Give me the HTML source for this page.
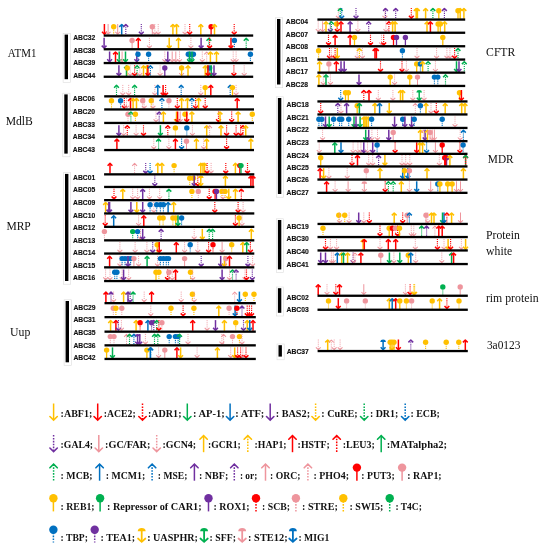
<!DOCTYPE html>
<html><head><meta charset="utf-8"><title>Figure</title>
<style>
html,body{margin:0;padding:0;background:#fff}
svg{display:block}
text{font-family:"Liberation Serif",serif;fill:#000}
.l{font-family:"Liberation Sans",sans-serif;font-weight:bold;font-size:7.7px;fill:#111;stroke:#111;stroke-width:0.15px}
.g{font-size:11.8px;fill:#111}
.k{font-weight:bold;font-size:10.4px;fill:#111;white-space:pre}
</style></head><body>
<svg width="543" height="550" viewBox="0 0 543 550">
<rect width="543" height="550" fill="#fff"/>
<rect x="64.6" y="34.6" width="3.4" height="44.6" fill="#000"/>
<rect x="63.1" y="33.4" width="7.2" height="49.0" fill="none" stroke="#dcdcdc" stroke-width="0.6"/>
<text class="l" x="73.2" y="40.0" textLength="22.2" lengthAdjust="spacingAndGlyphs">ABC32</text>
<text class="l" x="73.2" y="52.7" textLength="22.2" lengthAdjust="spacingAndGlyphs">ABC38</text>
<text class="l" x="73.2" y="64.9" textLength="22.2" lengthAdjust="spacingAndGlyphs">ABC39</text>
<text class="l" x="73.2" y="77.6" textLength="22.2" lengthAdjust="spacingAndGlyphs">ABC44</text>
<path d="M104.4 24.0V34.1" stroke="#FF0000" stroke-width="1.5" fill="none"/><path d="M102.0 31.8L104.4 34.2L106.8 31.8" stroke="#FF0000" stroke-width="1.5" fill="none" stroke-linejoin="round"/>
<path d="M108.1 24.0V34.1" stroke="#EE959D" stroke-width="1.0" fill="none"/><path d="M105.7 31.8L108.1 34.2L110.5 31.8" stroke="#EE959D" stroke-width="1.05" fill="none" stroke-linejoin="round"/>
<path d="M113.7 26.0V34.7" stroke="#FFC000" stroke-width="1.1" fill="none" stroke-dasharray="1.1 1.0"/><circle cx="113.7" cy="26.7" r="2.7" fill="#FFC000"/>
<path d="M117.7 24.0V34.1" stroke="#EE959D" stroke-width="1.0" fill="none"/><path d="M115.3 31.8L117.7 34.2L120.1 31.8" stroke="#EE959D" stroke-width="1.05" fill="none" stroke-linejoin="round"/>
<path d="M121.7 24.6V34.7" stroke="#0070C0" stroke-width="1.5" fill="none"/><path d="M119.3 26.9L121.7 24.5L124.1 26.9" stroke="#0070C0" stroke-width="1.5" fill="none" stroke-linejoin="round"/>
<path d="M125.8 24.6V34.7" stroke="#7030A0" stroke-width="1.15" fill="none" stroke-dasharray="1.1 1.0"/><path d="M123.4 26.9L125.8 24.5L128.2 26.9" stroke="#7030A0" stroke-width="1.5" fill="none" stroke-linejoin="round"/>
<path d="M141.3 24.0V34.1" stroke="#7030A0" stroke-width="1.15" fill="none" stroke-dasharray="1.1 1.0"/><path d="M138.9 31.8L141.3 34.2L143.7 31.8" stroke="#7030A0" stroke-width="1.5" fill="none" stroke-linejoin="round"/>
<path d="M152.3 26.0V34.7" stroke="#EE959D" stroke-width="1.0" fill="none"/><circle cx="152.3" cy="26.7" r="2.7" fill="#EE959D"/>
<path d="M154.8 24.0V34.1" stroke="#EE959D" stroke-width="0.85" fill="none" stroke-dasharray="1.1 1.0"/><path d="M152.4 31.8L154.8 34.2L157.2 31.8" stroke="#EE959D" stroke-width="1.05" fill="none" stroke-linejoin="round"/>
<path d="M158.2 24.0V34.1" stroke="#EE959D" stroke-width="0.85" fill="none" stroke-dasharray="1.1 1.0"/><path d="M155.8 31.8L158.2 34.2L160.6 31.8" stroke="#EE959D" stroke-width="1.05" fill="none" stroke-linejoin="round"/>
<path d="M172.9 24.6V34.7" stroke="#FFC000" stroke-width="1.5" fill="none"/><path d="M170.5 26.9L172.9 24.5L175.3 26.9" stroke="#FFC000" stroke-width="1.5" fill="none" stroke-linejoin="round"/>
<path d="M176.6 24.6V34.7" stroke="#FFC000" stroke-width="1.5" fill="none"/><path d="M174.2 26.9L176.6 24.5L179.0 26.9" stroke="#FFC000" stroke-width="1.5" fill="none" stroke-linejoin="round"/>
<path d="M185.0 24.0V34.1" stroke="#EE959D" stroke-width="0.85" fill="none" stroke-dasharray="1.1 1.0"/><path d="M182.6 31.8L185.0 34.2L187.4 31.8" stroke="#EE959D" stroke-width="1.05" fill="none" stroke-linejoin="round"/>
<path d="M189.7 24.0V34.1" stroke="#FF0000" stroke-width="1.15" fill="none" stroke-dasharray="1.1 1.0"/><path d="M187.3 31.8L189.7 34.2L192.1 31.8" stroke="#FF0000" stroke-width="1.5" fill="none" stroke-linejoin="round"/>
<path d="M200.8 24.6V34.7" stroke="#FFC000" stroke-width="1.5" fill="none"/><path d="M198.4 26.9L200.8 24.5L203.2 26.9" stroke="#FFC000" stroke-width="1.5" fill="none" stroke-linejoin="round"/>
<path d="M211.1 26.0V34.7" stroke="#FF0000" stroke-width="1.3" fill="none"/><circle cx="211.1" cy="26.7" r="2.7" fill="#FF0000"/>
<path d="M214.5 24.6V34.7" stroke="#FFC000" stroke-width="1.5" fill="none"/><path d="M212.1 26.9L214.5 24.5L216.9 26.9" stroke="#FFC000" stroke-width="1.5" fill="none" stroke-linejoin="round"/>
<path d="M234.2 24.0V34.1" stroke="#FF0000" stroke-width="1.15" fill="none" stroke-dasharray="1.1 1.0"/><path d="M231.8 31.8L234.2 34.2L236.6 31.8" stroke="#FF0000" stroke-width="1.5" fill="none" stroke-linejoin="round"/>
<path d="M104.1 37.8V47.9" stroke="#7030A0" stroke-width="1.5" fill="none"/><path d="M101.7 45.6L104.1 48.0L106.5 45.6" stroke="#7030A0" stroke-width="1.5" fill="none" stroke-linejoin="round"/>
<path d="M132.1 39.8V48.5" stroke="#EE959D" stroke-width="1.0" fill="none"/><circle cx="132.1" cy="40.5" r="2.7" fill="#EE959D"/>
<path d="M138.3 38.4V48.5" stroke="#FF0000" stroke-width="1.5" fill="none"/><path d="M135.9 40.7L138.3 38.3L140.7 40.7" stroke="#FF0000" stroke-width="1.5" fill="none" stroke-linejoin="round"/>
<path d="M149.4 37.8V47.9" stroke="#EE959D" stroke-width="0.85" fill="none" stroke-dasharray="1.1 1.0"/><path d="M147.0 45.6L149.4 48.0L151.8 45.6" stroke="#EE959D" stroke-width="1.05" fill="none" stroke-linejoin="round"/>
<path d="M169.2 37.8V47.9" stroke="#FFC000" stroke-width="1.5" fill="none"/><path d="M166.8 45.6L169.2 48.0L171.6 45.6" stroke="#FFC000" stroke-width="1.5" fill="none" stroke-linejoin="round"/>
<path d="M178.5 38.4V48.5" stroke="#FFC000" stroke-width="1.5" fill="none"/><path d="M176.1 40.7L178.5 38.3L180.9 40.7" stroke="#FFC000" stroke-width="1.5" fill="none" stroke-linejoin="round"/>
<path d="M190.9 37.8V47.9" stroke="#EE959D" stroke-width="0.85" fill="none" stroke-dasharray="1.1 1.0"/><path d="M188.5 45.6L190.9 48.0L193.3 45.6" stroke="#EE959D" stroke-width="1.05" fill="none" stroke-linejoin="round"/>
<path d="M201.1 37.8V47.9" stroke="#7030A0" stroke-width="1.5" fill="none"/><path d="M198.7 45.6L201.1 48.0L203.5 45.6" stroke="#7030A0" stroke-width="1.5" fill="none" stroke-linejoin="round"/>
<path d="M208.9 38.4V48.5" stroke="#00B050" stroke-width="1.15" fill="none" stroke-dasharray="1.1 1.0"/><path d="M206.5 40.7L208.9 38.3L211.3 40.7" stroke="#00B050" stroke-width="1.5" fill="none" stroke-linejoin="round"/>
<path d="M209.6 37.8V47.9" stroke="#FF0000" stroke-width="1.15" fill="none" stroke-dasharray="1.1 1.0"/><path d="M207.2 45.6L209.6 48.0L212.0 45.6" stroke="#FF0000" stroke-width="1.5" fill="none" stroke-linejoin="round"/>
<path d="M231.0 37.8V47.9" stroke="#FF0000" stroke-width="1.5" fill="none"/><path d="M228.6 45.6L231.0 48.0L233.4 45.6" stroke="#FF0000" stroke-width="1.5" fill="none" stroke-linejoin="round"/>
<path d="M234.4 39.8V48.5" stroke="#0070C0" stroke-width="1.1" fill="none" stroke-dasharray="1.1 1.0"/><circle cx="234.4" cy="40.5" r="2.7" fill="#0070C0"/>
<path d="M246.2 38.4V48.5" stroke="#00B050" stroke-width="1.15" fill="none" stroke-dasharray="1.1 1.0"/><path d="M243.8 40.7L246.2 38.3L248.6 40.7" stroke="#00B050" stroke-width="1.5" fill="none" stroke-linejoin="round"/>
<path d="M109.6 51.5V61.6" stroke="#7030A0" stroke-width="1.5" fill="none"/><path d="M107.2 59.3L109.6 61.7L112.0 59.3" stroke="#7030A0" stroke-width="1.5" fill="none" stroke-linejoin="round"/>
<path d="M115.5 52.1V62.2" stroke="#FF0000" stroke-width="1.5" fill="none"/><path d="M113.1 54.4L115.5 52.0L117.9 54.4" stroke="#FF0000" stroke-width="1.5" fill="none" stroke-linejoin="round"/>
<path d="M119.2 51.5V61.6" stroke="#00B050" stroke-width="1.5" fill="none"/><path d="M116.8 59.3L119.2 61.7L121.6 59.3" stroke="#00B050" stroke-width="1.5" fill="none" stroke-linejoin="round"/>
<path d="M122.1 51.5V61.6" stroke="#EE959D" stroke-width="1.0" fill="none"/><path d="M119.7 59.3L122.1 61.7L124.5 59.3" stroke="#EE959D" stroke-width="1.05" fill="none" stroke-linejoin="round"/>
<path d="M125.5 51.5V61.6" stroke="#00B050" stroke-width="1.5" fill="none"/><path d="M123.1 59.3L125.5 61.7L127.9 59.3" stroke="#00B050" stroke-width="1.5" fill="none" stroke-linejoin="round"/>
<path d="M136.8 51.5V61.6" stroke="#7030A0" stroke-width="1.5" fill="none"/><path d="M134.4 59.3L136.8 61.7L139.2 59.3" stroke="#7030A0" stroke-width="1.5" fill="none" stroke-linejoin="round"/>
<path d="M138.0 53.5V62.2" stroke="#0070C0" stroke-width="1.1" fill="none" stroke-dasharray="1.1 1.0"/><circle cx="138.0" cy="54.2" r="2.7" fill="#0070C0"/>
<path d="M148.6 53.5V62.2" stroke="#0070C0" stroke-width="1.1" fill="none" stroke-dasharray="1.1 1.0"/><circle cx="148.6" cy="54.2" r="2.7" fill="#0070C0"/>
<path d="M164.8 51.5V61.6" stroke="#EE959D" stroke-width="0.85" fill="none" stroke-dasharray="1.1 1.0"/><path d="M162.4 59.3L164.8 61.7L167.2 59.3" stroke="#EE959D" stroke-width="1.05" fill="none" stroke-linejoin="round"/>
<path d="M167.8 51.5V61.6" stroke="#7030A0" stroke-width="1.5" fill="none"/><path d="M165.4 59.3L167.8 61.7L170.2 59.3" stroke="#7030A0" stroke-width="1.5" fill="none" stroke-linejoin="round"/>
<path d="M172.2 51.5V61.6" stroke="#EE959D" stroke-width="1.0" fill="none"/><path d="M169.8 59.3L172.2 61.7L174.6 59.3" stroke="#EE959D" stroke-width="1.05" fill="none" stroke-linejoin="round"/>
<path d="M175.8 51.5V61.6" stroke="#EE959D" stroke-width="1.0" fill="none"/><path d="M173.4 59.3L175.8 61.7L178.2 59.3" stroke="#EE959D" stroke-width="1.05" fill="none" stroke-linejoin="round"/>
<path d="M179.5 51.5V61.6" stroke="#EE959D" stroke-width="0.85" fill="none" stroke-dasharray="1.1 1.0"/><path d="M177.1 59.3L179.5 61.7L181.9 59.3" stroke="#EE959D" stroke-width="1.05" fill="none" stroke-linejoin="round"/>
<path d="M188.3 53.5V62.2" stroke="#0070C0" stroke-width="1.1" fill="none" stroke-dasharray="1.1 1.0"/><circle cx="188.3" cy="54.2" r="2.7" fill="#0070C0"/>
<path d="M190.5 53.5V62.2" stroke="#0070C0" stroke-width="1.1" fill="none" stroke-dasharray="1.1 1.0"/><circle cx="190.5" cy="54.2" r="2.7" fill="#0070C0"/>
<path d="M193.4 53.5V62.2" stroke="#0070C0" stroke-width="1.1" fill="none" stroke-dasharray="1.1 1.0"/><circle cx="193.4" cy="54.2" r="2.7" fill="#0070C0"/>
<path d="M189.5 51.5V61.6" stroke="#00B050" stroke-width="1.5" fill="none"/><path d="M187.1 59.3L189.5 61.7L191.9 59.3" stroke="#00B050" stroke-width="1.5" fill="none" stroke-linejoin="round"/>
<path d="M192.0 51.5V61.6" stroke="#00B050" stroke-width="1.5" fill="none"/><path d="M189.6 59.3L192.0 61.7L194.4 59.3" stroke="#00B050" stroke-width="1.5" fill="none" stroke-linejoin="round"/>
<path d="M202.3 51.5V61.6" stroke="#EE959D" stroke-width="0.85" fill="none" stroke-dasharray="1.1 1.0"/><path d="M199.9 59.3L202.3 61.7L204.7 59.3" stroke="#EE959D" stroke-width="1.05" fill="none" stroke-linejoin="round"/>
<path d="M206.7 52.1V62.2" stroke="#EE959D" stroke-width="0.85" fill="none" stroke-dasharray="1.1 1.0"/><path d="M204.3 54.4L206.7 52.0L209.1 54.4" stroke="#EE959D" stroke-width="1.05" fill="none" stroke-linejoin="round"/>
<path d="M210.4 52.1V62.2" stroke="#FFC000" stroke-width="1.5" fill="none"/><path d="M208.0 54.4L210.4 52.0L212.8 54.4" stroke="#FFC000" stroke-width="1.5" fill="none" stroke-linejoin="round"/>
<path d="M216.5 52.1V62.2" stroke="#FFC000" stroke-width="1.5" fill="none"/><path d="M214.1 54.4L216.5 52.0L218.9 54.4" stroke="#FFC000" stroke-width="1.5" fill="none" stroke-linejoin="round"/>
<path d="M233.2 51.5V61.6" stroke="#EE959D" stroke-width="0.85" fill="none" stroke-dasharray="1.1 1.0"/><path d="M230.8 59.3L233.2 61.7L235.6 59.3" stroke="#EE959D" stroke-width="1.05" fill="none" stroke-linejoin="round"/>
<path d="M236.1 51.5V61.6" stroke="#EE959D" stroke-width="0.85" fill="none" stroke-dasharray="1.1 1.0"/><path d="M233.7 59.3L236.1 61.7L238.5 59.3" stroke="#EE959D" stroke-width="1.05" fill="none" stroke-linejoin="round"/>
<path d="M250.4 53.5V62.2" stroke="#0070C0" stroke-width="1.1" fill="none" stroke-dasharray="1.1 1.0"/><circle cx="250.4" cy="54.2" r="2.7" fill="#0070C0"/>
<path d="M118.9 65.3V75.4" stroke="#7030A0" stroke-width="1.5" fill="none"/><path d="M116.5 73.1L118.9 75.5L121.3 73.1" stroke="#7030A0" stroke-width="1.5" fill="none" stroke-linejoin="round"/>
<path d="M126.5 65.9V76.0" stroke="#00B050" stroke-width="1.5" fill="none"/><path d="M124.1 68.2L126.5 65.8L128.9 68.2" stroke="#00B050" stroke-width="1.5" fill="none" stroke-linejoin="round"/>
<path d="M127.3 67.3V76.0" stroke="#FFC000" stroke-width="1.1" fill="none" stroke-dasharray="1.1 1.0"/><circle cx="127.3" cy="68.0" r="2.7" fill="#FFC000"/>
<path d="M130.2 65.3V75.4" stroke="#EE959D" stroke-width="0.85" fill="none" stroke-dasharray="1.1 1.0"/><path d="M127.8 73.1L130.2 75.5L132.6 73.1" stroke="#EE959D" stroke-width="1.05" fill="none" stroke-linejoin="round"/>
<path d="M134.6 65.3V75.4" stroke="#FF0000" stroke-width="1.15" fill="none" stroke-dasharray="1.1 1.0"/><path d="M132.2 73.1L134.6 75.5L137.0 73.1" stroke="#FF0000" stroke-width="1.5" fill="none" stroke-linejoin="round"/>
<path d="M137.1 65.9V76.0" stroke="#00B050" stroke-width="1.15" fill="none" stroke-dasharray="1.1 1.0"/><path d="M134.7 68.2L137.1 65.8L139.5 68.2" stroke="#00B050" stroke-width="1.5" fill="none" stroke-linejoin="round"/>
<path d="M139.8 65.3V75.4" stroke="#EE959D" stroke-width="0.85" fill="none" stroke-dasharray="1.1 1.0"/><path d="M137.4 73.1L139.8 75.5L142.2 73.1" stroke="#EE959D" stroke-width="1.05" fill="none" stroke-linejoin="round"/>
<path d="M143.5 65.9V76.0" stroke="#FFC000" stroke-width="1.5" fill="none"/><path d="M141.1 68.2L143.5 65.8L145.9 68.2" stroke="#FFC000" stroke-width="1.5" fill="none" stroke-linejoin="round"/>
<path d="M146.9 65.9V76.0" stroke="#FFC000" stroke-width="1.5" fill="none"/><path d="M144.5 68.2L146.9 65.8L149.3 68.2" stroke="#FFC000" stroke-width="1.5" fill="none" stroke-linejoin="round"/>
<path d="M147.9 65.3V75.4" stroke="#FF0000" stroke-width="1.5" fill="none"/><path d="M145.5 73.1L147.9 75.5L150.3 73.1" stroke="#FF0000" stroke-width="1.5" fill="none" stroke-linejoin="round"/>
<path d="M150.4 65.9V76.0" stroke="#0070C0" stroke-width="1.15" fill="none" stroke-dasharray="1.1 1.0"/><path d="M148.0 68.2L150.4 65.8L152.8 68.2" stroke="#0070C0" stroke-width="1.5" fill="none" stroke-linejoin="round"/>
<path d="M160.1 65.3V75.4" stroke="#EE959D" stroke-width="0.85" fill="none" stroke-dasharray="1.1 1.0"/><path d="M157.7 73.1L160.1 75.5L162.5 73.1" stroke="#EE959D" stroke-width="1.05" fill="none" stroke-linejoin="round"/>
<path d="M164.8 67.3V76.0" stroke="#7030A0" stroke-width="1.3" fill="none"/><circle cx="164.8" cy="68.0" r="2.7" fill="#7030A0"/>
<path d="M181.6 65.3V75.4" stroke="#EE959D" stroke-width="0.85" fill="none" stroke-dasharray="1.1 1.0"/><path d="M179.2 73.1L181.6 75.5L184.0 73.1" stroke="#EE959D" stroke-width="1.05" fill="none" stroke-linejoin="round"/>
<path d="M181.6 67.3V76.0" stroke="#FFC000" stroke-width="1.3" fill="none"/><circle cx="181.6" cy="68.0" r="2.7" fill="#FFC000"/>
<path d="M188.0 65.9V76.0" stroke="#FFC000" stroke-width="1.5" fill="none"/><path d="M185.6 68.2L188.0 65.8L190.4 68.2" stroke="#FFC000" stroke-width="1.5" fill="none" stroke-linejoin="round"/>
<path d="M205.2 65.9V76.0" stroke="#FFC000" stroke-width="1.5" fill="none"/><path d="M202.8 68.2L205.2 65.8L207.6 68.2" stroke="#FFC000" stroke-width="1.5" fill="none" stroke-linejoin="round"/>
<path d="M207.4 65.9V76.0" stroke="#FFC000" stroke-width="1.5" fill="none"/><path d="M205.0 68.2L207.4 65.8L209.8 68.2" stroke="#FFC000" stroke-width="1.5" fill="none" stroke-linejoin="round"/>
<path d="M209.6 67.3V76.0" stroke="#0070C0" stroke-width="1.1" fill="none" stroke-dasharray="1.1 1.0"/><circle cx="209.6" cy="68.0" r="2.7" fill="#0070C0"/>
<path d="M211.2 65.3V75.4" stroke="#00B050" stroke-width="1.5" fill="none"/><path d="M208.8 73.1L211.2 75.5L213.6 73.1" stroke="#00B050" stroke-width="1.5" fill="none" stroke-linejoin="round"/>
<path d="M214.0 65.3V75.4" stroke="#7030A0" stroke-width="1.5" fill="none"/><path d="M211.6 73.1L214.0 75.5L216.4 73.1" stroke="#7030A0" stroke-width="1.5" fill="none" stroke-linejoin="round"/>
<path d="M208.0 65.3V75.4" stroke="#FF0000" stroke-width="1.5" fill="none"/><path d="M205.6 73.1L208.0 75.5L210.4 73.1" stroke="#FF0000" stroke-width="1.5" fill="none" stroke-linejoin="round"/>
<path d="M233.9 65.3V75.4" stroke="#FF0000" stroke-width="1.15" fill="none" stroke-dasharray="1.1 1.0"/><path d="M231.5 73.1L233.9 75.5L236.3 73.1" stroke="#FF0000" stroke-width="1.5" fill="none" stroke-linejoin="round"/>
<path d="M244.2 65.3V75.4" stroke="#EE959D" stroke-width="0.85" fill="none" stroke-dasharray="1.1 1.0"/><path d="M241.8 73.1L244.2 75.5L246.6 73.1" stroke="#EE959D" stroke-width="1.05" fill="none" stroke-linejoin="round"/>
<rect x="103.7" y="34.4" width="149.5" height="2.3" fill="#000"/>
<rect x="103.7" y="48.1" width="149.5" height="2.3" fill="#000"/>
<rect x="103.7" y="61.9" width="149.5" height="2.3" fill="#000"/>
<rect x="103.7" y="75.6" width="149.5" height="2.3" fill="#000"/>
<text class="g" x="7.8" y="56.6" textLength="28.6" lengthAdjust="spacingAndGlyphs">ATM1</text>
<rect x="64.3" y="94.4" width="3.4" height="59.2" fill="#000"/>
<rect x="62.8" y="93.2" width="7.2" height="63.6" fill="none" stroke="#dcdcdc" stroke-width="0.6"/>
<text class="l" x="72.8" y="101.4" textLength="22.2" lengthAdjust="spacingAndGlyphs">ABC06</text>
<text class="l" x="72.8" y="113.8" textLength="22.2" lengthAdjust="spacingAndGlyphs">ABC20</text>
<text class="l" x="72.8" y="126.6" textLength="22.2" lengthAdjust="spacingAndGlyphs">ABC33</text>
<text class="l" x="72.8" y="139.2" textLength="22.2" lengthAdjust="spacingAndGlyphs">ABC34</text>
<text class="l" x="72.8" y="151.9" textLength="22.2" lengthAdjust="spacingAndGlyphs">ABC43</text>
<path d="M116.5 85.5V95.6" stroke="#00B050" stroke-width="1.15" fill="none" stroke-dasharray="1.1 1.0"/><path d="M114.1 87.8L116.5 85.4L118.9 87.8" stroke="#00B050" stroke-width="1.5" fill="none" stroke-linejoin="round"/>
<path d="M122.8 84.9V95.0" stroke="#EE959D" stroke-width="0.85" fill="none" stroke-dasharray="1.1 1.0"/><path d="M120.4 92.7L122.8 95.1L125.2 92.7" stroke="#EE959D" stroke-width="1.05" fill="none" stroke-linejoin="round"/>
<path d="M128.7 84.9V95.0" stroke="#EE959D" stroke-width="0.85" fill="none" stroke-dasharray="1.1 1.0"/><path d="M126.3 92.7L128.7 95.1L131.1 92.7" stroke="#EE959D" stroke-width="1.05" fill="none" stroke-linejoin="round"/>
<path d="M134.6 85.5V95.6" stroke="#00B050" stroke-width="1.15" fill="none" stroke-dasharray="1.1 1.0"/><path d="M132.2 87.8L134.6 85.4L137.0 87.8" stroke="#00B050" stroke-width="1.5" fill="none" stroke-linejoin="round"/>
<path d="M154.8 84.9V95.0" stroke="#EE959D" stroke-width="0.85" fill="none" stroke-dasharray="1.1 1.0"/><path d="M152.4 92.7L154.8 95.1L157.2 92.7" stroke="#EE959D" stroke-width="1.05" fill="none" stroke-linejoin="round"/>
<path d="M157.8 85.5V95.6" stroke="#0070C0" stroke-width="1.5" fill="none"/><path d="M155.4 87.8L157.8 85.4L160.2 87.8" stroke="#0070C0" stroke-width="1.5" fill="none" stroke-linejoin="round"/>
<path d="M163.1 84.9V95.0" stroke="#FF0000" stroke-width="1.5" fill="none"/><path d="M160.7 92.7L163.1 95.1L165.5 92.7" stroke="#FF0000" stroke-width="1.5" fill="none" stroke-linejoin="round"/>
<path d="M165.6 84.9V95.0" stroke="#FF0000" stroke-width="1.15" fill="none" stroke-dasharray="1.1 1.0"/><path d="M163.2 92.7L165.6 95.1L168.0 92.7" stroke="#FF0000" stroke-width="1.5" fill="none" stroke-linejoin="round"/>
<path d="M181.2 85.5V95.6" stroke="#0070C0" stroke-width="1.15" fill="none" stroke-dasharray="1.1 1.0"/><path d="M178.8 87.8L181.2 85.4L183.6 87.8" stroke="#0070C0" stroke-width="1.5" fill="none" stroke-linejoin="round"/>
<path d="M200.8 84.9V95.0" stroke="#EE959D" stroke-width="0.85" fill="none" stroke-dasharray="1.1 1.0"/><path d="M198.4 92.7L200.8 95.1L203.2 92.7" stroke="#EE959D" stroke-width="1.05" fill="none" stroke-linejoin="round"/>
<path d="M205.2 86.9V95.6" stroke="#FFC000" stroke-width="1.3" fill="none"/><circle cx="205.2" cy="87.6" r="2.7" fill="#FFC000"/>
<path d="M210.8 85.5V95.6" stroke="#FF0000" stroke-width="1.5" fill="none"/><path d="M208.4 87.8L210.8 85.4L213.2 87.8" stroke="#FF0000" stroke-width="1.5" fill="none" stroke-linejoin="round"/>
<path d="M230.2 85.5V95.6" stroke="#0070C0" stroke-width="1.15" fill="none" stroke-dasharray="1.1 1.0"/><path d="M227.8 87.8L230.2 85.4L232.6 87.8" stroke="#0070C0" stroke-width="1.5" fill="none" stroke-linejoin="round"/>
<path d="M232.5 86.9V95.6" stroke="#FFC000" stroke-width="1.3" fill="none"/><circle cx="232.5" cy="87.6" r="2.7" fill="#FFC000"/>
<path d="M236.1 84.9V95.0" stroke="#EE959D" stroke-width="0.85" fill="none" stroke-dasharray="1.1 1.0"/><path d="M233.7 92.7L236.1 95.1L238.5 92.7" stroke="#EE959D" stroke-width="1.05" fill="none" stroke-linejoin="round"/>
<path d="M111.5 100.0V108.7" stroke="#FFC000" stroke-width="1.1" fill="none" stroke-dasharray="1.1 1.0"/><circle cx="111.5" cy="100.7" r="2.7" fill="#FFC000"/>
<path d="M120.6 100.0V108.7" stroke="#0070C0" stroke-width="1.1" fill="none" stroke-dasharray="1.1 1.0"/><circle cx="120.6" cy="100.7" r="2.7" fill="#0070C0"/>
<path d="M124.3 98.0V108.1" stroke="#FF0000" stroke-width="1.15" fill="none" stroke-dasharray="1.1 1.0"/><path d="M121.9 105.8L124.3 108.2L126.7 105.8" stroke="#FF0000" stroke-width="1.5" fill="none" stroke-linejoin="round"/>
<path d="M126.5 98.0V108.1" stroke="#EE959D" stroke-width="0.85" fill="none" stroke-dasharray="1.1 1.0"/><path d="M124.1 105.8L126.5 108.2L128.9 105.8" stroke="#EE959D" stroke-width="1.05" fill="none" stroke-linejoin="round"/>
<path d="M130.5 98.6V108.7" stroke="#FF0000" stroke-width="1.5" fill="none"/><path d="M128.1 100.9L130.5 98.5L132.9 100.9" stroke="#FF0000" stroke-width="1.5" fill="none" stroke-linejoin="round"/>
<path d="M133.1 98.6V108.7" stroke="#FFC000" stroke-width="1.5" fill="none"/><path d="M130.7 100.9L133.1 98.5L135.5 100.9" stroke="#FFC000" stroke-width="1.5" fill="none" stroke-linejoin="round"/>
<path d="M136.5 98.6V108.7" stroke="#FFC000" stroke-width="1.5" fill="none"/><path d="M134.1 100.9L136.5 98.5L138.9 100.9" stroke="#FFC000" stroke-width="1.5" fill="none" stroke-linejoin="round"/>
<path d="M142.7 100.0V108.7" stroke="#EE959D" stroke-width="0.85" fill="none" stroke-dasharray="1.1 1.0"/><circle cx="142.7" cy="100.7" r="2.7" fill="#EE959D"/>
<path d="M144.2 98.0V108.1" stroke="#EE959D" stroke-width="0.85" fill="none" stroke-dasharray="1.1 1.0"/><path d="M141.8 105.8L144.2 108.2L146.6 105.8" stroke="#EE959D" stroke-width="1.05" fill="none" stroke-linejoin="round"/>
<path d="M151.3 100.0V108.7" stroke="#FFC000" stroke-width="1.1" fill="none" stroke-dasharray="1.1 1.0"/><circle cx="151.3" cy="100.7" r="2.7" fill="#FFC000"/>
<path d="M153.0 98.0V108.1" stroke="#EE959D" stroke-width="0.85" fill="none" stroke-dasharray="1.1 1.0"/><path d="M150.6 105.8L153.0 108.2L155.4 105.8" stroke="#EE959D" stroke-width="1.05" fill="none" stroke-linejoin="round"/>
<path d="M161.9 98.6V108.7" stroke="#0070C0" stroke-width="1.15" fill="none" stroke-dasharray="1.1 1.0"/><path d="M159.5 100.9L161.9 98.5L164.3 100.9" stroke="#0070C0" stroke-width="1.5" fill="none" stroke-linejoin="round"/>
<path d="M168.9 100.0V108.7" stroke="#EE959D" stroke-width="0.85" fill="none" stroke-dasharray="1.1 1.0"/><circle cx="168.9" cy="100.7" r="2.7" fill="#EE959D"/>
<path d="M177.3 98.0V108.1" stroke="#FF0000" stroke-width="1.15" fill="none" stroke-dasharray="1.1 1.0"/><path d="M174.9 105.8L177.3 108.2L179.7 105.8" stroke="#FF0000" stroke-width="1.5" fill="none" stroke-linejoin="round"/>
<path d="M181.6 98.6V108.7" stroke="#FFC000" stroke-width="1.5" fill="none"/><path d="M179.2 100.9L181.6 98.5L184.0 100.9" stroke="#FFC000" stroke-width="1.5" fill="none" stroke-linejoin="round"/>
<path d="M187.5 98.6V108.7" stroke="#FFC000" stroke-width="1.5" fill="none"/><path d="M185.1 100.9L187.5 98.5L189.9 100.9" stroke="#FFC000" stroke-width="1.5" fill="none" stroke-linejoin="round"/>
<path d="M191.9 98.6V108.7" stroke="#0070C0" stroke-width="1.15" fill="none" stroke-dasharray="1.1 1.0"/><path d="M189.5 100.9L191.9 98.5L194.3 100.9" stroke="#0070C0" stroke-width="1.5" fill="none" stroke-linejoin="round"/>
<path d="M195.6 98.0V108.1" stroke="#FF0000" stroke-width="1.15" fill="none" stroke-dasharray="1.1 1.0"/><path d="M193.2 105.8L195.6 108.2L198.0 105.8" stroke="#FF0000" stroke-width="1.5" fill="none" stroke-linejoin="round"/>
<path d="M198.6 98.6V108.7" stroke="#FFC000" stroke-width="1.5" fill="none"/><path d="M196.2 100.9L198.6 98.5L201.0 100.9" stroke="#FFC000" stroke-width="1.5" fill="none" stroke-linejoin="round"/>
<path d="M205.2 98.0V108.1" stroke="#FF0000" stroke-width="1.15" fill="none" stroke-dasharray="1.1 1.0"/><path d="M202.8 105.8L205.2 108.2L207.6 105.8" stroke="#FF0000" stroke-width="1.5" fill="none" stroke-linejoin="round"/>
<path d="M237.2 98.6V108.7" stroke="#FF0000" stroke-width="1.5" fill="none"/><path d="M234.8 100.9L237.2 98.5L239.6 100.9" stroke="#FF0000" stroke-width="1.5" fill="none" stroke-linejoin="round"/>
<path d="M128.0 113.5V122.2" stroke="#EE959D" stroke-width="0.85" fill="none" stroke-dasharray="1.1 1.0"/><circle cx="128.0" cy="114.2" r="2.7" fill="#EE959D"/>
<path d="M130.9 112.1V122.2" stroke="#00B050" stroke-width="1.15" fill="none" stroke-dasharray="1.1 1.0"/><path d="M128.5 114.4L130.9 112.0L133.3 114.4" stroke="#00B050" stroke-width="1.5" fill="none" stroke-linejoin="round"/>
<path d="M135.4 113.5V122.2" stroke="#FFC000" stroke-width="1.1" fill="none" stroke-dasharray="1.1 1.0"/><circle cx="135.4" cy="114.2" r="2.7" fill="#FFC000"/>
<path d="M156.0 111.5V121.6" stroke="#EE959D" stroke-width="0.85" fill="none" stroke-dasharray="1.1 1.0"/><path d="M153.6 119.3L156.0 121.7L158.4 119.3" stroke="#EE959D" stroke-width="1.05" fill="none" stroke-linejoin="round"/>
<path d="M159.2 112.1V122.2" stroke="#7030A0" stroke-width="1.15" fill="none" stroke-dasharray="1.1 1.0"/><path d="M156.8 114.4L159.2 112.0L161.6 114.4" stroke="#7030A0" stroke-width="1.5" fill="none" stroke-linejoin="round"/>
<path d="M163.4 112.1V122.2" stroke="#FFC000" stroke-width="1.5" fill="none"/><path d="M161.0 114.4L163.4 112.0L165.8 114.4" stroke="#FFC000" stroke-width="1.5" fill="none" stroke-linejoin="round"/>
<path d="M176.5 111.5V121.6" stroke="#FFC000" stroke-width="1.5" fill="none"/><path d="M174.1 119.3L176.5 121.7L178.9 119.3" stroke="#FFC000" stroke-width="1.5" fill="none" stroke-linejoin="round"/>
<path d="M177.6 111.5V121.6" stroke="#FF0000" stroke-width="1.5" fill="none"/><path d="M175.2 119.3L177.6 121.7L180.0 119.3" stroke="#FF0000" stroke-width="1.5" fill="none" stroke-linejoin="round"/>
<path d="M180.2 111.5V121.6" stroke="#EE959D" stroke-width="1.0" fill="none"/><path d="M177.8 119.3L180.2 121.7L182.6 119.3" stroke="#EE959D" stroke-width="1.05" fill="none" stroke-linejoin="round"/>
<path d="M185.0 113.5V122.2" stroke="#FFC000" stroke-width="1.1" fill="none" stroke-dasharray="1.1 1.0"/><circle cx="185.0" cy="114.2" r="2.7" fill="#FFC000"/>
<path d="M186.8 111.5V121.6" stroke="#FF0000" stroke-width="1.5" fill="none"/><path d="M184.4 119.3L186.8 121.7L189.2 119.3" stroke="#FF0000" stroke-width="1.5" fill="none" stroke-linejoin="round"/>
<path d="M191.9 112.1V122.2" stroke="#FFC000" stroke-width="1.5" fill="none"/><path d="M189.5 114.4L191.9 112.0L194.3 114.4" stroke="#FFC000" stroke-width="1.5" fill="none" stroke-linejoin="round"/>
<path d="M218.5 111.5V121.6" stroke="#FF0000" stroke-width="1.15" fill="none" stroke-dasharray="1.1 1.0"/><path d="M216.1 119.3L218.5 121.7L220.9 119.3" stroke="#FF0000" stroke-width="1.5" fill="none" stroke-linejoin="round"/>
<path d="M220.0 112.1V122.2" stroke="#FFC000" stroke-width="1.5" fill="none"/><path d="M217.6 114.4L220.0 112.0L222.4 114.4" stroke="#FFC000" stroke-width="1.5" fill="none" stroke-linejoin="round"/>
<path d="M231.7 111.5V121.6" stroke="#FF0000" stroke-width="1.15" fill="none" stroke-dasharray="1.1 1.0"/><path d="M229.3 119.3L231.7 121.7L234.1 119.3" stroke="#FF0000" stroke-width="1.5" fill="none" stroke-linejoin="round"/>
<path d="M238.1 112.1V122.2" stroke="#FFC000" stroke-width="1.5" fill="none"/><path d="M235.7 114.4L238.1 112.0L240.5 114.4" stroke="#FFC000" stroke-width="1.5" fill="none" stroke-linejoin="round"/>
<path d="M252.3 113.5V122.2" stroke="#FFC000" stroke-width="1.1" fill="none" stroke-dasharray="1.1 1.0"/><circle cx="252.3" cy="114.2" r="2.7" fill="#FFC000"/>
<path d="M118.9 125.2V135.3" stroke="#7030A0" stroke-width="1.5" fill="none"/><path d="M116.5 133.0L118.9 135.4L121.3 133.0" stroke="#7030A0" stroke-width="1.5" fill="none" stroke-linejoin="round"/>
<path d="M123.6 125.2V135.3" stroke="#EE959D" stroke-width="0.85" fill="none" stroke-dasharray="1.1 1.0"/><path d="M121.2 133.0L123.6 135.4L126.0 133.0" stroke="#EE959D" stroke-width="1.05" fill="none" stroke-linejoin="round"/>
<path d="M127.3 125.8V135.9" stroke="#FF0000" stroke-width="1.15" fill="none" stroke-dasharray="1.1 1.0"/><path d="M124.9 128.1L127.3 125.7L129.7 128.1" stroke="#FF0000" stroke-width="1.5" fill="none" stroke-linejoin="round"/>
<path d="M136.1 125.2V135.3" stroke="#EE959D" stroke-width="0.85" fill="none" stroke-dasharray="1.1 1.0"/><path d="M133.7 133.0L136.1 135.4L138.5 133.0" stroke="#EE959D" stroke-width="1.05" fill="none" stroke-linejoin="round"/>
<path d="M143.5 125.2V135.3" stroke="#FF0000" stroke-width="1.15" fill="none" stroke-dasharray="1.1 1.0"/><path d="M141.1 133.0L143.5 135.4L145.9 133.0" stroke="#FF0000" stroke-width="1.5" fill="none" stroke-linejoin="round"/>
<path d="M160.4 125.2V135.3" stroke="#00B050" stroke-width="1.5" fill="none"/><path d="M158.0 133.0L160.4 135.4L162.8 133.0" stroke="#00B050" stroke-width="1.5" fill="none" stroke-linejoin="round"/>
<path d="M167.8 125.8V135.9" stroke="#FF0000" stroke-width="1.15" fill="none" stroke-dasharray="1.1 1.0"/><path d="M165.4 128.1L167.8 125.7L170.2 128.1" stroke="#FF0000" stroke-width="1.5" fill="none" stroke-linejoin="round"/>
<path d="M175.4 127.2V135.9" stroke="#FFC000" stroke-width="1.1" fill="none" stroke-dasharray="1.1 1.0"/><circle cx="175.4" cy="127.9" r="2.7" fill="#FFC000"/>
<path d="M186.8 127.2V135.9" stroke="#0070C0" stroke-width="1.1" fill="none" stroke-dasharray="1.1 1.0"/><circle cx="186.8" cy="127.9" r="2.7" fill="#0070C0"/>
<path d="M192.4 125.2V135.3" stroke="#EE959D" stroke-width="0.85" fill="none" stroke-dasharray="1.1 1.0"/><path d="M190.0 133.0L192.4 135.4L194.8 133.0" stroke="#EE959D" stroke-width="1.05" fill="none" stroke-linejoin="round"/>
<path d="M206.7 125.8V135.9" stroke="#FFC000" stroke-width="1.5" fill="none"/><path d="M204.3 128.1L206.7 125.7L209.1 128.1" stroke="#FFC000" stroke-width="1.5" fill="none" stroke-linejoin="round"/>
<path d="M209.6 125.8V135.9" stroke="#EE959D" stroke-width="0.85" fill="none" stroke-dasharray="1.1 1.0"/><path d="M207.2 128.1L209.6 125.7L212.0 128.1" stroke="#EE959D" stroke-width="1.05" fill="none" stroke-linejoin="round"/>
<path d="M221.0 125.8V135.9" stroke="#FFC000" stroke-width="1.5" fill="none"/><path d="M218.6 128.1L221.0 125.7L223.4 128.1" stroke="#FFC000" stroke-width="1.5" fill="none" stroke-linejoin="round"/>
<path d="M226.6 125.2V135.3" stroke="#FF0000" stroke-width="1.15" fill="none" stroke-dasharray="1.1 1.0"/><path d="M224.2 133.0L226.6 135.4L229.0 133.0" stroke="#FF0000" stroke-width="1.5" fill="none" stroke-linejoin="round"/>
<path d="M236.1 125.2V135.3" stroke="#FF0000" stroke-width="1.15" fill="none" stroke-dasharray="1.1 1.0"/><path d="M233.7 133.0L236.1 135.4L238.5 133.0" stroke="#FF0000" stroke-width="1.5" fill="none" stroke-linejoin="round"/>
<path d="M240.6 125.2V135.3" stroke="#FF0000" stroke-width="1.15" fill="none" stroke-dasharray="1.1 1.0"/><path d="M238.2 133.0L240.6 135.4L243.0 133.0" stroke="#FF0000" stroke-width="1.5" fill="none" stroke-linejoin="round"/>
<path d="M243.0 125.8V135.9" stroke="#FF0000" stroke-width="1.15" fill="none" stroke-dasharray="1.1 1.0"/><path d="M240.6 128.1L243.0 125.7L245.4 128.1" stroke="#FF0000" stroke-width="1.5" fill="none" stroke-linejoin="round"/>
<path d="M245.7 125.8V135.9" stroke="#FFC000" stroke-width="1.5" fill="none"/><path d="M243.3 128.1L245.7 125.7L248.1 128.1" stroke="#FFC000" stroke-width="1.5" fill="none" stroke-linejoin="round"/>
<path d="M116.9 139.2V149.3" stroke="#FF0000" stroke-width="1.5" fill="none"/><path d="M114.5 141.5L116.9 139.1L119.3 141.5" stroke="#FF0000" stroke-width="1.5" fill="none" stroke-linejoin="round"/>
<path d="M153.8 138.6V148.7" stroke="#EE959D" stroke-width="0.85" fill="none" stroke-dasharray="1.1 1.0"/><path d="M151.4 146.4L153.8 148.8L156.2 146.4" stroke="#EE959D" stroke-width="1.05" fill="none" stroke-linejoin="round"/>
<path d="M158.6 139.2V149.3" stroke="#00B050" stroke-width="1.15" fill="none" stroke-dasharray="1.1 1.0"/><path d="M156.2 141.5L158.6 139.1L161.0 141.5" stroke="#00B050" stroke-width="1.5" fill="none" stroke-linejoin="round"/>
<path d="M168.9 138.6V148.7" stroke="#EE959D" stroke-width="0.85" fill="none" stroke-dasharray="1.1 1.0"/><path d="M166.5 146.4L168.9 148.8L171.3 146.4" stroke="#EE959D" stroke-width="1.05" fill="none" stroke-linejoin="round"/>
<path d="M175.4 139.2V149.3" stroke="#FF0000" stroke-width="1.5" fill="none"/><path d="M173.0 141.5L175.4 139.1L177.8 141.5" stroke="#FF0000" stroke-width="1.5" fill="none" stroke-linejoin="round"/>
<path d="M181.6 138.6V148.7" stroke="#0070C0" stroke-width="1.15" fill="none" stroke-dasharray="1.1 1.0"/><path d="M179.2 146.4L181.6 148.8L184.0 146.4" stroke="#0070C0" stroke-width="1.5" fill="none" stroke-linejoin="round"/>
<path d="M186.5 140.6V149.3" stroke="#EE959D" stroke-width="1.0" fill="none"/><circle cx="186.5" cy="141.3" r="2.7" fill="#EE959D"/>
<path d="M196.4 139.2V149.3" stroke="#FFC000" stroke-width="1.5" fill="none"/><path d="M194.0 141.5L196.4 139.1L198.8 141.5" stroke="#FFC000" stroke-width="1.5" fill="none" stroke-linejoin="round"/>
<path d="M203.7 138.6V148.7" stroke="#EE959D" stroke-width="0.85" fill="none" stroke-dasharray="1.1 1.0"/><path d="M201.3 146.4L203.7 148.8L206.1 146.4" stroke="#EE959D" stroke-width="1.05" fill="none" stroke-linejoin="round"/>
<path d="M206.7 139.2V149.3" stroke="#FFC000" stroke-width="1.5" fill="none"/><path d="M204.3 141.5L206.7 139.1L209.1 141.5" stroke="#FFC000" stroke-width="1.5" fill="none" stroke-linejoin="round"/>
<path d="M226.6 138.6V148.7" stroke="#FF0000" stroke-width="1.15" fill="none" stroke-dasharray="1.1 1.0"/><path d="M224.2 146.4L226.6 148.8L229.0 146.4" stroke="#FF0000" stroke-width="1.5" fill="none" stroke-linejoin="round"/>
<path d="M250.9 139.2V149.3" stroke="#FFC000" stroke-width="1.5" fill="none"/><path d="M248.5 141.5L250.9 139.1L253.3 141.5" stroke="#FFC000" stroke-width="1.5" fill="none" stroke-linejoin="round"/>
<rect x="104.2" y="95.2" width="149.8" height="2.3" fill="#000"/>
<rect x="104.2" y="108.3" width="149.8" height="2.3" fill="#000"/>
<rect x="104.2" y="121.8" width="149.8" height="2.3" fill="#000"/>
<rect x="104.2" y="135.5" width="149.8" height="2.3" fill="#000"/>
<rect x="104.2" y="148.9" width="149.8" height="2.3" fill="#000"/>
<text class="g" x="5.7" y="124.7" textLength="27.2" lengthAdjust="spacingAndGlyphs">MdlB</text>
<rect x="65.0" y="173.9" width="3.4" height="107.1" fill="#000"/>
<rect x="63.5" y="172.7" width="7.2" height="111.5" fill="none" stroke="#dcdcdc" stroke-width="0.6"/>
<text class="l" x="73.1" y="179.9" textLength="22.2" lengthAdjust="spacingAndGlyphs">ABC01</text>
<text class="l" x="73.1" y="192.3" textLength="22.2" lengthAdjust="spacingAndGlyphs">ABC05</text>
<text class="l" x="73.1" y="204.8" textLength="22.2" lengthAdjust="spacingAndGlyphs">ABC09</text>
<text class="l" x="73.1" y="217.5" textLength="22.2" lengthAdjust="spacingAndGlyphs">ABC10</text>
<text class="l" x="73.1" y="230.1" textLength="22.2" lengthAdjust="spacingAndGlyphs">ABC12</text>
<text class="l" x="73.1" y="242.6" textLength="22.2" lengthAdjust="spacingAndGlyphs">ABC13</text>
<text class="l" x="73.1" y="255.2" textLength="22.2" lengthAdjust="spacingAndGlyphs">ABC14</text>
<text class="l" x="73.1" y="267.8" textLength="22.2" lengthAdjust="spacingAndGlyphs">ABC15</text>
<text class="l" x="73.1" y="280.4" textLength="22.2" lengthAdjust="spacingAndGlyphs">ABC16</text>
<path d="M110.0 163.5V173.6" stroke="#FF0000" stroke-width="1.5" fill="none"/><path d="M107.6 165.8L110.0 163.4L112.4 165.8" stroke="#FF0000" stroke-width="1.5" fill="none" stroke-linejoin="round"/>
<path d="M134.6 163.5V173.6" stroke="#EE959D" stroke-width="0.85" fill="none" stroke-dasharray="1.1 1.0"/><path d="M132.2 165.8L134.6 163.4L137.0 165.8" stroke="#EE959D" stroke-width="1.05" fill="none" stroke-linejoin="round"/>
<path d="M145.7 162.9V173.0" stroke="#7030A0" stroke-width="1.15" fill="none" stroke-dasharray="1.1 1.0"/><path d="M143.3 170.7L145.7 173.1L148.1 170.7" stroke="#7030A0" stroke-width="1.5" fill="none" stroke-linejoin="round"/>
<path d="M150.1 162.9V173.0" stroke="#0070C0" stroke-width="1.15" fill="none" stroke-dasharray="1.1 1.0"/><path d="M147.7 170.7L150.1 173.1L152.5 170.7" stroke="#0070C0" stroke-width="1.5" fill="none" stroke-linejoin="round"/>
<path d="M157.8 163.5V173.6" stroke="#FFC000" stroke-width="1.5" fill="none"/><path d="M155.4 165.8L157.8 163.4L160.2 165.8" stroke="#FFC000" stroke-width="1.5" fill="none" stroke-linejoin="round"/>
<path d="M161.9 163.5V173.6" stroke="#FFC000" stroke-width="1.5" fill="none"/><path d="M159.5 165.8L161.9 163.4L164.3 165.8" stroke="#FFC000" stroke-width="1.5" fill="none" stroke-linejoin="round"/>
<path d="M174.1 164.9V173.6" stroke="#FFC000" stroke-width="1.1" fill="none" stroke-dasharray="1.1 1.0"/><circle cx="174.1" cy="165.6" r="2.7" fill="#FFC000"/>
<path d="M200.8 163.5V173.6" stroke="#FFC000" stroke-width="1.5" fill="none"/><path d="M198.4 165.8L200.8 163.4L203.2 165.8" stroke="#FFC000" stroke-width="1.5" fill="none" stroke-linejoin="round"/>
<path d="M204.5 163.5V173.6" stroke="#FFC000" stroke-width="1.5" fill="none"/><path d="M202.1 165.8L204.5 163.4L206.9 165.8" stroke="#FFC000" stroke-width="1.5" fill="none" stroke-linejoin="round"/>
<path d="M203.0 163.5V173.6" stroke="#FFC000" stroke-width="1.5" fill="none"/><path d="M200.6 165.8L203.0 163.4L205.4 165.8" stroke="#FFC000" stroke-width="1.5" fill="none" stroke-linejoin="round"/>
<path d="M207.1 162.9V173.0" stroke="#FF0000" stroke-width="1.15" fill="none" stroke-dasharray="1.1 1.0"/><path d="M204.7 170.7L207.1 173.1L209.5 170.7" stroke="#FF0000" stroke-width="1.5" fill="none" stroke-linejoin="round"/>
<path d="M211.1 162.9V173.0" stroke="#EE959D" stroke-width="0.85" fill="none" stroke-dasharray="1.1 1.0"/><path d="M208.7 170.7L211.1 173.1L213.5 170.7" stroke="#EE959D" stroke-width="1.05" fill="none" stroke-linejoin="round"/>
<path d="M225.8 162.9V173.0" stroke="#FF0000" stroke-width="1.15" fill="none" stroke-dasharray="1.1 1.0"/><path d="M223.4 170.7L225.8 173.1L228.2 170.7" stroke="#FF0000" stroke-width="1.5" fill="none" stroke-linejoin="round"/>
<path d="M235.4 163.5V173.6" stroke="#FFC000" stroke-width="1.5" fill="none"/><path d="M233.0 165.8L235.4 163.4L237.8 165.8" stroke="#FFC000" stroke-width="1.5" fill="none" stroke-linejoin="round"/>
<path d="M239.8 164.9V173.6" stroke="#FF0000" stroke-width="1.3" fill="none"/><circle cx="239.8" cy="165.6" r="2.7" fill="#FF0000"/>
<path d="M241.0 164.9V173.6" stroke="#00B050" stroke-width="1.3" fill="none"/><circle cx="241.0" cy="165.6" r="2.7" fill="#00B050"/>
<path d="M247.5 162.9V173.0" stroke="#FF0000" stroke-width="1.15" fill="none" stroke-dasharray="1.1 1.0"/><path d="M245.1 170.7L247.5 173.1L249.9 170.7" stroke="#FF0000" stroke-width="1.5" fill="none" stroke-linejoin="round"/>
<path d="M154.8 175.5V185.6" stroke="#7030A0" stroke-width="1.15" fill="none" stroke-dasharray="1.1 1.0"/><path d="M152.4 183.3L154.8 185.7L157.2 183.3" stroke="#7030A0" stroke-width="1.5" fill="none" stroke-linejoin="round"/>
<path d="M189.7 177.5V186.2" stroke="#FFC000" stroke-width="1.1" fill="none" stroke-dasharray="1.1 1.0"/><circle cx="189.7" cy="178.2" r="2.7" fill="#FFC000"/>
<path d="M193.4 177.5V186.2" stroke="#FFC000" stroke-width="1.1" fill="none" stroke-dasharray="1.1 1.0"/><circle cx="193.4" cy="178.2" r="2.7" fill="#FFC000"/>
<path d="M194.2 175.5V185.6" stroke="#7030A0" stroke-width="1.5" fill="none"/><path d="M191.8 183.3L194.2 185.7L196.6 183.3" stroke="#7030A0" stroke-width="1.5" fill="none" stroke-linejoin="round"/>
<path d="M197.8 175.5V185.6" stroke="#FF0000" stroke-width="1.15" fill="none" stroke-dasharray="1.1 1.0"/><path d="M195.4 183.3L197.8 185.7L200.2 183.3" stroke="#FF0000" stroke-width="1.5" fill="none" stroke-linejoin="round"/>
<path d="M200.8 176.5V185.6" stroke="#FFC000" stroke-width="1.5" fill="none"/><path d="M197.9 177.9Q198.2 175.5 200.8 175.5Q203.4 175.5 203.7 177.9Z" fill="#FFC000"/><path d="M198.4 183.3L200.8 185.7L203.2 183.3" stroke="#FFC000" stroke-width="1.5" fill="none" stroke-linejoin="round"/>
<path d="M225.4 176.1V186.2" stroke="#FFC000" stroke-width="1.5" fill="none"/><path d="M223.0 178.4L225.4 176.0L227.8 178.4" stroke="#FFC000" stroke-width="1.5" fill="none" stroke-linejoin="round"/>
<path d="M250.9 176.1V186.2" stroke="#FF0000" stroke-width="1.5" fill="none"/><path d="M248.5 178.4L250.9 176.0L253.3 178.4" stroke="#FF0000" stroke-width="1.5" fill="none" stroke-linejoin="round"/>
<path d="M253.0 176.1V186.2" stroke="#FF0000" stroke-width="1.5" fill="none"/><path d="M250.6 178.4L253.0 176.0L255.4 178.4" stroke="#FF0000" stroke-width="1.5" fill="none" stroke-linejoin="round"/>
<path d="M114.0 188.7V198.8" stroke="#FF0000" stroke-width="1.15" fill="none" stroke-dasharray="1.1 1.0"/><path d="M111.6 196.5L114.0 198.9L116.4 196.5" stroke="#FF0000" stroke-width="1.5" fill="none" stroke-linejoin="round"/>
<path d="M122.8 189.3V199.4" stroke="#FFC000" stroke-width="1.5" fill="none"/><path d="M120.4 191.6L122.8 189.2L125.2 191.6" stroke="#FFC000" stroke-width="1.5" fill="none" stroke-linejoin="round"/>
<path d="M132.7 188.7V198.8" stroke="#EE959D" stroke-width="0.85" fill="none" stroke-dasharray="1.1 1.0"/><path d="M130.3 196.5L132.7 198.9L135.1 196.5" stroke="#EE959D" stroke-width="1.05" fill="none" stroke-linejoin="round"/>
<path d="M137.6 188.7V198.8" stroke="#EE959D" stroke-width="0.85" fill="none" stroke-dasharray="1.1 1.0"/><path d="M135.2 196.5L137.6 198.9L140.0 196.5" stroke="#EE959D" stroke-width="1.05" fill="none" stroke-linejoin="round"/>
<path d="M142.7 189.3V199.4" stroke="#7030A0" stroke-width="1.5" fill="none"/><path d="M140.3 191.6L142.7 189.2L145.1 191.6" stroke="#7030A0" stroke-width="1.5" fill="none" stroke-linejoin="round"/>
<path d="M149.4 188.7V198.8" stroke="#EE959D" stroke-width="0.85" fill="none" stroke-dasharray="1.1 1.0"/><path d="M147.0 196.5L149.4 198.9L151.8 196.5" stroke="#EE959D" stroke-width="1.05" fill="none" stroke-linejoin="round"/>
<path d="M159.7 188.7V198.8" stroke="#EE959D" stroke-width="0.85" fill="none" stroke-dasharray="1.1 1.0"/><path d="M157.3 196.5L159.7 198.9L162.1 196.5" stroke="#EE959D" stroke-width="1.05" fill="none" stroke-linejoin="round"/>
<path d="M168.9 189.3V199.4" stroke="#00B050" stroke-width="1.15" fill="none" stroke-dasharray="1.1 1.0"/><path d="M166.5 191.6L168.9 189.2L171.3 191.6" stroke="#00B050" stroke-width="1.5" fill="none" stroke-linejoin="round"/>
<path d="M191.9 190.7V199.4" stroke="#FFC000" stroke-width="1.1" fill="none" stroke-dasharray="1.1 1.0"/><circle cx="191.9" cy="191.4" r="2.7" fill="#FFC000"/>
<path d="M198.3 190.7V199.4" stroke="#EE959D" stroke-width="0.85" fill="none" stroke-dasharray="1.1 1.0"/><circle cx="198.3" cy="191.4" r="2.7" fill="#EE959D"/>
<path d="M209.2 188.7V198.8" stroke="#FF0000" stroke-width="1.15" fill="none" stroke-dasharray="1.1 1.0"/><path d="M206.8 196.5L209.2 198.9L211.6 196.5" stroke="#FF0000" stroke-width="1.5" fill="none" stroke-linejoin="round"/>
<path d="M215.1 190.7V199.4" stroke="#FF0000" stroke-width="1.3" fill="none"/><circle cx="215.1" cy="191.4" r="2.7" fill="#FF0000"/>
<path d="M216.5 190.7V199.4" stroke="#7030A0" stroke-width="1.3" fill="none"/><circle cx="216.5" cy="191.4" r="2.7" fill="#7030A0"/>
<path d="M221.9 190.7V199.4" stroke="#FFC000" stroke-width="1.1" fill="none" stroke-dasharray="1.1 1.0"/><circle cx="221.9" cy="191.4" r="2.7" fill="#FFC000"/>
<path d="M225.1 190.7V199.4" stroke="#FFC000" stroke-width="1.1" fill="none" stroke-dasharray="1.1 1.0"/><circle cx="225.1" cy="191.4" r="2.7" fill="#FFC000"/>
<path d="M222.9 188.7V198.8" stroke="#EE959D" stroke-width="0.85" fill="none" stroke-dasharray="1.1 1.0"/><path d="M220.5 196.5L222.9 198.9L225.3 196.5" stroke="#EE959D" stroke-width="1.05" fill="none" stroke-linejoin="round"/>
<path d="M228.8 188.7V198.8" stroke="#FFC000" stroke-width="1.5" fill="none"/><path d="M226.4 196.5L228.8 198.9L231.2 196.5" stroke="#FFC000" stroke-width="1.5" fill="none" stroke-linejoin="round"/>
<path d="M235.4 189.3V199.4" stroke="#FFC000" stroke-width="1.5" fill="none"/><path d="M233.0 191.6L235.4 189.2L237.8 191.6" stroke="#FFC000" stroke-width="1.5" fill="none" stroke-linejoin="round"/>
<path d="M241.3 189.3V199.4" stroke="#FF0000" stroke-width="1.15" fill="none" stroke-dasharray="1.1 1.0"/><path d="M238.9 191.6L241.3 189.2L243.7 191.6" stroke="#FF0000" stroke-width="1.5" fill="none" stroke-linejoin="round"/>
<path d="M105.6 202.6V212.7" stroke="#FFC000" stroke-width="1.5" fill="none"/><path d="M103.2 204.9L105.6 202.5L108.0 204.9" stroke="#FFC000" stroke-width="1.5" fill="none" stroke-linejoin="round"/>
<path d="M109.6 202.0V212.1" stroke="#7030A0" stroke-width="1.5" fill="none"/><path d="M107.2 209.8L109.6 212.2L112.0 209.8" stroke="#7030A0" stroke-width="1.5" fill="none" stroke-linejoin="round"/>
<path d="M108.8 202.0V212.1" stroke="#7030A0" stroke-width="1.5" fill="none"/><path d="M106.4 209.8L108.8 212.2L111.2 209.8" stroke="#7030A0" stroke-width="1.5" fill="none" stroke-linejoin="round"/>
<path d="M130.9 202.0V212.1" stroke="#7030A0" stroke-width="1.5" fill="none"/><path d="M128.5 209.8L130.9 212.2L133.3 209.8" stroke="#7030A0" stroke-width="1.5" fill="none" stroke-linejoin="round"/>
<path d="M136.8 202.0V212.1" stroke="#FFC000" stroke-width="1.5" fill="none"/><path d="M134.4 209.8L136.8 212.2L139.2 209.8" stroke="#FFC000" stroke-width="1.5" fill="none" stroke-linejoin="round"/>
<path d="M142.7 202.0V212.1" stroke="#7030A0" stroke-width="1.5" fill="none"/><path d="M140.3 209.8L142.7 212.2L145.1 209.8" stroke="#7030A0" stroke-width="1.5" fill="none" stroke-linejoin="round"/>
<path d="M150.1 204.0V212.7" stroke="#0070C0" stroke-width="1.1" fill="none" stroke-dasharray="1.1 1.0"/><circle cx="150.1" cy="204.7" r="2.7" fill="#0070C0"/>
<path d="M153.8 202.0V212.1" stroke="#EE959D" stroke-width="0.85" fill="none" stroke-dasharray="1.1 1.0"/><path d="M151.4 209.8L153.8 212.2L156.2 209.8" stroke="#EE959D" stroke-width="1.05" fill="none" stroke-linejoin="round"/>
<path d="M156.7 204.0V212.7" stroke="#0070C0" stroke-width="1.1" fill="none" stroke-dasharray="1.1 1.0"/><circle cx="156.7" cy="204.7" r="2.7" fill="#0070C0"/>
<path d="M160.4 204.0V212.7" stroke="#0070C0" stroke-width="1.1" fill="none" stroke-dasharray="1.1 1.0"/><circle cx="160.4" cy="204.7" r="2.7" fill="#0070C0"/>
<path d="M163.4 204.0V212.7" stroke="#0070C0" stroke-width="1.1" fill="none" stroke-dasharray="1.1 1.0"/><circle cx="163.4" cy="204.7" r="2.7" fill="#0070C0"/>
<path d="M168.1 202.6V212.7" stroke="#0070C0" stroke-width="1.5" fill="none"/><path d="M165.7 204.9L168.1 202.5L170.5 204.9" stroke="#0070C0" stroke-width="1.5" fill="none" stroke-linejoin="round"/>
<path d="M173.7 202.6V212.7" stroke="#FFC000" stroke-width="1.5" fill="none"/><path d="M171.3 204.9L173.7 202.5L176.1 204.9" stroke="#FFC000" stroke-width="1.5" fill="none" stroke-linejoin="round"/>
<path d="M214.8 202.0V212.1" stroke="#FF0000" stroke-width="1.15" fill="none" stroke-dasharray="1.1 1.0"/><path d="M212.4 209.8L214.8 212.2L217.2 209.8" stroke="#FF0000" stroke-width="1.5" fill="none" stroke-linejoin="round"/>
<path d="M238.1 202.0V212.1" stroke="#FF0000" stroke-width="1.15" fill="none" stroke-dasharray="1.1 1.0"/><path d="M235.7 209.8L238.1 212.2L240.5 209.8" stroke="#FF0000" stroke-width="1.5" fill="none" stroke-linejoin="round"/>
<path d="M243.1 202.0V212.1" stroke="#EE959D" stroke-width="0.85" fill="none" stroke-dasharray="1.1 1.0"/><path d="M240.7 209.8L243.1 212.2L245.5 209.8" stroke="#EE959D" stroke-width="1.05" fill="none" stroke-linejoin="round"/>
<path d="M105.2 215.3V225.4" stroke="#FF0000" stroke-width="1.15" fill="none" stroke-dasharray="1.1 1.0"/><path d="M102.8 223.1L105.2 225.5L107.6 223.1" stroke="#FF0000" stroke-width="1.5" fill="none" stroke-linejoin="round"/>
<path d="M113.7 215.9V226.0" stroke="#0070C0" stroke-width="1.5" fill="none"/><path d="M111.3 218.2L113.7 215.8L116.1 218.2" stroke="#0070C0" stroke-width="1.5" fill="none" stroke-linejoin="round"/>
<path d="M138.6 215.3V225.4" stroke="#EE959D" stroke-width="0.85" fill="none" stroke-dasharray="1.1 1.0"/><path d="M136.2 223.1L138.6 225.5L141.0 223.1" stroke="#EE959D" stroke-width="1.05" fill="none" stroke-linejoin="round"/>
<path d="M143.8 215.9V226.0" stroke="#FF0000" stroke-width="1.5" fill="none"/><path d="M141.4 218.2L143.8 215.8L146.2 218.2" stroke="#FF0000" stroke-width="1.5" fill="none" stroke-linejoin="round"/>
<path d="M159.7 217.3V226.0" stroke="#FFC000" stroke-width="1.1" fill="none" stroke-dasharray="1.1 1.0"/><circle cx="159.7" cy="218.0" r="2.7" fill="#FFC000"/>
<path d="M163.1 217.3V226.0" stroke="#FFC000" stroke-width="1.1" fill="none" stroke-dasharray="1.1 1.0"/><circle cx="163.1" cy="218.0" r="2.7" fill="#FFC000"/>
<path d="M172.9 217.3V226.0" stroke="#FFC000" stroke-width="1.1" fill="none" stroke-dasharray="1.1 1.0"/><circle cx="172.9" cy="218.0" r="2.7" fill="#FFC000"/>
<path d="M175.7 217.3V226.0" stroke="#FFC000" stroke-width="1.3" fill="none"/><circle cx="175.7" cy="218.0" r="2.7" fill="#FFC000"/>
<path d="M178.0 215.3V225.4" stroke="#00B050" stroke-width="1.5" fill="none"/><path d="M175.6 223.1L178.0 225.5L180.4 223.1" stroke="#00B050" stroke-width="1.5" fill="none" stroke-linejoin="round"/>
<path d="M181.6 217.3V226.0" stroke="#0070C0" stroke-width="1.1" fill="none" stroke-dasharray="1.1 1.0"/><circle cx="181.6" cy="218.0" r="2.7" fill="#0070C0"/>
<path d="M235.4 215.3V225.4" stroke="#FF0000" stroke-width="1.15" fill="none" stroke-dasharray="1.1 1.0"/><path d="M233.0 223.1L235.4 225.5L237.8 223.1" stroke="#FF0000" stroke-width="1.5" fill="none" stroke-linejoin="round"/>
<path d="M239.1 217.3V226.0" stroke="#FFC000" stroke-width="1.3" fill="none"/><circle cx="239.1" cy="218.0" r="2.7" fill="#FFC000"/>
<path d="M242.0 215.3V225.4" stroke="#EE959D" stroke-width="0.85" fill="none" stroke-dasharray="1.1 1.0"/><path d="M239.6 223.1L242.0 225.5L244.4 223.1" stroke="#EE959D" stroke-width="1.05" fill="none" stroke-linejoin="round"/>
<path d="M104.4 230.9V239.6" stroke="#EE959D" stroke-width="0.85" fill="none" stroke-dasharray="1.1 1.0"/><circle cx="104.4" cy="231.6" r="2.7" fill="#EE959D"/>
<path d="M132.7 230.9V239.6" stroke="#00B050" stroke-width="1.1" fill="none" stroke-dasharray="1.1 1.0"/><circle cx="132.7" cy="231.6" r="2.7" fill="#00B050"/>
<path d="M137.6 230.9V239.6" stroke="#0070C0" stroke-width="1.1" fill="none" stroke-dasharray="1.1 1.0"/><circle cx="137.6" cy="231.6" r="2.7" fill="#0070C0"/>
<path d="M140.5 228.9V239.0" stroke="#EE959D" stroke-width="0.85" fill="none" stroke-dasharray="1.1 1.0"/><path d="M138.1 236.7L140.5 239.1L142.9 236.7" stroke="#EE959D" stroke-width="1.05" fill="none" stroke-linejoin="round"/>
<path d="M142.7 228.9V239.0" stroke="#7030A0" stroke-width="1.5" fill="none"/><path d="M140.3 236.7L142.7 239.1L145.1 236.7" stroke="#7030A0" stroke-width="1.5" fill="none" stroke-linejoin="round"/>
<path d="M161.1 229.5V239.6" stroke="#7030A0" stroke-width="1.15" fill="none" stroke-dasharray="1.1 1.0"/><path d="M158.7 231.8L161.1 229.4L163.5 231.8" stroke="#7030A0" stroke-width="1.5" fill="none" stroke-linejoin="round"/>
<path d="M194.2 228.9V239.0" stroke="#EE959D" stroke-width="0.85" fill="none" stroke-dasharray="1.1 1.0"/><path d="M191.8 236.7L194.2 239.1L196.6 236.7" stroke="#EE959D" stroke-width="1.05" fill="none" stroke-linejoin="round"/>
<path d="M202.3 228.9V239.0" stroke="#FFC000" stroke-width="1.5" fill="none"/><path d="M199.9 236.7L202.3 239.1L204.7 236.7" stroke="#FFC000" stroke-width="1.5" fill="none" stroke-linejoin="round"/>
<path d="M209.2 229.5V239.6" stroke="#00B050" stroke-width="1.15" fill="none" stroke-dasharray="1.1 1.0"/><path d="M206.8 231.8L209.2 229.4L211.6 231.8" stroke="#00B050" stroke-width="1.5" fill="none" stroke-linejoin="round"/>
<path d="M212.6 229.5V239.6" stroke="#00B050" stroke-width="1.15" fill="none" stroke-dasharray="1.1 1.0"/><path d="M210.2 231.8L212.6 229.4L215.0 231.8" stroke="#00B050" stroke-width="1.5" fill="none" stroke-linejoin="round"/>
<path d="M251.3 229.5V239.6" stroke="#FFC000" stroke-width="1.5" fill="none"/><path d="M248.9 231.8L251.3 229.4L253.7 231.8" stroke="#FFC000" stroke-width="1.5" fill="none" stroke-linejoin="round"/>
<path d="M119.9 242.1V252.2" stroke="#EE959D" stroke-width="0.85" fill="none" stroke-dasharray="1.1 1.0"/><path d="M117.5 249.9L119.9 252.3L122.3 249.9" stroke="#EE959D" stroke-width="1.05" fill="none" stroke-linejoin="round"/>
<path d="M135.1 242.1V252.2" stroke="#EE959D" stroke-width="0.85" fill="none" stroke-dasharray="1.1 1.0"/><path d="M132.7 249.9L135.1 252.3L137.5 249.9" stroke="#EE959D" stroke-width="1.05" fill="none" stroke-linejoin="round"/>
<path d="M146.9 242.1V252.2" stroke="#EE959D" stroke-width="0.85" fill="none" stroke-dasharray="1.1 1.0"/><path d="M144.5 249.9L146.9 252.3L149.3 249.9" stroke="#EE959D" stroke-width="1.05" fill="none" stroke-linejoin="round"/>
<path d="M152.7 242.1V252.2" stroke="#7030A0" stroke-width="1.15" fill="none" stroke-dasharray="1.1 1.0"/><path d="M150.3 249.9L152.7 252.3L155.1 249.9" stroke="#7030A0" stroke-width="1.5" fill="none" stroke-linejoin="round"/>
<path d="M157.2 244.1V252.8" stroke="#FFC000" stroke-width="1.3" fill="none"/><circle cx="157.2" cy="244.8" r="2.7" fill="#FFC000"/>
<path d="M159.2 242.1V252.2" stroke="#FF0000" stroke-width="1.5" fill="none"/><path d="M156.8 249.9L159.2 252.3L161.6 249.9" stroke="#FF0000" stroke-width="1.5" fill="none" stroke-linejoin="round"/>
<path d="M176.3 242.7V252.8" stroke="#FF0000" stroke-width="1.5" fill="none"/><path d="M173.9 245.0L176.3 242.6L178.7 245.0" stroke="#FF0000" stroke-width="1.5" fill="none" stroke-linejoin="round"/>
<path d="M184.6 242.1V252.2" stroke="#EE959D" stroke-width="0.85" fill="none" stroke-dasharray="1.1 1.0"/><path d="M182.2 249.9L184.6 252.3L187.0 249.9" stroke="#EE959D" stroke-width="1.05" fill="none" stroke-linejoin="round"/>
<path d="M190.2 244.1V252.8" stroke="#0070C0" stroke-width="1.1" fill="none" stroke-dasharray="1.1 1.0"/><circle cx="190.2" cy="244.8" r="2.7" fill="#0070C0"/>
<path d="M197.8 242.1V252.2" stroke="#EE959D" stroke-width="0.85" fill="none" stroke-dasharray="1.1 1.0"/><path d="M195.4 249.9L197.8 252.3L200.2 249.9" stroke="#EE959D" stroke-width="1.05" fill="none" stroke-linejoin="round"/>
<path d="M208.6 242.1V252.2" stroke="#FF0000" stroke-width="1.15" fill="none" stroke-dasharray="1.1 1.0"/><path d="M206.2 249.9L208.6 252.3L211.0 249.9" stroke="#FF0000" stroke-width="1.5" fill="none" stroke-linejoin="round"/>
<path d="M213.0 244.1V252.8" stroke="#FF0000" stroke-width="1.1" fill="none" stroke-dasharray="1.1 1.0"/><circle cx="213.0" cy="244.8" r="2.7" fill="#FF0000"/>
<path d="M222.1 242.1V252.2" stroke="#EE959D" stroke-width="1.0" fill="none"/><path d="M219.7 249.9L222.1 252.3L224.5 249.9" stroke="#EE959D" stroke-width="1.05" fill="none" stroke-linejoin="round"/>
<path d="M231.7 244.1V252.8" stroke="#FFC000" stroke-width="1.1" fill="none" stroke-dasharray="1.1 1.0"/><circle cx="231.7" cy="244.8" r="2.7" fill="#FFC000"/>
<path d="M242.8 242.7V252.8" stroke="#FFC000" stroke-width="1.5" fill="none"/><path d="M240.4 245.0L242.8 242.6L245.2 245.0" stroke="#FFC000" stroke-width="1.5" fill="none" stroke-linejoin="round"/>
<path d="M246.7 242.7V252.8" stroke="#00B050" stroke-width="1.5" fill="none"/><path d="M244.3 245.0L246.7 242.6L249.1 245.0" stroke="#00B050" stroke-width="1.5" fill="none" stroke-linejoin="round"/>
<path d="M250.4 242.1V252.2" stroke="#FF0000" stroke-width="1.15" fill="none" stroke-dasharray="1.1 1.0"/><path d="M248.0 249.9L250.4 252.3L252.8 249.9" stroke="#FF0000" stroke-width="1.5" fill="none" stroke-linejoin="round"/>
<path d="M109.6 256.5V266.6" stroke="#FF0000" stroke-width="1.5" fill="none"/><path d="M107.2 258.8L109.6 256.4L112.0 258.8" stroke="#FF0000" stroke-width="1.5" fill="none" stroke-linejoin="round"/>
<path d="M119.9 255.9V266.0" stroke="#EE959D" stroke-width="0.85" fill="none" stroke-dasharray="1.1 1.0"/><path d="M117.5 263.7L119.9 266.1L122.3 263.7" stroke="#EE959D" stroke-width="1.05" fill="none" stroke-linejoin="round"/>
<path d="M122.1 257.9V266.6" stroke="#0070C0" stroke-width="1.1" fill="none" stroke-dasharray="1.1 1.0"/><circle cx="122.1" cy="258.6" r="2.7" fill="#0070C0"/>
<path d="M125.0 257.9V266.6" stroke="#0070C0" stroke-width="1.1" fill="none" stroke-dasharray="1.1 1.0"/><circle cx="125.0" cy="258.6" r="2.7" fill="#0070C0"/>
<path d="M128.0 257.9V266.6" stroke="#0070C0" stroke-width="1.1" fill="none" stroke-dasharray="1.1 1.0"/><circle cx="128.0" cy="258.6" r="2.7" fill="#0070C0"/>
<path d="M130.6 257.9V266.6" stroke="#0070C0" stroke-width="1.1" fill="none" stroke-dasharray="1.1 1.0"/><circle cx="130.6" cy="258.6" r="2.7" fill="#0070C0"/>
<path d="M128.0 255.9V266.0" stroke="#7030A0" stroke-width="1.5" fill="none"/><path d="M125.6 263.7L128.0 266.1L130.4 263.7" stroke="#7030A0" stroke-width="1.5" fill="none" stroke-linejoin="round"/>
<path d="M133.9 257.9V266.6" stroke="#EE959D" stroke-width="1.0" fill="none"/><circle cx="133.9" cy="258.6" r="2.7" fill="#EE959D"/>
<path d="M138.6 255.9V266.0" stroke="#EE959D" stroke-width="0.85" fill="none" stroke-dasharray="1.1 1.0"/><path d="M136.2 263.7L138.6 266.1L141.0 263.7" stroke="#EE959D" stroke-width="1.05" fill="none" stroke-linejoin="round"/>
<path d="M147.1 256.5V266.6" stroke="#00B050" stroke-width="1.5" fill="none"/><path d="M144.7 258.8L147.1 256.4L149.5 258.8" stroke="#00B050" stroke-width="1.5" fill="none" stroke-linejoin="round"/>
<path d="M157.5 255.9V266.0" stroke="#EE959D" stroke-width="0.85" fill="none" stroke-dasharray="1.1 1.0"/><path d="M155.1 263.7L157.5 266.1L159.9 263.7" stroke="#EE959D" stroke-width="1.05" fill="none" stroke-linejoin="round"/>
<path d="M160.4 257.9V266.6" stroke="#0070C0" stroke-width="1.1" fill="none" stroke-dasharray="1.1 1.0"/><circle cx="160.4" cy="258.6" r="2.7" fill="#0070C0"/>
<path d="M163.4 257.9V266.6" stroke="#0070C0" stroke-width="1.1" fill="none" stroke-dasharray="1.1 1.0"/><circle cx="163.4" cy="258.6" r="2.7" fill="#0070C0"/>
<path d="M166.3 257.9V266.6" stroke="#0070C0" stroke-width="1.1" fill="none" stroke-dasharray="1.1 1.0"/><circle cx="166.3" cy="258.6" r="2.7" fill="#0070C0"/>
<path d="M168.5 257.9V266.6" stroke="#0070C0" stroke-width="1.1" fill="none" stroke-dasharray="1.1 1.0"/><circle cx="168.5" cy="258.6" r="2.7" fill="#0070C0"/>
<path d="M184.6 257.9V266.6" stroke="#EE959D" stroke-width="1.0" fill="none"/><circle cx="184.6" cy="258.6" r="2.7" fill="#EE959D"/>
<path d="M201.2 255.9V266.0" stroke="#7030A0" stroke-width="1.15" fill="none" stroke-dasharray="1.1 1.0"/><path d="M198.8 263.7L201.2 266.1L203.6 263.7" stroke="#7030A0" stroke-width="1.5" fill="none" stroke-linejoin="round"/>
<path d="M220.7 255.9V266.0" stroke="#7030A0" stroke-width="1.5" fill="none"/><path d="M218.3 263.7L220.7 266.1L223.1 263.7" stroke="#7030A0" stroke-width="1.5" fill="none" stroke-linejoin="round"/>
<path d="M224.4 255.9V266.0" stroke="#FFC000" stroke-width="1.5" fill="none"/><path d="M222.0 263.7L224.4 266.1L226.8 263.7" stroke="#FFC000" stroke-width="1.5" fill="none" stroke-linejoin="round"/>
<path d="M225.8 257.9V266.6" stroke="#EE959D" stroke-width="1.0" fill="none"/><circle cx="225.8" cy="258.6" r="2.7" fill="#EE959D"/>
<path d="M229.5 256.5V266.6" stroke="#FF0000" stroke-width="1.5" fill="none"/><path d="M227.1 258.8L229.5 256.4L231.9 258.8" stroke="#FF0000" stroke-width="1.5" fill="none" stroke-linejoin="round"/>
<path d="M247.9 255.9V266.0" stroke="#7030A0" stroke-width="1.15" fill="none" stroke-dasharray="1.1 1.0"/><path d="M245.5 263.7L247.9 266.1L250.3 263.7" stroke="#7030A0" stroke-width="1.5" fill="none" stroke-linejoin="round"/>
<path d="M252.6 255.9V266.0" stroke="#EE959D" stroke-width="0.85" fill="none" stroke-dasharray="1.1 1.0"/><path d="M250.2 263.7L252.6 266.1L255.0 263.7" stroke="#EE959D" stroke-width="1.05" fill="none" stroke-linejoin="round"/>
<path d="M105.6 269.5V279.6" stroke="#EE959D" stroke-width="0.85" fill="none" stroke-dasharray="1.1 1.0"/><path d="M103.2 277.3L105.6 279.7L108.0 277.3" stroke="#EE959D" stroke-width="1.05" fill="none" stroke-linejoin="round"/>
<path d="M110.0 269.5V279.6" stroke="#EE959D" stroke-width="0.85" fill="none" stroke-dasharray="1.1 1.0"/><path d="M107.6 277.3L110.0 279.7L112.4 277.3" stroke="#EE959D" stroke-width="1.05" fill="none" stroke-linejoin="round"/>
<path d="M114.7 271.5V280.2" stroke="#0070C0" stroke-width="1.1" fill="none" stroke-dasharray="1.1 1.0"/><circle cx="114.7" cy="272.2" r="2.7" fill="#0070C0"/>
<path d="M116.9 271.5V280.2" stroke="#0070C0" stroke-width="1.1" fill="none" stroke-dasharray="1.1 1.0"/><circle cx="116.9" cy="272.2" r="2.7" fill="#0070C0"/>
<path d="M122.1 269.5V279.6" stroke="#EE959D" stroke-width="0.85" fill="none" stroke-dasharray="1.1 1.0"/><path d="M119.7 277.3L122.1 279.7L124.5 277.3" stroke="#EE959D" stroke-width="1.05" fill="none" stroke-linejoin="round"/>
<path d="M123.6 269.5V279.6" stroke="#7030A0" stroke-width="1.5" fill="none"/><path d="M121.2 277.3L123.6 279.7L126.0 277.3" stroke="#7030A0" stroke-width="1.5" fill="none" stroke-linejoin="round"/>
<path d="M128.7 269.5V279.6" stroke="#EE959D" stroke-width="0.85" fill="none" stroke-dasharray="1.1 1.0"/><path d="M126.3 277.3L128.7 279.7L131.1 277.3" stroke="#EE959D" stroke-width="1.05" fill="none" stroke-linejoin="round"/>
<path d="M156.0 271.5V280.2" stroke="#FFC000" stroke-width="1.3" fill="none"/><circle cx="156.0" cy="272.2" r="2.7" fill="#FFC000"/>
<path d="M158.9 271.5V280.2" stroke="#FFC000" stroke-width="1.1" fill="none" stroke-dasharray="1.1 1.0"/><circle cx="158.9" cy="272.2" r="2.7" fill="#FFC000"/>
<path d="M167.5 269.5V279.6" stroke="#FF0000" stroke-width="1.15" fill="none" stroke-dasharray="1.1 1.0"/><path d="M165.1 277.3L167.5 279.7L169.9 277.3" stroke="#FF0000" stroke-width="1.5" fill="none" stroke-linejoin="round"/>
<path d="M168.9 271.5V280.2" stroke="#EE959D" stroke-width="1.0" fill="none"/><circle cx="168.9" cy="272.2" r="2.7" fill="#EE959D"/>
<path d="M172.2 269.5V279.6" stroke="#EE959D" stroke-width="0.85" fill="none" stroke-dasharray="1.1 1.0"/><path d="M169.8 277.3L172.2 279.7L174.6 277.3" stroke="#EE959D" stroke-width="1.05" fill="none" stroke-linejoin="round"/>
<path d="M175.6 270.1V280.2" stroke="#FF0000" stroke-width="1.5" fill="none"/><path d="M173.2 272.4L175.6 270.0L178.0 272.4" stroke="#FF0000" stroke-width="1.5" fill="none" stroke-linejoin="round"/>
<path d="M190.5 271.5V280.2" stroke="#FFC000" stroke-width="1.1" fill="none" stroke-dasharray="1.1 1.0"/><circle cx="190.5" cy="272.2" r="2.7" fill="#FFC000"/>
<path d="M192.7 269.5V279.6" stroke="#EE959D" stroke-width="0.85" fill="none" stroke-dasharray="1.1 1.0"/><path d="M190.3 277.3L192.7 279.7L195.1 277.3" stroke="#EE959D" stroke-width="1.05" fill="none" stroke-linejoin="round"/>
<path d="M222.1 269.5V279.6" stroke="#7030A0" stroke-width="1.5" fill="none"/><path d="M219.7 277.3L222.1 279.7L224.5 277.3" stroke="#7030A0" stroke-width="1.5" fill="none" stroke-linejoin="round"/>
<path d="M229.5 269.5V279.6" stroke="#EE959D" stroke-width="0.85" fill="none" stroke-dasharray="1.1 1.0"/><path d="M227.1 277.3L229.5 279.7L231.9 277.3" stroke="#EE959D" stroke-width="1.05" fill="none" stroke-linejoin="round"/>
<path d="M232.5 270.1V280.2" stroke="#00B050" stroke-width="1.15" fill="none" stroke-dasharray="1.1 1.0"/><path d="M230.1 272.4L232.5 270.0L234.9 272.4" stroke="#00B050" stroke-width="1.5" fill="none" stroke-linejoin="round"/>
<path d="M236.1 270.1V280.2" stroke="#7030A0" stroke-width="1.15" fill="none" stroke-dasharray="1.1 1.0"/><path d="M233.7 272.4L236.1 270.0L238.5 272.4" stroke="#7030A0" stroke-width="1.5" fill="none" stroke-linejoin="round"/>
<path d="M245.0 269.5V279.6" stroke="#EE959D" stroke-width="0.85" fill="none" stroke-dasharray="1.1 1.0"/><path d="M242.6 277.3L245.0 279.7L247.4 277.3" stroke="#EE959D" stroke-width="1.05" fill="none" stroke-linejoin="round"/>
<path d="M246.5 269.5V279.6" stroke="#FF0000" stroke-width="1.15" fill="none" stroke-dasharray="1.1 1.0"/><path d="M244.1 277.3L246.5 279.7L248.9 277.3" stroke="#FF0000" stroke-width="1.5" fill="none" stroke-linejoin="round"/>
<path d="M252.3 269.5V279.6" stroke="#7030A0" stroke-width="1.15" fill="none" stroke-dasharray="1.1 1.0"/><path d="M249.9 277.3L252.3 279.7L254.7 277.3" stroke="#7030A0" stroke-width="1.5" fill="none" stroke-linejoin="round"/>
<rect x="104.1" y="173.2" width="150.2" height="2.3" fill="#000"/>
<rect x="104.1" y="185.8" width="150.2" height="2.3" fill="#000"/>
<rect x="104.1" y="199.0" width="150.2" height="2.3" fill="#000"/>
<rect x="104.1" y="212.3" width="150.2" height="2.3" fill="#000"/>
<rect x="104.1" y="225.7" width="150.2" height="2.3" fill="#000"/>
<rect x="104.1" y="239.2" width="150.2" height="2.3" fill="#000"/>
<rect x="104.1" y="252.4" width="150.2" height="2.3" fill="#000"/>
<rect x="104.1" y="266.2" width="150.2" height="2.3" fill="#000"/>
<rect x="104.1" y="279.9" width="150.2" height="2.3" fill="#000"/>
<text class="g" x="6.4" y="229.7" textLength="24.4" lengthAdjust="spacingAndGlyphs">MRP</text>
<rect x="65.6" y="301" width="3.4" height="61.3" fill="#000"/>
<rect x="64.1" y="299.8" width="7.2" height="65.7" fill="none" stroke="#dcdcdc" stroke-width="0.6"/>
<text class="l" x="73.4" y="309.7" textLength="22.2" lengthAdjust="spacingAndGlyphs">ABC29</text>
<text class="l" x="73.4" y="322.1" textLength="22.2" lengthAdjust="spacingAndGlyphs">ABC31</text>
<text class="l" x="73.4" y="334.8" textLength="22.2" lengthAdjust="spacingAndGlyphs">ABC35</text>
<text class="l" x="73.4" y="347.6" textLength="22.2" lengthAdjust="spacingAndGlyphs">ABC36</text>
<text class="l" x="73.4" y="360.4" textLength="22.2" lengthAdjust="spacingAndGlyphs">ABC42</text>
<path d="M105.9 292.2V302.3" stroke="#FF0000" stroke-width="1.5" fill="none"/><path d="M103.5 294.5L105.9 292.1L108.3 294.5" stroke="#FF0000" stroke-width="1.5" fill="none" stroke-linejoin="round"/>
<path d="M111.0 292.2V302.3" stroke="#7030A0" stroke-width="1.15" fill="none" stroke-dasharray="1.1 1.0"/><path d="M108.6 294.5L111.0 292.1L113.4 294.5" stroke="#7030A0" stroke-width="1.5" fill="none" stroke-linejoin="round"/>
<path d="M113.6 291.6V301.7" stroke="#EE959D" stroke-width="0.85" fill="none" stroke-dasharray="1.1 1.0"/><path d="M111.2 299.4L113.6 301.8L116.0 299.4" stroke="#EE959D" stroke-width="1.05" fill="none" stroke-linejoin="round"/>
<path d="M123.6 292.2V302.3" stroke="#FFC000" stroke-width="1.5" fill="none"/><path d="M121.2 294.5L123.6 292.1L126.0 294.5" stroke="#FFC000" stroke-width="1.5" fill="none" stroke-linejoin="round"/>
<path d="M128.0 292.2V302.3" stroke="#7030A0" stroke-width="1.5" fill="none"/><path d="M125.6 294.5L128.0 292.1L130.4 294.5" stroke="#7030A0" stroke-width="1.5" fill="none" stroke-linejoin="round"/>
<path d="M130.2 291.6V301.7" stroke="#7030A0" stroke-width="1.15" fill="none" stroke-dasharray="1.1 1.0"/><path d="M127.8 299.4L130.2 301.8L132.6 299.4" stroke="#7030A0" stroke-width="1.5" fill="none" stroke-linejoin="round"/>
<path d="M133.1 292.2V302.3" stroke="#00B050" stroke-width="1.15" fill="none" stroke-dasharray="1.1 1.0"/><path d="M130.7 294.5L133.1 292.1L135.5 294.5" stroke="#00B050" stroke-width="1.5" fill="none" stroke-linejoin="round"/>
<path d="M144.2 291.6V301.7" stroke="#EE959D" stroke-width="0.85" fill="none" stroke-dasharray="1.1 1.0"/><path d="M141.8 299.4L144.2 301.8L146.6 299.4" stroke="#EE959D" stroke-width="1.05" fill="none" stroke-linejoin="round"/>
<path d="M151.6 292.2V302.3" stroke="#FF0000" stroke-width="1.5" fill="none"/><path d="M149.2 294.5L151.6 292.1L154.0 294.5" stroke="#FF0000" stroke-width="1.5" fill="none" stroke-linejoin="round"/>
<path d="M181.2 291.6V301.7" stroke="#EE959D" stroke-width="0.85" fill="none" stroke-dasharray="1.1 1.0"/><path d="M178.8 299.4L181.2 301.8L183.6 299.4" stroke="#EE959D" stroke-width="1.05" fill="none" stroke-linejoin="round"/>
<path d="M192.4 293.6V302.3" stroke="#FFC000" stroke-width="1.1" fill="none" stroke-dasharray="1.1 1.0"/><circle cx="192.4" cy="294.3" r="2.7" fill="#FFC000"/>
<path d="M194.2 291.6V301.7" stroke="#EE959D" stroke-width="0.85" fill="none" stroke-dasharray="1.1 1.0"/><path d="M191.8 299.4L194.2 301.8L196.6 299.4" stroke="#EE959D" stroke-width="1.05" fill="none" stroke-linejoin="round"/>
<path d="M234.7 292.2V302.3" stroke="#EE959D" stroke-width="0.85" fill="none" stroke-dasharray="1.1 1.0"/><path d="M232.3 294.5L234.7 292.1L237.1 294.5" stroke="#EE959D" stroke-width="1.05" fill="none" stroke-linejoin="round"/>
<path d="M239.4 291.6V301.7" stroke="#0070C0" stroke-width="1.5" fill="none"/><path d="M237.0 299.4L239.4 301.8L241.8 299.4" stroke="#0070C0" stroke-width="1.5" fill="none" stroke-linejoin="round"/>
<path d="M245.3 293.6V302.3" stroke="#FFC000" stroke-width="1.1" fill="none" stroke-dasharray="1.1 1.0"/><circle cx="245.3" cy="294.3" r="2.7" fill="#FFC000"/>
<path d="M254.0 293.6V302.3" stroke="#FFC000" stroke-width="1.1" fill="none" stroke-dasharray="1.1 1.0"/><circle cx="254.0" cy="294.3" r="2.7" fill="#FFC000"/>
<path d="M113.3 307.6V316.3" stroke="#EE959D" stroke-width="0.85" fill="none" stroke-dasharray="1.1 1.0"/><circle cx="113.3" cy="308.3" r="2.7" fill="#EE959D"/>
<path d="M115.9 307.6V316.3" stroke="#FFC000" stroke-width="1.1" fill="none" stroke-dasharray="1.1 1.0"/><circle cx="115.9" cy="308.3" r="2.7" fill="#FFC000"/>
<path d="M121.8 307.6V316.3" stroke="#EE959D" stroke-width="0.85" fill="none" stroke-dasharray="1.1 1.0"/><circle cx="121.8" cy="308.3" r="2.7" fill="#EE959D"/>
<path d="M150.8 305.6V315.7" stroke="#EE959D" stroke-width="0.85" fill="none" stroke-dasharray="1.1 1.0"/><path d="M148.4 313.4L150.8 315.8L153.2 313.4" stroke="#EE959D" stroke-width="1.05" fill="none" stroke-linejoin="round"/>
<path d="M171.0 307.6V316.3" stroke="#FFC000" stroke-width="1.1" fill="none" stroke-dasharray="1.1 1.0"/><circle cx="171.0" cy="308.3" r="2.7" fill="#FFC000"/>
<path d="M183.1 305.6V315.7" stroke="#FF0000" stroke-width="1.15" fill="none" stroke-dasharray="1.1 1.0"/><path d="M180.7 313.4L183.1 315.8L185.5 313.4" stroke="#FF0000" stroke-width="1.5" fill="none" stroke-linejoin="round"/>
<path d="M193.9 307.6V316.3" stroke="#FFC000" stroke-width="1.1" fill="none" stroke-dasharray="1.1 1.0"/><circle cx="193.9" cy="308.3" r="2.7" fill="#FFC000"/>
<path d="M218.8 306.2V316.3" stroke="#FFC000" stroke-width="1.5" fill="none"/><path d="M216.4 308.5L218.8 306.1L221.2 308.5" stroke="#FFC000" stroke-width="1.5" fill="none" stroke-linejoin="round"/>
<path d="M229.1 307.6V316.3" stroke="#EE959D" stroke-width="0.85" fill="none" stroke-dasharray="1.1 1.0"/><circle cx="229.1" cy="308.3" r="2.7" fill="#EE959D"/>
<path d="M235.1 305.6V315.7" stroke="#0070C0" stroke-width="1.5" fill="none"/><path d="M232.7 313.4L235.1 315.8L237.5 313.4" stroke="#0070C0" stroke-width="1.5" fill="none" stroke-linejoin="round"/>
<path d="M236.9 307.6V316.3" stroke="#FF0000" stroke-width="1.1" fill="none" stroke-dasharray="1.1 1.0"/><circle cx="236.9" cy="308.3" r="2.7" fill="#FF0000"/>
<path d="M242.0 306.2V316.3" stroke="#7030A0" stroke-width="1.15" fill="none" stroke-dasharray="1.1 1.0"/><path d="M239.6 308.5L242.0 306.1L244.4 308.5" stroke="#7030A0" stroke-width="1.5" fill="none" stroke-linejoin="round"/>
<path d="M247.2 305.6V315.7" stroke="#FF0000" stroke-width="1.15" fill="none" stroke-dasharray="1.1 1.0"/><path d="M244.8 313.4L247.2 315.8L249.6 313.4" stroke="#FF0000" stroke-width="1.5" fill="none" stroke-linejoin="round"/>
<path d="M249.4 305.6V315.7" stroke="#FF0000" stroke-width="1.15" fill="none" stroke-dasharray="1.1 1.0"/><path d="M247.0 313.4L249.4 315.8L251.8 313.4" stroke="#FF0000" stroke-width="1.5" fill="none" stroke-linejoin="round"/>
<path d="M251.6 305.6V315.7" stroke="#FF0000" stroke-width="1.15" fill="none" stroke-dasharray="1.1 1.0"/><path d="M249.2 313.4L251.6 315.8L254.0 313.4" stroke="#FF0000" stroke-width="1.5" fill="none" stroke-linejoin="round"/>
<path d="M110.6 320.7V330.8" stroke="#FFC000" stroke-width="1.5" fill="none"/><path d="M108.2 323.0L110.6 320.6L113.0 323.0" stroke="#FFC000" stroke-width="1.5" fill="none" stroke-linejoin="round"/>
<path d="M115.9 320.7V330.8" stroke="#FF0000" stroke-width="1.5" fill="none"/><path d="M113.5 323.0L115.9 320.6L118.3 323.0" stroke="#FF0000" stroke-width="1.5" fill="none" stroke-linejoin="round"/>
<path d="M118.4 320.1V330.2" stroke="#7030A0" stroke-width="1.15" fill="none" stroke-dasharray="1.1 1.0"/><path d="M116.0 327.9L118.4 330.3L120.8 327.9" stroke="#7030A0" stroke-width="1.5" fill="none" stroke-linejoin="round"/>
<path d="M121.4 320.1V330.2" stroke="#EE959D" stroke-width="0.85" fill="none" stroke-dasharray="1.1 1.0"/><path d="M119.0 327.9L121.4 330.3L123.8 327.9" stroke="#EE959D" stroke-width="1.05" fill="none" stroke-linejoin="round"/>
<path d="M136.1 320.7V330.8" stroke="#FFC000" stroke-width="1.5" fill="none"/><path d="M133.7 323.0L136.1 320.6L138.5 323.0" stroke="#FFC000" stroke-width="1.5" fill="none" stroke-linejoin="round"/>
<path d="M140.1 322.1V330.8" stroke="#FF0000" stroke-width="1.1" fill="none" stroke-dasharray="1.1 1.0"/><circle cx="140.1" cy="322.8" r="2.7" fill="#FF0000"/>
<path d="M147.9 320.7V330.8" stroke="#0070C0" stroke-width="1.5" fill="none"/><path d="M145.5 323.0L147.9 320.6L150.3 323.0" stroke="#0070C0" stroke-width="1.5" fill="none" stroke-linejoin="round"/>
<path d="M151.6 322.1V330.8" stroke="#7030A0" stroke-width="1.1" fill="none" stroke-dasharray="1.1 1.0"/><circle cx="151.6" cy="322.8" r="2.7" fill="#7030A0"/>
<path d="M153.8 320.7V330.8" stroke="#7030A0" stroke-width="1.15" fill="none" stroke-dasharray="1.1 1.0"/><path d="M151.4 323.0L153.8 320.6L156.2 323.0" stroke="#7030A0" stroke-width="1.5" fill="none" stroke-linejoin="round"/>
<path d="M156.7 320.7V330.8" stroke="#00B050" stroke-width="1.15" fill="none" stroke-dasharray="1.1 1.0"/><path d="M154.3 323.0L156.7 320.6L159.1 323.0" stroke="#00B050" stroke-width="1.5" fill="none" stroke-linejoin="round"/>
<path d="M158.9 320.1V330.2" stroke="#FF0000" stroke-width="1.15" fill="none" stroke-dasharray="1.1 1.0"/><path d="M156.5 327.9L158.9 330.3L161.3 327.9" stroke="#FF0000" stroke-width="1.5" fill="none" stroke-linejoin="round"/>
<path d="M161.9 322.1V330.8" stroke="#EE959D" stroke-width="0.85" fill="none" stroke-dasharray="1.1 1.0"/><circle cx="161.9" cy="322.8" r="2.7" fill="#EE959D"/>
<path d="M192.7 320.7V330.8" stroke="#FF0000" stroke-width="1.5" fill="none"/><path d="M190.3 323.0L192.7 320.6L195.1 323.0" stroke="#FF0000" stroke-width="1.5" fill="none" stroke-linejoin="round"/>
<path d="M207.1 320.1V330.2" stroke="#EE959D" stroke-width="0.85" fill="none" stroke-dasharray="1.1 1.0"/><path d="M204.7 327.9L207.1 330.3L209.5 327.9" stroke="#EE959D" stroke-width="1.05" fill="none" stroke-linejoin="round"/>
<path d="M215.5 320.1V330.2" stroke="#7030A0" stroke-width="1.5" fill="none"/><path d="M213.1 327.9L215.5 330.3L217.9 327.9" stroke="#7030A0" stroke-width="1.5" fill="none" stroke-linejoin="round"/>
<path d="M224.4 320.7V330.8" stroke="#FFC000" stroke-width="1.5" fill="none"/><path d="M222.0 323.0L224.4 320.6L226.8 323.0" stroke="#FFC000" stroke-width="1.5" fill="none" stroke-linejoin="round"/>
<path d="M235.7 322.1V330.8" stroke="#FFC000" stroke-width="1.1" fill="none" stroke-dasharray="1.1 1.0"/><circle cx="235.7" cy="322.8" r="2.7" fill="#FFC000"/>
<path d="M243.5 320.1V330.2" stroke="#7030A0" stroke-width="1.15" fill="none" stroke-dasharray="1.1 1.0"/><path d="M241.1 327.9L243.5 330.3L245.9 327.9" stroke="#7030A0" stroke-width="1.5" fill="none" stroke-linejoin="round"/>
<path d="M247.2 320.7V330.8" stroke="#FFC000" stroke-width="1.5" fill="none"/><path d="M244.8 323.0L247.2 320.6L249.6 323.0" stroke="#FFC000" stroke-width="1.5" fill="none" stroke-linejoin="round"/>
<path d="M249.8 320.1V330.2" stroke="#0070C0" stroke-width="1.5" fill="none"/><path d="M247.4 327.9L249.8 330.3L252.2 327.9" stroke="#0070C0" stroke-width="1.5" fill="none" stroke-linejoin="round"/>
<path d="M253.0 320.7V330.8" stroke="#FF0000" stroke-width="1.5" fill="none"/><path d="M250.6 323.0L253.0 320.6L255.4 323.0" stroke="#FF0000" stroke-width="1.5" fill="none" stroke-linejoin="round"/>
<path d="M110.3 335.9V344.6" stroke="#EE959D" stroke-width="0.85" fill="none" stroke-dasharray="1.1 1.0"/><circle cx="110.3" cy="336.6" r="2.7" fill="#EE959D"/>
<path d="M114.0 335.9V344.6" stroke="#EE959D" stroke-width="0.85" fill="none" stroke-dasharray="1.1 1.0"/><circle cx="114.0" cy="336.6" r="2.7" fill="#EE959D"/>
<path d="M126.5 334.5V344.6" stroke="#EE959D" stroke-width="0.85" fill="none" stroke-dasharray="1.1 1.0"/><path d="M124.1 336.8L126.5 334.4L128.9 336.8" stroke="#EE959D" stroke-width="1.05" fill="none" stroke-linejoin="round"/>
<path d="M129.5 334.5V344.6" stroke="#00B050" stroke-width="1.15" fill="none" stroke-dasharray="1.1 1.0"/><path d="M127.1 336.8L129.5 334.4L131.9 336.8" stroke="#00B050" stroke-width="1.5" fill="none" stroke-linejoin="round"/>
<path d="M133.9 334.5V344.6" stroke="#0070C0" stroke-width="1.15" fill="none" stroke-dasharray="1.1 1.0"/><path d="M131.5 336.8L133.9 334.4L136.3 336.8" stroke="#0070C0" stroke-width="1.5" fill="none" stroke-linejoin="round"/>
<path d="M137.6 334.9V344.0" stroke="#7030A0" stroke-width="1.5" fill="none"/><path d="M134.7 336.3Q135.0 333.9 137.6 333.9Q140.2 333.9 140.5 336.3Z" fill="#7030A0"/><path d="M135.2 341.7L137.6 344.1L140.0 341.7" stroke="#7030A0" stroke-width="1.5" fill="none" stroke-linejoin="round"/>
<path d="M139.8 333.9V344.0" stroke="#7030A0" stroke-width="1.5" fill="none"/><path d="M137.4 341.7L139.8 344.1L142.2 341.7" stroke="#7030A0" stroke-width="1.5" fill="none" stroke-linejoin="round"/>
<path d="M145.4 333.9V344.0" stroke="#EE959D" stroke-width="0.85" fill="none" stroke-dasharray="1.1 1.0"/><path d="M143.0 341.7L145.4 344.1L147.8 341.7" stroke="#EE959D" stroke-width="1.05" fill="none" stroke-linejoin="round"/>
<path d="M154.5 334.5V344.6" stroke="#00B050" stroke-width="1.15" fill="none" stroke-dasharray="1.1 1.0"/><path d="M152.1 336.8L154.5 334.4L156.9 336.8" stroke="#00B050" stroke-width="1.5" fill="none" stroke-linejoin="round"/>
<path d="M157.8 334.5V344.6" stroke="#00B050" stroke-width="1.15" fill="none" stroke-dasharray="1.1 1.0"/><path d="M155.4 336.8L157.8 334.4L160.2 336.8" stroke="#00B050" stroke-width="1.5" fill="none" stroke-linejoin="round"/>
<path d="M169.2 335.9V344.6" stroke="#0070C0" stroke-width="1.1" fill="none" stroke-dasharray="1.1 1.0"/><circle cx="169.2" cy="336.6" r="2.7" fill="#0070C0"/>
<path d="M175.4 335.9V344.6" stroke="#0070C0" stroke-width="1.1" fill="none" stroke-dasharray="1.1 1.0"/><circle cx="175.4" cy="336.6" r="2.7" fill="#0070C0"/>
<path d="M178.1 335.9V344.6" stroke="#0070C0" stroke-width="1.1" fill="none" stroke-dasharray="1.1 1.0"/><circle cx="178.1" cy="336.6" r="2.7" fill="#0070C0"/>
<path d="M179.6 334.5V344.6" stroke="#00B050" stroke-width="1.15" fill="none" stroke-dasharray="1.1 1.0"/><path d="M177.2 336.8L179.6 334.4L182.0 336.8" stroke="#00B050" stroke-width="1.5" fill="none" stroke-linejoin="round"/>
<path d="M188.0 333.9V344.0" stroke="#EE959D" stroke-width="0.85" fill="none" stroke-dasharray="1.1 1.0"/><path d="M185.6 341.7L188.0 344.1L190.4 341.7" stroke="#EE959D" stroke-width="1.05" fill="none" stroke-linejoin="round"/>
<path d="M221.9 333.9V344.0" stroke="#EE959D" stroke-width="0.85" fill="none" stroke-dasharray="1.1 1.0"/><path d="M219.5 341.7L221.9 344.1L224.3 341.7" stroke="#EE959D" stroke-width="1.05" fill="none" stroke-linejoin="round"/>
<path d="M223.6 334.5V344.6" stroke="#EE959D" stroke-width="0.85" fill="none" stroke-dasharray="1.1 1.0"/><path d="M221.2 336.8L223.6 334.4L226.0 336.8" stroke="#EE959D" stroke-width="1.05" fill="none" stroke-linejoin="round"/>
<path d="M232.5 335.9V344.6" stroke="#EE959D" stroke-width="0.85" fill="none" stroke-dasharray="1.1 1.0"/><circle cx="232.5" cy="336.6" r="2.7" fill="#EE959D"/>
<path d="M239.4 335.9V344.6" stroke="#FFC000" stroke-width="1.1" fill="none" stroke-dasharray="1.1 1.0"/><circle cx="239.4" cy="336.6" r="2.7" fill="#FFC000"/>
<path d="M242.0 333.9V344.0" stroke="#EE959D" stroke-width="0.85" fill="none" stroke-dasharray="1.1 1.0"/><path d="M239.6 341.7L242.0 344.1L244.4 341.7" stroke="#EE959D" stroke-width="1.05" fill="none" stroke-linejoin="round"/>
<path d="M106.6 349.4V358.1" stroke="#FFC000" stroke-width="1.3" fill="none"/><circle cx="106.6" cy="350.1" r="2.7" fill="#FFC000"/>
<path d="M112.5 347.4V357.5" stroke="#00B050" stroke-width="1.5" fill="none"/><path d="M110.1 355.2L112.5 357.6L114.9 355.2" stroke="#00B050" stroke-width="1.5" fill="none" stroke-linejoin="round"/>
<path d="M146.9 349.4V358.1" stroke="#FFC000" stroke-width="1.3" fill="none"/><circle cx="146.9" cy="350.1" r="2.7" fill="#FFC000"/>
<path d="M150.8 348.0V358.1" stroke="#0070C0" stroke-width="1.15" fill="none" stroke-dasharray="1.1 1.0"/><path d="M148.4 350.3L150.8 347.9L153.2 350.3" stroke="#0070C0" stroke-width="1.5" fill="none" stroke-linejoin="round"/>
<path d="M150.3 348.0V358.1" stroke="#0070C0" stroke-width="1.5" fill="none"/><path d="M147.9 350.3L150.3 347.9L152.7 350.3" stroke="#0070C0" stroke-width="1.5" fill="none" stroke-linejoin="round"/>
<path d="M158.6 347.4V357.5" stroke="#EE959D" stroke-width="0.85" fill="none" stroke-dasharray="1.1 1.0"/><path d="M156.2 355.2L158.6 357.6L161.0 355.2" stroke="#EE959D" stroke-width="1.05" fill="none" stroke-linejoin="round"/>
<path d="M164.8 349.4V358.1" stroke="#EE959D" stroke-width="1.0" fill="none"/><circle cx="164.8" cy="350.1" r="2.7" fill="#EE959D"/>
<path d="M176.9 348.0V358.1" stroke="#FF0000" stroke-width="1.5" fill="none"/><path d="M174.5 350.3L176.9 347.9L179.3 350.3" stroke="#FF0000" stroke-width="1.5" fill="none" stroke-linejoin="round"/>
<path d="M180.6 347.4V357.5" stroke="#FFC000" stroke-width="1.5" fill="none"/><path d="M178.2 355.2L180.6 357.6L183.0 355.2" stroke="#FFC000" stroke-width="1.5" fill="none" stroke-linejoin="round"/>
<path d="M197.1 347.4V357.5" stroke="#EE959D" stroke-width="0.85" fill="none" stroke-dasharray="1.1 1.0"/><path d="M194.7 355.2L197.1 357.6L199.5 355.2" stroke="#EE959D" stroke-width="1.05" fill="none" stroke-linejoin="round"/>
<path d="M217.4 348.0V358.1" stroke="#FFC000" stroke-width="1.5" fill="none"/><path d="M215.0 350.3L217.4 347.9L219.8 350.3" stroke="#FFC000" stroke-width="1.5" fill="none" stroke-linejoin="round"/>
<path d="M230.7 347.4V357.5" stroke="#EE959D" stroke-width="0.85" fill="none" stroke-dasharray="1.1 1.0"/><path d="M228.3 355.2L230.7 357.6L233.1 355.2" stroke="#EE959D" stroke-width="1.05" fill="none" stroke-linejoin="round"/>
<path d="M234.7 347.4V357.5" stroke="#FFC000" stroke-width="1.5" fill="none"/><path d="M232.3 355.2L234.7 357.6L237.1 355.2" stroke="#FFC000" stroke-width="1.5" fill="none" stroke-linejoin="round"/>
<path d="M237.6 347.4V357.5" stroke="#FF0000" stroke-width="1.15" fill="none" stroke-dasharray="1.1 1.0"/><path d="M235.2 355.2L237.6 357.6L240.0 355.2" stroke="#FF0000" stroke-width="1.5" fill="none" stroke-linejoin="round"/>
<path d="M240.6 347.4V357.5" stroke="#FF0000" stroke-width="1.15" fill="none" stroke-dasharray="1.1 1.0"/><path d="M238.2 355.2L240.6 357.6L243.0 355.2" stroke="#FF0000" stroke-width="1.5" fill="none" stroke-linejoin="round"/>
<path d="M242.8 347.4V357.5" stroke="#EE959D" stroke-width="0.85" fill="none" stroke-dasharray="1.1 1.0"/><path d="M240.4 355.2L242.8 357.6L245.2 355.2" stroke="#EE959D" stroke-width="1.05" fill="none" stroke-linejoin="round"/>
<path d="M246.0 347.4V357.5" stroke="#FF0000" stroke-width="1.15" fill="none" stroke-dasharray="1.1 1.0"/><path d="M243.6 355.2L246.0 357.6L248.4 355.2" stroke="#FF0000" stroke-width="1.5" fill="none" stroke-linejoin="round"/>
<rect x="104.5" y="302.0" width="151.3" height="2.3" fill="#000"/>
<rect x="104.5" y="316.0" width="151.3" height="2.3" fill="#000"/>
<rect x="104.5" y="330.5" width="151.3" height="2.3" fill="#000"/>
<rect x="104.5" y="344.2" width="151.3" height="2.3" fill="#000"/>
<rect x="104.5" y="357.8" width="151.3" height="2.3" fill="#000"/>
<text class="g" x="10.1" y="335.7" textLength="20.3" lengthAdjust="spacingAndGlyphs">Uup</text>
<rect x="277.0" y="19.0" width="3.4" height="65.5" fill="#000"/>
<rect x="275.5" y="17.8" width="7.2" height="69.9" fill="none" stroke="#dcdcdc" stroke-width="0.6"/>
<text class="l" x="285.8" y="23.9" textLength="22.2" lengthAdjust="spacingAndGlyphs">ABC04</text>
<text class="l" x="285.8" y="36.5" textLength="22.2" lengthAdjust="spacingAndGlyphs">ABC07</text>
<text class="l" x="285.8" y="49.2" textLength="22.2" lengthAdjust="spacingAndGlyphs">ABC08</text>
<text class="l" x="285.8" y="61.9" textLength="22.2" lengthAdjust="spacingAndGlyphs">ABC11</text>
<text class="l" x="285.8" y="74.4" textLength="22.2" lengthAdjust="spacingAndGlyphs">ABC17</text>
<text class="l" x="285.8" y="86.8" textLength="22.2" lengthAdjust="spacingAndGlyphs">ABC28</text>
<path d="M338.3 8.0V18.1" stroke="#EE959D" stroke-width="0.85" fill="none" stroke-dasharray="1.1 1.0"/><path d="M335.9 15.8L338.3 18.2L340.7 15.8" stroke="#EE959D" stroke-width="1.05" fill="none" stroke-linejoin="round"/>
<path d="M340.3 8.6V18.7" stroke="#00B050" stroke-width="1.15" fill="none" stroke-dasharray="1.1 1.0"/><path d="M337.9 10.9L340.3 8.5L342.7 10.9" stroke="#00B050" stroke-width="1.5" fill="none" stroke-linejoin="round"/>
<path d="M341.7 8.0V18.1" stroke="#0070C0" stroke-width="1.15" fill="none" stroke-dasharray="1.1 1.0"/><path d="M339.3 15.8L341.7 18.2L344.1 15.8" stroke="#0070C0" stroke-width="1.5" fill="none" stroke-linejoin="round"/>
<path d="M356.0 8.0V18.1" stroke="#7030A0" stroke-width="1.15" fill="none" stroke-dasharray="1.1 1.0"/><path d="M353.6 15.8L356.0 18.2L358.4 15.8" stroke="#7030A0" stroke-width="1.5" fill="none" stroke-linejoin="round"/>
<path d="M384.9 8.0V18.1" stroke="#EE959D" stroke-width="0.85" fill="none" stroke-dasharray="1.1 1.0"/><path d="M382.5 15.8L384.9 18.2L387.3 15.8" stroke="#EE959D" stroke-width="1.05" fill="none" stroke-linejoin="round"/>
<path d="M385.5 8.6V18.7" stroke="#7030A0" stroke-width="1.15" fill="none" stroke-dasharray="1.1 1.0"/><path d="M383.1 10.9L385.5 8.5L387.9 10.9" stroke="#7030A0" stroke-width="1.5" fill="none" stroke-linejoin="round"/>
<path d="M395.7 8.6V18.7" stroke="#7030A0" stroke-width="1.15" fill="none" stroke-dasharray="1.1 1.0"/><path d="M393.3 10.9L395.7 8.5L398.1 10.9" stroke="#7030A0" stroke-width="1.5" fill="none" stroke-linejoin="round"/>
<path d="M411.3 8.0V18.1" stroke="#FF0000" stroke-width="1.15" fill="none" stroke-dasharray="1.1 1.0"/><path d="M408.9 15.8L411.3 18.2L413.7 15.8" stroke="#FF0000" stroke-width="1.5" fill="none" stroke-linejoin="round"/>
<path d="M416.2 8.6V18.7" stroke="#FFC000" stroke-width="1.5" fill="none"/><path d="M413.8 10.9L416.2 8.5L418.6 10.9" stroke="#FFC000" stroke-width="1.5" fill="none" stroke-linejoin="round"/>
<path d="M417.4 8.6V18.7" stroke="#FFC000" stroke-width="1.5" fill="none"/><path d="M415.0 10.9L417.4 8.5L419.8 10.9" stroke="#FFC000" stroke-width="1.5" fill="none" stroke-linejoin="round"/>
<path d="M425.6 8.6V18.7" stroke="#FFC000" stroke-width="1.5" fill="none"/><path d="M423.2 10.9L425.6 8.5L428.0 10.9" stroke="#FFC000" stroke-width="1.5" fill="none" stroke-linejoin="round"/>
<path d="M432.9 8.6V18.7" stroke="#00B050" stroke-width="1.15" fill="none" stroke-dasharray="1.1 1.0"/><path d="M430.5 10.9L432.9 8.5L435.3 10.9" stroke="#00B050" stroke-width="1.5" fill="none" stroke-linejoin="round"/>
<path d="M438.8 10.0V18.7" stroke="#FFC000" stroke-width="1.3" fill="none"/><circle cx="438.8" cy="10.7" r="2.7" fill="#FFC000"/>
<path d="M444.4 8.6V18.7" stroke="#7030A0" stroke-width="1.15" fill="none" stroke-dasharray="1.1 1.0"/><path d="M442.0 10.9L444.4 8.5L446.8 10.9" stroke="#7030A0" stroke-width="1.5" fill="none" stroke-linejoin="round"/>
<path d="M458.0 10.0V18.7" stroke="#FFC000" stroke-width="1.3" fill="none"/><circle cx="458.0" cy="10.7" r="2.7" fill="#FFC000"/>
<path d="M460.2 8.6V18.7" stroke="#FFC000" stroke-width="1.5" fill="none"/><path d="M457.8 10.9L460.2 8.5L462.6 10.9" stroke="#FFC000" stroke-width="1.5" fill="none" stroke-linejoin="round"/>
<path d="M463.9 8.6V18.7" stroke="#FFC000" stroke-width="1.5" fill="none"/><path d="M461.5 10.9L463.9 8.5L466.3 10.9" stroke="#FFC000" stroke-width="1.5" fill="none" stroke-linejoin="round"/>
<path d="M318.2 21.3V31.4" stroke="#EE959D" stroke-width="0.85" fill="none" stroke-dasharray="1.1 1.0"/><path d="M315.8 29.1L318.2 31.5L320.6 29.1" stroke="#EE959D" stroke-width="1.05" fill="none" stroke-linejoin="round"/>
<path d="M322.6 21.3V31.4" stroke="#EE959D" stroke-width="1.0" fill="none"/><path d="M320.2 29.1L322.6 31.5L325.0 29.1" stroke="#EE959D" stroke-width="1.05" fill="none" stroke-linejoin="round"/>
<path d="M326.0 21.9V32.0" stroke="#FFC000" stroke-width="1.5" fill="none"/><path d="M323.6 24.2L326.0 21.8L328.4 24.2" stroke="#FFC000" stroke-width="1.5" fill="none" stroke-linejoin="round"/>
<path d="M330.4 21.3V31.4" stroke="#7030A0" stroke-width="1.15" fill="none" stroke-dasharray="1.1 1.0"/><path d="M328.0 29.1L330.4 31.5L332.8 29.1" stroke="#7030A0" stroke-width="1.5" fill="none" stroke-linejoin="round"/>
<path d="M331.4 21.9V32.0" stroke="#00B050" stroke-width="1.15" fill="none" stroke-dasharray="1.1 1.0"/><path d="M329.0 24.2L331.4 21.8L333.8 24.2" stroke="#00B050" stroke-width="1.5" fill="none" stroke-linejoin="round"/>
<path d="M336.6 23.3V32.0" stroke="#FFC000" stroke-width="1.1" fill="none" stroke-dasharray="1.1 1.0"/><circle cx="336.6" cy="24.0" r="2.7" fill="#FFC000"/>
<path d="M337.3 21.3V31.4" stroke="#FF0000" stroke-width="1.15" fill="none" stroke-dasharray="1.1 1.0"/><path d="M334.9 29.1L337.3 31.5L339.7 29.1" stroke="#FF0000" stroke-width="1.5" fill="none" stroke-linejoin="round"/>
<path d="M341.0 21.9V32.0" stroke="#FF0000" stroke-width="1.5" fill="none"/><path d="M338.6 24.2L341.0 21.8L343.4 24.2" stroke="#FF0000" stroke-width="1.5" fill="none" stroke-linejoin="round"/>
<path d="M350.1 21.9V32.0" stroke="#7030A0" stroke-width="1.5" fill="none"/><path d="M347.7 24.2L350.1 21.8L352.5 24.2" stroke="#7030A0" stroke-width="1.5" fill="none" stroke-linejoin="round"/>
<path d="M357.9 21.3V31.4" stroke="#EE959D" stroke-width="0.85" fill="none" stroke-dasharray="1.1 1.0"/><path d="M355.5 29.1L357.9 31.5L360.3 29.1" stroke="#EE959D" stroke-width="1.05" fill="none" stroke-linejoin="round"/>
<path d="M368.7 21.9V32.0" stroke="#7030A0" stroke-width="1.15" fill="none" stroke-dasharray="1.1 1.0"/><path d="M366.3 24.2L368.7 21.8L371.1 24.2" stroke="#7030A0" stroke-width="1.5" fill="none" stroke-linejoin="round"/>
<path d="M385.9 21.3V31.4" stroke="#EE959D" stroke-width="0.85" fill="none" stroke-dasharray="1.1 1.0"/><path d="M383.5 29.1L385.9 31.5L388.3 29.1" stroke="#EE959D" stroke-width="1.05" fill="none" stroke-linejoin="round"/>
<path d="M388.9 21.9V32.0" stroke="#FF0000" stroke-width="1.15" fill="none" stroke-dasharray="1.1 1.0"/><path d="M386.5 24.2L388.9 21.8L391.3 24.2" stroke="#FF0000" stroke-width="1.5" fill="none" stroke-linejoin="round"/>
<path d="M392.6 21.9V32.0" stroke="#FFC000" stroke-width="1.5" fill="none"/><path d="M390.2 24.2L392.6 21.8L395.0 24.2" stroke="#FFC000" stroke-width="1.5" fill="none" stroke-linejoin="round"/>
<path d="M395.1 21.9V32.0" stroke="#FFC000" stroke-width="1.5" fill="none"/><path d="M392.7 24.2L395.1 21.8L397.5 24.2" stroke="#FFC000" stroke-width="1.5" fill="none" stroke-linejoin="round"/>
<path d="M427.0 21.9V32.0" stroke="#FFC000" stroke-width="1.5" fill="none"/><path d="M424.6 24.2L427.0 21.8L429.4 24.2" stroke="#FFC000" stroke-width="1.5" fill="none" stroke-linejoin="round"/>
<path d="M430.4 21.9V32.0" stroke="#FF0000" stroke-width="1.5" fill="none"/><path d="M428.0 24.2L430.4 21.8L432.8 24.2" stroke="#FF0000" stroke-width="1.5" fill="none" stroke-linejoin="round"/>
<path d="M438.1 23.3V32.0" stroke="#FFC000" stroke-width="1.3" fill="none"/><circle cx="438.1" cy="24.0" r="2.7" fill="#FFC000"/>
<path d="M440.3 23.3V32.0" stroke="#FFC000" stroke-width="1.3" fill="none"/><circle cx="440.3" cy="24.0" r="2.7" fill="#FFC000"/>
<path d="M444.7 21.9V32.0" stroke="#FFC000" stroke-width="1.5" fill="none"/><path d="M442.3 24.2L444.7 21.8L447.1 24.2" stroke="#FFC000" stroke-width="1.5" fill="none" stroke-linejoin="round"/>
<path d="M328.5 34.7V44.8" stroke="#FF0000" stroke-width="1.15" fill="none" stroke-dasharray="1.1 1.0"/><path d="M326.1 42.5L328.5 44.9L330.9 42.5" stroke="#FF0000" stroke-width="1.5" fill="none" stroke-linejoin="round"/>
<path d="M335.1 35.3V45.4" stroke="#FF0000" stroke-width="1.5" fill="none"/><path d="M332.7 37.6L335.1 35.2L337.5 37.6" stroke="#FF0000" stroke-width="1.5" fill="none" stroke-linejoin="round"/>
<path d="M350.1 35.3V45.4" stroke="#FF0000" stroke-width="1.5" fill="none"/><path d="M347.7 37.6L350.1 35.2L352.5 37.6" stroke="#FF0000" stroke-width="1.5" fill="none" stroke-linejoin="round"/>
<path d="M354.5 36.7V45.4" stroke="#FFC000" stroke-width="1.3" fill="none"/><circle cx="354.5" cy="37.4" r="2.7" fill="#FFC000"/>
<path d="M370.5 34.7V44.8" stroke="#FF0000" stroke-width="1.15" fill="none" stroke-dasharray="1.1 1.0"/><path d="M368.1 42.5L370.5 44.9L372.9 42.5" stroke="#FF0000" stroke-width="1.5" fill="none" stroke-linejoin="round"/>
<path d="M381.5 34.7V44.8" stroke="#EE959D" stroke-width="0.85" fill="none" stroke-dasharray="1.1 1.0"/><path d="M379.1 42.5L381.5 44.9L383.9 42.5" stroke="#EE959D" stroke-width="1.05" fill="none" stroke-linejoin="round"/>
<path d="M383.7 34.7V44.8" stroke="#FF0000" stroke-width="1.15" fill="none" stroke-dasharray="1.1 1.0"/><path d="M381.3 42.5L383.7 44.9L386.1 42.5" stroke="#FF0000" stroke-width="1.5" fill="none" stroke-linejoin="round"/>
<path d="M393.5 36.7V45.4" stroke="#FF0000" stroke-width="1.3" fill="none"/><circle cx="393.5" cy="37.4" r="2.7" fill="#FF0000"/>
<path d="M396.5 36.7V45.4" stroke="#7030A0" stroke-width="1.3" fill="none"/><circle cx="396.5" cy="37.4" r="2.7" fill="#7030A0"/>
<path d="M405.4 36.7V45.4" stroke="#7030A0" stroke-width="1.3" fill="none"/><circle cx="405.4" cy="37.4" r="2.7" fill="#7030A0"/>
<path d="M442.8 36.7V45.4" stroke="#FFC000" stroke-width="1.3" fill="none"/><circle cx="442.8" cy="37.4" r="2.7" fill="#FFC000"/>
<path d="M318.6 50.0V58.7" stroke="#FFC000" stroke-width="1.1" fill="none" stroke-dasharray="1.1 1.0"/><circle cx="318.6" cy="50.7" r="2.7" fill="#FFC000"/>
<path d="M329.5 48.0V58.1" stroke="#FF0000" stroke-width="1.15" fill="none" stroke-dasharray="1.1 1.0"/><path d="M327.1 55.8L329.5 58.2L331.9 55.8" stroke="#FF0000" stroke-width="1.5" fill="none" stroke-linejoin="round"/>
<path d="M331.4 48.0V58.1" stroke="#EE959D" stroke-width="0.85" fill="none" stroke-dasharray="1.1 1.0"/><path d="M329.0 55.8L331.4 58.2L333.8 55.8" stroke="#EE959D" stroke-width="1.05" fill="none" stroke-linejoin="round"/>
<path d="M335.1 48.0V58.1" stroke="#FF0000" stroke-width="1.15" fill="none" stroke-dasharray="1.1 1.0"/><path d="M332.7 55.8L335.1 58.2L337.5 55.8" stroke="#FF0000" stroke-width="1.5" fill="none" stroke-linejoin="round"/>
<path d="M337.3 48.0V58.1" stroke="#FFC000" stroke-width="1.5" fill="none"/><path d="M334.9 55.8L337.3 58.2L339.7 55.8" stroke="#FFC000" stroke-width="1.5" fill="none" stroke-linejoin="round"/>
<path d="M357.2 48.0V58.1" stroke="#EE959D" stroke-width="0.85" fill="none" stroke-dasharray="1.1 1.0"/><path d="M354.8 55.8L357.2 58.2L359.6 55.8" stroke="#EE959D" stroke-width="1.05" fill="none" stroke-linejoin="round"/>
<path d="M359.4 48.6V58.7" stroke="#FFC000" stroke-width="1.15" fill="none" stroke-dasharray="1.1 1.0"/><path d="M357.0 50.9L359.4 48.5L361.8 50.9" stroke="#FFC000" stroke-width="1.5" fill="none" stroke-linejoin="round"/>
<path d="M362.4 48.0V58.1" stroke="#EE959D" stroke-width="0.85" fill="none" stroke-dasharray="1.1 1.0"/><path d="M360.0 55.8L362.4 58.2L364.8 55.8" stroke="#EE959D" stroke-width="1.05" fill="none" stroke-linejoin="round"/>
<path d="M375.0 48.6V58.7" stroke="#FF0000" stroke-width="1.5" fill="none"/><path d="M372.6 50.9L375.0 48.5L377.4 50.9" stroke="#FF0000" stroke-width="1.5" fill="none" stroke-linejoin="round"/>
<path d="M376.4 48.6V58.7" stroke="#FF0000" stroke-width="1.5" fill="none"/><path d="M374.0 50.9L376.4 48.5L378.8 50.9" stroke="#FF0000" stroke-width="1.5" fill="none" stroke-linejoin="round"/>
<path d="M402.4 50.0V58.7" stroke="#0070C0" stroke-width="1.1" fill="none" stroke-dasharray="1.1 1.0"/><circle cx="402.4" cy="50.7" r="2.7" fill="#0070C0"/>
<path d="M417.0 48.0V58.1" stroke="#EE959D" stroke-width="0.85" fill="none" stroke-dasharray="1.1 1.0"/><path d="M414.6 55.8L417.0 58.2L419.4 55.8" stroke="#EE959D" stroke-width="1.05" fill="none" stroke-linejoin="round"/>
<path d="M436.6 48.0V58.1" stroke="#EE959D" stroke-width="0.85" fill="none" stroke-dasharray="1.1 1.0"/><path d="M434.2 55.8L436.6 58.2L439.0 55.8" stroke="#EE959D" stroke-width="1.05" fill="none" stroke-linejoin="round"/>
<path d="M446.9 48.0V58.1" stroke="#EE959D" stroke-width="0.85" fill="none" stroke-dasharray="1.1 1.0"/><path d="M444.5 55.8L446.9 58.2L449.3 55.8" stroke="#EE959D" stroke-width="1.05" fill="none" stroke-linejoin="round"/>
<path d="M449.9 48.0V58.1" stroke="#EE959D" stroke-width="0.85" fill="none" stroke-dasharray="1.1 1.0"/><path d="M447.5 55.8L449.9 58.2L452.3 55.8" stroke="#EE959D" stroke-width="1.05" fill="none" stroke-linejoin="round"/>
<path d="M454.6 48.0V58.1" stroke="#FF0000" stroke-width="1.15" fill="none" stroke-dasharray="1.1 1.0"/><path d="M452.2 55.8L454.6 58.2L457.0 55.8" stroke="#FF0000" stroke-width="1.5" fill="none" stroke-linejoin="round"/>
<path d="M458.0 48.6V58.7" stroke="#00B050" stroke-width="1.15" fill="none" stroke-dasharray="1.1 1.0"/><path d="M455.6 50.9L458.0 48.5L460.4 50.9" stroke="#00B050" stroke-width="1.5" fill="none" stroke-linejoin="round"/>
<path d="M319.6 61.8V71.9" stroke="#FFC000" stroke-width="1.5" fill="none"/><path d="M317.2 64.1L319.6 61.7L322.0 64.1" stroke="#FFC000" stroke-width="1.5" fill="none" stroke-linejoin="round"/>
<path d="M328.9 63.2V71.9" stroke="#EE959D" stroke-width="1.0" fill="none"/><circle cx="328.9" cy="63.9" r="2.7" fill="#EE959D"/>
<path d="M336.3 61.8V71.9" stroke="#FF0000" stroke-width="1.5" fill="none"/><path d="M333.9 64.1L336.3 61.7L338.7 64.1" stroke="#FF0000" stroke-width="1.5" fill="none" stroke-linejoin="round"/>
<path d="M341.0 61.2V71.3" stroke="#7030A0" stroke-width="1.5" fill="none"/><path d="M338.6 69.0L341.0 71.4L343.4 69.0" stroke="#7030A0" stroke-width="1.5" fill="none" stroke-linejoin="round"/>
<path d="M344.2 61.2V71.3" stroke="#7030A0" stroke-width="1.5" fill="none"/><path d="M341.8 69.0L344.2 71.4L346.6 69.0" stroke="#7030A0" stroke-width="1.5" fill="none" stroke-linejoin="round"/>
<path d="M380.5 61.2V71.3" stroke="#FF0000" stroke-width="1.15" fill="none" stroke-dasharray="1.1 1.0"/><path d="M378.1 69.0L380.5 71.4L382.9 69.0" stroke="#FF0000" stroke-width="1.5" fill="none" stroke-linejoin="round"/>
<path d="M402.0 61.2V71.3" stroke="#FF0000" stroke-width="1.15" fill="none" stroke-dasharray="1.1 1.0"/><path d="M399.6 69.0L402.0 71.4L404.4 69.0" stroke="#FF0000" stroke-width="1.5" fill="none" stroke-linejoin="round"/>
<path d="M406.4 61.2V71.3" stroke="#EE959D" stroke-width="0.85" fill="none" stroke-dasharray="1.1 1.0"/><path d="M404.0 69.0L406.4 71.4L408.8 69.0" stroke="#EE959D" stroke-width="1.05" fill="none" stroke-linejoin="round"/>
<path d="M416.7 63.2V71.9" stroke="#FFC000" stroke-width="1.3" fill="none"/><circle cx="416.7" cy="63.9" r="2.7" fill="#FFC000"/>
<path d="M420.4 63.2V71.9" stroke="#0070C0" stroke-width="1.1" fill="none" stroke-dasharray="1.1 1.0"/><circle cx="420.4" cy="63.9" r="2.7" fill="#0070C0"/>
<path d="M422.6 61.8V71.9" stroke="#FFC000" stroke-width="1.5" fill="none"/><path d="M420.2 64.1L422.6 61.7L425.0 64.1" stroke="#FFC000" stroke-width="1.5" fill="none" stroke-linejoin="round"/>
<path d="M428.1 61.8V71.9" stroke="#00B050" stroke-width="1.15" fill="none" stroke-dasharray="1.1 1.0"/><path d="M425.7 64.1L428.1 61.7L430.5 64.1" stroke="#00B050" stroke-width="1.5" fill="none" stroke-linejoin="round"/>
<path d="M435.4 61.2V71.3" stroke="#EE959D" stroke-width="0.85" fill="none" stroke-dasharray="1.1 1.0"/><path d="M433.0 69.0L435.4 71.4L437.8 69.0" stroke="#EE959D" stroke-width="1.05" fill="none" stroke-linejoin="round"/>
<path d="M456.5 61.2V71.3" stroke="#00B050" stroke-width="1.5" fill="none"/><path d="M454.1 69.0L456.5 71.4L458.9 69.0" stroke="#00B050" stroke-width="1.5" fill="none" stroke-linejoin="round"/>
<path d="M459.0 61.2V71.3" stroke="#7030A0" stroke-width="1.5" fill="none"/><path d="M456.6 69.0L459.0 71.4L461.4 69.0" stroke="#7030A0" stroke-width="1.5" fill="none" stroke-linejoin="round"/>
<path d="M464.3 61.8V71.9" stroke="#00B050" stroke-width="1.15" fill="none" stroke-dasharray="1.1 1.0"/><path d="M461.9 64.1L464.3 61.7L466.7 64.1" stroke="#00B050" stroke-width="1.5" fill="none" stroke-linejoin="round"/>
<path d="M318.9 75.0V85.1" stroke="#FFC000" stroke-width="1.5" fill="none"/><path d="M316.5 77.3L318.9 74.9L321.3 77.3" stroke="#FFC000" stroke-width="1.5" fill="none" stroke-linejoin="round"/>
<path d="M323.3 74.4V84.5" stroke="#EE959D" stroke-width="0.85" fill="none" stroke-dasharray="1.1 1.0"/><path d="M320.9 82.2L323.3 84.6L325.7 82.2" stroke="#EE959D" stroke-width="1.05" fill="none" stroke-linejoin="round"/>
<path d="M326.0 75.0V85.1" stroke="#00B050" stroke-width="1.5" fill="none"/><path d="M323.6 77.3L326.0 74.9L328.4 77.3" stroke="#00B050" stroke-width="1.5" fill="none" stroke-linejoin="round"/>
<path d="M330.4 74.4V84.5" stroke="#EE959D" stroke-width="0.85" fill="none" stroke-dasharray="1.1 1.0"/><path d="M328.0 82.2L330.4 84.6L332.8 82.2" stroke="#EE959D" stroke-width="1.05" fill="none" stroke-linejoin="round"/>
<path d="M359.0 74.4V84.5" stroke="#7030A0" stroke-width="1.5" fill="none"/><path d="M356.6 82.2L359.0 84.6L361.4 82.2" stroke="#7030A0" stroke-width="1.5" fill="none" stroke-linejoin="round"/>
<path d="M390.2 76.4V85.1" stroke="#FFC000" stroke-width="1.3" fill="none"/><circle cx="390.2" cy="77.1" r="2.7" fill="#FFC000"/>
<path d="M394.6 74.4V84.5" stroke="#EE959D" stroke-width="0.85" fill="none" stroke-dasharray="1.1 1.0"/><path d="M392.2 82.2L394.6 84.6L397.0 82.2" stroke="#EE959D" stroke-width="1.05" fill="none" stroke-linejoin="round"/>
<path d="M409.8 76.4V85.1" stroke="#FFC000" stroke-width="1.3" fill="none"/><circle cx="409.8" cy="77.1" r="2.7" fill="#FFC000"/>
<path d="M417.5 76.4V85.1" stroke="#EE959D" stroke-width="1.0" fill="none"/><circle cx="417.5" cy="77.1" r="2.7" fill="#EE959D"/>
<path d="M434.4 76.4V85.1" stroke="#0070C0" stroke-width="1.1" fill="none" stroke-dasharray="1.1 1.0"/><circle cx="434.4" cy="77.1" r="2.7" fill="#0070C0"/>
<path d="M437.8 76.4V85.1" stroke="#0070C0" stroke-width="1.1" fill="none" stroke-dasharray="1.1 1.0"/><circle cx="437.8" cy="77.1" r="2.7" fill="#0070C0"/>
<path d="M445.5 75.0V85.1" stroke="#00B050" stroke-width="1.15" fill="none" stroke-dasharray="1.1 1.0"/><path d="M443.1 77.3L445.5 74.9L447.9 77.3" stroke="#00B050" stroke-width="1.5" fill="none" stroke-linejoin="round"/>
<rect x="317.4" y="18.4" width="147.8" height="2.3" fill="#000"/>
<rect x="317.4" y="31.6" width="147.8" height="2.3" fill="#000"/>
<rect x="317.4" y="45.1" width="147.8" height="2.3" fill="#000"/>
<rect x="317.4" y="58.4" width="147.8" height="2.3" fill="#000"/>
<rect x="317.4" y="71.5" width="147.8" height="2.3" fill="#000"/>
<rect x="317.4" y="84.8" width="147.8" height="2.3" fill="#000"/>
<text class="g" x="486.1" y="56.0" textLength="29.2" lengthAdjust="spacingAndGlyphs">CFTR</text>
<rect x="277.9" y="98.0" width="3.4" height="96.0" fill="#000"/>
<rect x="276.4" y="96.8" width="7.2" height="100.4" fill="none" stroke="#dcdcdc" stroke-width="0.6"/>
<text class="l" x="286.6" y="106.8" textLength="22.2" lengthAdjust="spacingAndGlyphs">ABC18</text>
<text class="l" x="286.6" y="119.6" textLength="22.2" lengthAdjust="spacingAndGlyphs">ABC21</text>
<text class="l" x="286.6" y="131.9" textLength="22.2" lengthAdjust="spacingAndGlyphs">ABC22</text>
<text class="l" x="286.6" y="144.7" textLength="22.2" lengthAdjust="spacingAndGlyphs">ABC23</text>
<text class="l" x="286.6" y="157.5" textLength="22.2" lengthAdjust="spacingAndGlyphs">ABC24</text>
<text class="l" x="286.6" y="169.8" textLength="22.2" lengthAdjust="spacingAndGlyphs">ABC25</text>
<text class="l" x="286.6" y="182.4" textLength="22.2" lengthAdjust="spacingAndGlyphs">ABC26</text>
<text class="l" x="286.6" y="195.2" textLength="22.2" lengthAdjust="spacingAndGlyphs">ABC27</text>
<path d="M340.7 90.0V100.1" stroke="#0070C0" stroke-width="1.15" fill="none" stroke-dasharray="1.1 1.0"/><path d="M338.3 97.8L340.7 100.2L343.1 97.8" stroke="#0070C0" stroke-width="1.5" fill="none" stroke-linejoin="round"/>
<path d="M345.5 92.0V100.7" stroke="#FFC000" stroke-width="1.3" fill="none"/><circle cx="345.5" cy="92.7" r="2.7" fill="#FFC000"/>
<path d="M348.3 92.0V100.7" stroke="#FFC000" stroke-width="1.3" fill="none"/><circle cx="348.3" cy="92.7" r="2.7" fill="#FFC000"/>
<path d="M363.8 90.6V100.7" stroke="#FF0000" stroke-width="1.15" fill="none" stroke-dasharray="1.1 1.0"/><path d="M361.4 92.9L363.8 90.5L366.2 92.9" stroke="#FF0000" stroke-width="1.5" fill="none" stroke-linejoin="round"/>
<path d="M369.0 90.6V100.7" stroke="#FF0000" stroke-width="1.5" fill="none"/><path d="M366.6 92.9L369.0 90.5L371.4 92.9" stroke="#FF0000" stroke-width="1.5" fill="none" stroke-linejoin="round"/>
<path d="M378.3 90.0V100.1" stroke="#EE959D" stroke-width="0.85" fill="none" stroke-dasharray="1.1 1.0"/><path d="M375.9 97.8L378.3 100.2L380.7 97.8" stroke="#EE959D" stroke-width="1.05" fill="none" stroke-linejoin="round"/>
<path d="M392.9 90.0V100.1" stroke="#EE959D" stroke-width="0.85" fill="none" stroke-dasharray="1.1 1.0"/><path d="M390.5 97.8L392.9 100.2L395.3 97.8" stroke="#EE959D" stroke-width="1.05" fill="none" stroke-linejoin="round"/>
<path d="M400.5 90.6V100.7" stroke="#FFC000" stroke-width="1.5" fill="none"/><path d="M398.1 92.9L400.5 90.5L402.9 92.9" stroke="#FFC000" stroke-width="1.5" fill="none" stroke-linejoin="round"/>
<path d="M402.7 90.6V100.7" stroke="#FFC000" stroke-width="1.5" fill="none"/><path d="M400.3 92.9L402.7 90.5L405.1 92.9" stroke="#FFC000" stroke-width="1.5" fill="none" stroke-linejoin="round"/>
<path d="M412.8 90.0V100.1" stroke="#EE959D" stroke-width="0.85" fill="none" stroke-dasharray="1.1 1.0"/><path d="M410.4 97.8L412.8 100.2L415.2 97.8" stroke="#EE959D" stroke-width="1.05" fill="none" stroke-linejoin="round"/>
<path d="M419.2 91.0V100.1" stroke="#00B050" stroke-width="1.5" fill="none"/><path d="M416.3 92.4Q416.6 90.0 419.2 90.0Q421.8 90.0 422.1 92.4Z" fill="#00B050"/><path d="M416.8 97.8L419.2 100.2L421.6 97.8" stroke="#00B050" stroke-width="1.5" fill="none" stroke-linejoin="round"/>
<path d="M424.1 90.0V100.1" stroke="#EE959D" stroke-width="0.85" fill="none" stroke-dasharray="1.1 1.0"/><path d="M421.7 97.8L424.1 100.2L426.5 97.8" stroke="#EE959D" stroke-width="1.05" fill="none" stroke-linejoin="round"/>
<path d="M459.5 92.0V100.7" stroke="#FFC000" stroke-width="1.3" fill="none"/><circle cx="459.5" cy="92.7" r="2.7" fill="#FFC000"/>
<path d="M461.4 90.0V100.1" stroke="#FF0000" stroke-width="1.5" fill="none"/><path d="M459.0 97.8L461.4 100.2L463.8 97.8" stroke="#FF0000" stroke-width="1.5" fill="none" stroke-linejoin="round"/>
<path d="M320.7 103.0V113.1" stroke="#FF0000" stroke-width="1.15" fill="none" stroke-dasharray="1.1 1.0"/><path d="M318.3 110.8L320.7 113.2L323.1 110.8" stroke="#FF0000" stroke-width="1.5" fill="none" stroke-linejoin="round"/>
<path d="M337.8 103.6V113.7" stroke="#7030A0" stroke-width="1.15" fill="none" stroke-dasharray="1.1 1.0"/><path d="M335.4 105.9L337.8 103.5L340.2 105.9" stroke="#7030A0" stroke-width="1.5" fill="none" stroke-linejoin="round"/>
<path d="M341.0 103.0V113.1" stroke="#EE959D" stroke-width="0.85" fill="none" stroke-dasharray="1.1 1.0"/><path d="M338.6 110.8L341.0 113.2L343.4 110.8" stroke="#EE959D" stroke-width="1.05" fill="none" stroke-linejoin="round"/>
<path d="M346.6 103.6V113.7" stroke="#7030A0" stroke-width="1.5" fill="none"/><path d="M344.2 105.9L346.6 103.5L349.0 105.9" stroke="#7030A0" stroke-width="1.5" fill="none" stroke-linejoin="round"/>
<path d="M357.2 105.0V113.7" stroke="#FFC000" stroke-width="1.3" fill="none"/><circle cx="357.2" cy="105.7" r="2.7" fill="#FFC000"/>
<path d="M359.4 103.6V113.7" stroke="#00B050" stroke-width="1.5" fill="none"/><path d="M357.0 105.9L359.4 103.5L361.8 105.9" stroke="#00B050" stroke-width="1.5" fill="none" stroke-linejoin="round"/>
<path d="M374.9 103.6V113.7" stroke="#FFC000" stroke-width="1.5" fill="none"/><path d="M372.5 105.9L374.9 103.5L377.3 105.9" stroke="#FFC000" stroke-width="1.5" fill="none" stroke-linejoin="round"/>
<path d="M379.6 103.6V113.7" stroke="#0070C0" stroke-width="1.5" fill="none"/><path d="M377.2 105.9L379.6 103.5L382.0 105.9" stroke="#0070C0" stroke-width="1.5" fill="none" stroke-linejoin="round"/>
<path d="M389.2 103.0V113.1" stroke="#FFC000" stroke-width="1.5" fill="none"/><path d="M386.8 110.8L389.2 113.2L391.6 110.8" stroke="#FFC000" stroke-width="1.5" fill="none" stroke-linejoin="round"/>
<path d="M415.3 103.6V113.7" stroke="#EE959D" stroke-width="0.85" fill="none" stroke-dasharray="1.1 1.0"/><path d="M412.9 105.9L415.3 103.5L417.7 105.9" stroke="#EE959D" stroke-width="1.05" fill="none" stroke-linejoin="round"/>
<path d="M420.4 105.0V113.7" stroke="#0070C0" stroke-width="1.1" fill="none" stroke-dasharray="1.1 1.0"/><circle cx="420.4" cy="105.7" r="2.7" fill="#0070C0"/>
<path d="M426.0 103.6V113.7" stroke="#FFC000" stroke-width="1.5" fill="none"/><path d="M423.6 105.9L426.0 103.5L428.4 105.9" stroke="#FFC000" stroke-width="1.5" fill="none" stroke-linejoin="round"/>
<path d="M431.0 103.0V113.1" stroke="#EE959D" stroke-width="0.85" fill="none" stroke-dasharray="1.1 1.0"/><path d="M428.6 110.8L431.0 113.2L433.4 110.8" stroke="#EE959D" stroke-width="1.05" fill="none" stroke-linejoin="round"/>
<path d="M436.3 103.0V113.1" stroke="#FF0000" stroke-width="1.15" fill="none" stroke-dasharray="1.1 1.0"/><path d="M433.9 110.8L436.3 113.2L438.7 110.8" stroke="#FF0000" stroke-width="1.5" fill="none" stroke-linejoin="round"/>
<path d="M445.2 103.6V113.7" stroke="#FFC000" stroke-width="1.5" fill="none"/><path d="M442.8 105.9L445.2 103.5L447.6 105.9" stroke="#FFC000" stroke-width="1.5" fill="none" stroke-linejoin="round"/>
<path d="M461.7 103.6V113.7" stroke="#FFC000" stroke-width="1.5" fill="none"/><path d="M459.3 105.9L461.7 103.5L464.1 105.9" stroke="#FFC000" stroke-width="1.5" fill="none" stroke-linejoin="round"/>
<path d="M465.0 103.6V113.7" stroke="#FFC000" stroke-width="1.5" fill="none"/><path d="M462.6 105.9L465.0 103.5L467.4 105.9" stroke="#FFC000" stroke-width="1.5" fill="none" stroke-linejoin="round"/>
<path d="M318.9 118.5V127.2" stroke="#0070C0" stroke-width="1.1" fill="none" stroke-dasharray="1.1 1.0"/><circle cx="318.9" cy="119.2" r="2.7" fill="#0070C0"/>
<path d="M321.8 118.5V127.2" stroke="#0070C0" stroke-width="1.1" fill="none" stroke-dasharray="1.1 1.0"/><circle cx="321.8" cy="119.2" r="2.7" fill="#0070C0"/>
<path d="M325.5 116.5V126.6" stroke="#7030A0" stroke-width="1.5" fill="none"/><path d="M323.1 124.3L325.5 126.7L327.9 124.3" stroke="#7030A0" stroke-width="1.5" fill="none" stroke-linejoin="round"/>
<path d="M329.2 116.5V126.6" stroke="#00B050" stroke-width="1.5" fill="none"/><path d="M326.8 124.3L329.2 126.7L331.6 124.3" stroke="#00B050" stroke-width="1.5" fill="none" stroke-linejoin="round"/>
<path d="M333.6 118.5V127.2" stroke="#0070C0" stroke-width="1.1" fill="none" stroke-dasharray="1.1 1.0"/><circle cx="333.6" cy="119.2" r="2.7" fill="#0070C0"/>
<path d="M339.5 118.5V127.2" stroke="#0070C0" stroke-width="1.1" fill="none" stroke-dasharray="1.1 1.0"/><circle cx="339.5" cy="119.2" r="2.7" fill="#0070C0"/>
<path d="M341.7 118.5V127.2" stroke="#0070C0" stroke-width="1.1" fill="none" stroke-dasharray="1.1 1.0"/><circle cx="341.7" cy="119.2" r="2.7" fill="#0070C0"/>
<path d="M348.7 118.5V127.2" stroke="#0070C0" stroke-width="1.1" fill="none" stroke-dasharray="1.1 1.0"/><circle cx="348.7" cy="119.2" r="2.7" fill="#0070C0"/>
<path d="M354.0 116.5V126.6" stroke="#00B050" stroke-width="1.5" fill="none"/><path d="M351.6 124.3L354.0 126.7L356.4 124.3" stroke="#00B050" stroke-width="1.5" fill="none" stroke-linejoin="round"/>
<path d="M356.0 116.5V126.6" stroke="#7030A0" stroke-width="1.5" fill="none"/><path d="M353.6 124.3L356.0 126.7L358.4 124.3" stroke="#7030A0" stroke-width="1.5" fill="none" stroke-linejoin="round"/>
<path d="M360.1 116.5V126.6" stroke="#00B050" stroke-width="1.5" fill="none"/><path d="M357.7 124.3L360.1 126.7L362.5 124.3" stroke="#00B050" stroke-width="1.5" fill="none" stroke-linejoin="round"/>
<path d="M363.8 117.1V127.2" stroke="#FFC000" stroke-width="1.5" fill="none"/><path d="M361.4 119.4L363.8 117.0L366.2 119.4" stroke="#FFC000" stroke-width="1.5" fill="none" stroke-linejoin="round"/>
<path d="M365.0 117.1V127.2" stroke="#FFC000" stroke-width="1.5" fill="none"/><path d="M362.6 119.4L365.0 117.0L367.4 119.4" stroke="#FFC000" stroke-width="1.5" fill="none" stroke-linejoin="round"/>
<path d="M366.4 117.1V127.2" stroke="#FFC000" stroke-width="1.5" fill="none"/><path d="M364.0 119.4L366.4 117.0L368.8 119.4" stroke="#FFC000" stroke-width="1.5" fill="none" stroke-linejoin="round"/>
<path d="M368.2 117.1V127.2" stroke="#FFC000" stroke-width="1.5" fill="none"/><path d="M365.8 119.4L368.2 117.0L370.6 119.4" stroke="#FFC000" stroke-width="1.5" fill="none" stroke-linejoin="round"/>
<path d="M371.6 118.5V127.2" stroke="#0070C0" stroke-width="1.1" fill="none" stroke-dasharray="1.1 1.0"/><circle cx="371.6" cy="119.2" r="2.7" fill="#0070C0"/>
<path d="M394.6 116.5V126.6" stroke="#7030A0" stroke-width="1.5" fill="none"/><path d="M392.2 124.3L394.6 126.7L397.0 124.3" stroke="#7030A0" stroke-width="1.5" fill="none" stroke-linejoin="round"/>
<path d="M402.7 118.5V127.2" stroke="#0070C0" stroke-width="1.1" fill="none" stroke-dasharray="1.1 1.0"/><circle cx="402.7" cy="119.2" r="2.7" fill="#0070C0"/>
<path d="M404.9 116.5V126.6" stroke="#7030A0" stroke-width="1.5" fill="none"/><path d="M402.5 124.3L404.9 126.7L407.3 124.3" stroke="#7030A0" stroke-width="1.5" fill="none" stroke-linejoin="round"/>
<path d="M411.6 116.5V126.6" stroke="#7030A0" stroke-width="1.5" fill="none"/><path d="M409.2 124.3L411.6 126.7L414.0 124.3" stroke="#7030A0" stroke-width="1.5" fill="none" stroke-linejoin="round"/>
<path d="M414.2 118.5V127.2" stroke="#0070C0" stroke-width="1.1" fill="none" stroke-dasharray="1.1 1.0"/><circle cx="414.2" cy="119.2" r="2.7" fill="#0070C0"/>
<path d="M442.2 118.5V127.2" stroke="#0070C0" stroke-width="1.1" fill="none" stroke-dasharray="1.1 1.0"/><circle cx="442.2" cy="119.2" r="2.7" fill="#0070C0"/>
<path d="M455.0 116.5V126.6" stroke="#EE959D" stroke-width="0.85" fill="none" stroke-dasharray="1.1 1.0"/><path d="M452.6 124.3L455.0 126.7L457.4 124.3" stroke="#EE959D" stroke-width="1.05" fill="none" stroke-linejoin="round"/>
<path d="M322.6 129.7V139.8" stroke="#EE959D" stroke-width="0.85" fill="none" stroke-dasharray="1.1 1.0"/><path d="M320.2 137.5L322.6 139.9L325.0 137.5" stroke="#EE959D" stroke-width="1.05" fill="none" stroke-linejoin="round"/>
<path d="M365.7 129.7V139.8" stroke="#00B050" stroke-width="1.5" fill="none"/><path d="M363.3 137.5L365.7 139.9L368.1 137.5" stroke="#00B050" stroke-width="1.5" fill="none" stroke-linejoin="round"/>
<path d="M368.7 129.7V139.8" stroke="#7030A0" stroke-width="1.5" fill="none"/><path d="M366.3 137.5L368.7 139.9L371.1 137.5" stroke="#7030A0" stroke-width="1.5" fill="none" stroke-linejoin="round"/>
<path d="M371.9 129.7V139.8" stroke="#EE959D" stroke-width="0.85" fill="none" stroke-dasharray="1.1 1.0"/><path d="M369.5 137.5L371.9 139.9L374.3 137.5" stroke="#EE959D" stroke-width="1.05" fill="none" stroke-linejoin="round"/>
<path d="M377.5 129.7V139.8" stroke="#EE959D" stroke-width="0.85" fill="none" stroke-dasharray="1.1 1.0"/><path d="M375.1 137.5L377.5 139.9L379.9 137.5" stroke="#EE959D" stroke-width="1.05" fill="none" stroke-linejoin="round"/>
<path d="M388.8 129.7V139.8" stroke="#7030A0" stroke-width="1.5" fill="none"/><path d="M386.4 137.5L388.8 139.9L391.2 137.5" stroke="#7030A0" stroke-width="1.5" fill="none" stroke-linejoin="round"/>
<path d="M393.2 131.7V140.4" stroke="#EE959D" stroke-width="1.0" fill="none"/><circle cx="393.2" cy="132.4" r="2.7" fill="#EE959D"/>
<path d="M420.4 130.3V140.4" stroke="#FFC000" stroke-width="1.5" fill="none"/><path d="M418.0 132.6L420.4 130.2L422.8 132.6" stroke="#FFC000" stroke-width="1.5" fill="none" stroke-linejoin="round"/>
<path d="M423.4 130.3V140.4" stroke="#EE959D" stroke-width="0.85" fill="none" stroke-dasharray="1.1 1.0"/><path d="M421.0 132.6L423.4 130.2L425.8 132.6" stroke="#EE959D" stroke-width="1.05" fill="none" stroke-linejoin="round"/>
<path d="M425.1 129.7V139.8" stroke="#7030A0" stroke-width="1.5" fill="none"/><path d="M422.7 137.5L425.1 139.9L427.5 137.5" stroke="#7030A0" stroke-width="1.5" fill="none" stroke-linejoin="round"/>
<path d="M427.5 130.3V140.4" stroke="#FFC000" stroke-width="1.5" fill="none"/><path d="M425.1 132.6L427.5 130.2L429.9 132.6" stroke="#FFC000" stroke-width="1.5" fill="none" stroke-linejoin="round"/>
<path d="M430.0 131.7V140.4" stroke="#EE959D" stroke-width="1.0" fill="none"/><circle cx="430.0" cy="132.4" r="2.7" fill="#EE959D"/>
<path d="M432.2 129.7V139.8" stroke="#EE959D" stroke-width="1.0" fill="none"/><path d="M429.8 137.5L432.2 139.9L434.6 137.5" stroke="#EE959D" stroke-width="1.05" fill="none" stroke-linejoin="round"/>
<path d="M434.4 129.7V139.8" stroke="#EE959D" stroke-width="1.0" fill="none"/><path d="M432.0 137.5L434.4 139.9L436.8 137.5" stroke="#EE959D" stroke-width="1.05" fill="none" stroke-linejoin="round"/>
<path d="M460.2 129.7V139.8" stroke="#EE959D" stroke-width="0.85" fill="none" stroke-dasharray="1.1 1.0"/><path d="M457.8 137.5L460.2 139.9L462.6 137.5" stroke="#EE959D" stroke-width="1.05" fill="none" stroke-linejoin="round"/>
<path d="M463.4 130.3V140.4" stroke="#0070C0" stroke-width="1.15" fill="none" stroke-dasharray="1.1 1.0"/><path d="M461.0 132.6L463.4 130.2L465.8 132.6" stroke="#0070C0" stroke-width="1.5" fill="none" stroke-linejoin="round"/>
<path d="M319.2 142.3V152.4" stroke="#EE959D" stroke-width="0.85" fill="none" stroke-dasharray="1.1 1.0"/><path d="M316.8 150.1L319.2 152.5L321.6 150.1" stroke="#EE959D" stroke-width="1.05" fill="none" stroke-linejoin="round"/>
<path d="M334.8 142.9V153.0" stroke="#00B050" stroke-width="1.5" fill="none"/><path d="M332.4 145.2L334.8 142.8L337.2 145.2" stroke="#00B050" stroke-width="1.5" fill="none" stroke-linejoin="round"/>
<path d="M341.0 142.3V152.4" stroke="#0070C0" stroke-width="1.5" fill="none"/><path d="M338.6 150.1L341.0 152.5L343.4 150.1" stroke="#0070C0" stroke-width="1.5" fill="none" stroke-linejoin="round"/>
<path d="M353.1 142.3V152.4" stroke="#EE959D" stroke-width="0.85" fill="none" stroke-dasharray="1.1 1.0"/><path d="M350.7 150.1L353.1 152.5L355.5 150.1" stroke="#EE959D" stroke-width="1.05" fill="none" stroke-linejoin="round"/>
<path d="M357.9 142.3V152.4" stroke="#EE959D" stroke-width="0.85" fill="none" stroke-dasharray="1.1 1.0"/><path d="M355.5 150.1L357.9 152.5L360.3 150.1" stroke="#EE959D" stroke-width="1.05" fill="none" stroke-linejoin="round"/>
<path d="M360.9 142.3V152.4" stroke="#EE959D" stroke-width="0.85" fill="none" stroke-dasharray="1.1 1.0"/><path d="M358.5 150.1L360.9 152.5L363.3 150.1" stroke="#EE959D" stroke-width="1.05" fill="none" stroke-linejoin="round"/>
<path d="M363.8 142.3V152.4" stroke="#7030A0" stroke-width="1.5" fill="none"/><path d="M361.4 150.1L363.8 152.5L366.2 150.1" stroke="#7030A0" stroke-width="1.5" fill="none" stroke-linejoin="round"/>
<path d="M367.5 142.3V152.4" stroke="#EE959D" stroke-width="0.85" fill="none" stroke-dasharray="1.1 1.0"/><path d="M365.1 150.1L367.5 152.5L369.9 150.1" stroke="#EE959D" stroke-width="1.05" fill="none" stroke-linejoin="round"/>
<path d="M372.7 142.3V152.4" stroke="#7030A0" stroke-width="1.5" fill="none"/><path d="M370.3 150.1L372.7 152.5L375.1 150.1" stroke="#7030A0" stroke-width="1.5" fill="none" stroke-linejoin="round"/>
<path d="M377.1 144.3V153.0" stroke="#0070C0" stroke-width="1.1" fill="none" stroke-dasharray="1.1 1.0"/><circle cx="377.1" cy="145.0" r="2.7" fill="#0070C0"/>
<path d="M395.1 142.3V152.4" stroke="#FF0000" stroke-width="1.15" fill="none" stroke-dasharray="1.1 1.0"/><path d="M392.7 150.1L395.1 152.5L397.5 150.1" stroke="#FF0000" stroke-width="1.5" fill="none" stroke-linejoin="round"/>
<path d="M416.7 142.3V152.4" stroke="#FF0000" stroke-width="1.5" fill="none"/><path d="M414.3 150.1L416.7 152.5L419.1 150.1" stroke="#FF0000" stroke-width="1.5" fill="none" stroke-linejoin="round"/>
<path d="M419.7 142.9V153.0" stroke="#FFC000" stroke-width="1.5" fill="none"/><path d="M417.3 145.2L419.7 142.8L422.1 145.2" stroke="#FFC000" stroke-width="1.5" fill="none" stroke-linejoin="round"/>
<path d="M422.6 142.9V153.0" stroke="#FFC000" stroke-width="1.5" fill="none"/><path d="M420.2 145.2L422.6 142.8L425.0 145.2" stroke="#FFC000" stroke-width="1.5" fill="none" stroke-linejoin="round"/>
<path d="M426.6 142.3V152.4" stroke="#0070C0" stroke-width="1.15" fill="none" stroke-dasharray="1.1 1.0"/><path d="M424.2 150.1L426.6 152.5L429.0 150.1" stroke="#0070C0" stroke-width="1.5" fill="none" stroke-linejoin="round"/>
<path d="M435.4 142.3V152.4" stroke="#EE959D" stroke-width="1.0" fill="none"/><path d="M433.0 150.1L435.4 152.5L437.8 150.1" stroke="#EE959D" stroke-width="1.05" fill="none" stroke-linejoin="round"/>
<path d="M442.2 144.3V153.0" stroke="#FF0000" stroke-width="1.3" fill="none"/><circle cx="442.2" cy="145.0" r="2.7" fill="#FF0000"/>
<path d="M459.9 142.3V152.4" stroke="#FF0000" stroke-width="1.15" fill="none" stroke-dasharray="1.1 1.0"/><path d="M457.5 150.1L459.9 152.5L462.3 150.1" stroke="#FF0000" stroke-width="1.5" fill="none" stroke-linejoin="round"/>
<path d="M463.1 144.3V153.0" stroke="#0070C0" stroke-width="1.1" fill="none" stroke-dasharray="1.1 1.0"/><circle cx="463.1" cy="145.0" r="2.7" fill="#0070C0"/>
<path d="M320.7 157.0V165.7" stroke="#FFC000" stroke-width="1.3" fill="none"/><circle cx="320.7" cy="157.7" r="2.7" fill="#FFC000"/>
<path d="M352.0 155.0V165.1" stroke="#FF0000" stroke-width="1.15" fill="none" stroke-dasharray="1.1 1.0"/><path d="M349.6 162.8L352.0 165.2L354.4 162.8" stroke="#FF0000" stroke-width="1.5" fill="none" stroke-linejoin="round"/>
<path d="M357.5 155.6V165.7" stroke="#FF0000" stroke-width="1.5" fill="none"/><path d="M355.1 157.9L357.5 155.5L359.9 157.9" stroke="#FF0000" stroke-width="1.5" fill="none" stroke-linejoin="round"/>
<path d="M368.7 155.0V165.1" stroke="#EE959D" stroke-width="0.85" fill="none" stroke-dasharray="1.1 1.0"/><path d="M366.3 162.8L368.7 165.2L371.1 162.8" stroke="#EE959D" stroke-width="1.05" fill="none" stroke-linejoin="round"/>
<path d="M372.7 155.0V165.1" stroke="#EE959D" stroke-width="0.85" fill="none" stroke-dasharray="1.1 1.0"/><path d="M370.3 162.8L372.7 165.2L375.1 162.8" stroke="#EE959D" stroke-width="1.05" fill="none" stroke-linejoin="round"/>
<path d="M378.6 155.6V165.7" stroke="#7030A0" stroke-width="1.15" fill="none" stroke-dasharray="1.1 1.0"/><path d="M376.2 157.9L378.6 155.5L381.0 157.9" stroke="#7030A0" stroke-width="1.5" fill="none" stroke-linejoin="round"/>
<path d="M384.9 155.0V165.1" stroke="#FFC000" stroke-width="1.5" fill="none"/><path d="M382.5 162.8L384.9 165.2L387.3 162.8" stroke="#FFC000" stroke-width="1.5" fill="none" stroke-linejoin="round"/>
<path d="M402.0 155.0V165.1" stroke="#EE959D" stroke-width="0.85" fill="none" stroke-dasharray="1.1 1.0"/><path d="M399.6 162.8L402.0 165.2L404.4 162.8" stroke="#EE959D" stroke-width="1.05" fill="none" stroke-linejoin="round"/>
<path d="M405.7 155.0V165.1" stroke="#EE959D" stroke-width="0.85" fill="none" stroke-dasharray="1.1 1.0"/><path d="M403.3 162.8L405.7 165.2L408.1 162.8" stroke="#EE959D" stroke-width="1.05" fill="none" stroke-linejoin="round"/>
<path d="M409.8 155.0V165.1" stroke="#EE959D" stroke-width="0.85" fill="none" stroke-dasharray="1.1 1.0"/><path d="M407.4 162.8L409.8 165.2L412.2 162.8" stroke="#EE959D" stroke-width="1.05" fill="none" stroke-linejoin="round"/>
<path d="M439.3 155.0V165.1" stroke="#EE959D" stroke-width="0.85" fill="none" stroke-dasharray="1.1 1.0"/><path d="M436.9 162.8L439.3 165.2L441.7 162.8" stroke="#EE959D" stroke-width="1.05" fill="none" stroke-linejoin="round"/>
<path d="M444.7 157.0V165.7" stroke="#FF0000" stroke-width="1.3" fill="none"/><circle cx="444.7" cy="157.7" r="2.7" fill="#FF0000"/>
<path d="M446.6 157.0V165.7" stroke="#7030A0" stroke-width="1.3" fill="none"/><circle cx="446.6" cy="157.7" r="2.7" fill="#7030A0"/>
<path d="M445.6 155.6V165.7" stroke="#FF0000" stroke-width="1.5" fill="none"/><path d="M443.2 157.9L445.6 155.5L448.0 157.9" stroke="#FF0000" stroke-width="1.5" fill="none" stroke-linejoin="round"/>
<path d="M449.9 155.6V165.7" stroke="#FFC000" stroke-width="1.5" fill="none"/><path d="M447.5 157.9L449.9 155.5L452.3 157.9" stroke="#FFC000" stroke-width="1.5" fill="none" stroke-linejoin="round"/>
<path d="M465.6 155.6V165.7" stroke="#FF0000" stroke-width="1.5" fill="none"/><path d="M463.2 157.9L465.6 155.5L468.0 157.9" stroke="#FF0000" stroke-width="1.5" fill="none" stroke-linejoin="round"/>
<path d="M465.6 155.6V165.7" stroke="#00B050" stroke-width="1.15" fill="none" stroke-dasharray="1.1 1.0"/><path d="M463.2 157.9L465.6 155.5L468.0 157.9" stroke="#00B050" stroke-width="1.5" fill="none" stroke-linejoin="round"/>
<path d="M320.1 168.7V178.8" stroke="#FF0000" stroke-width="1.5" fill="none"/><path d="M317.7 171.0L320.1 168.6L322.5 171.0" stroke="#FF0000" stroke-width="1.5" fill="none" stroke-linejoin="round"/>
<path d="M323.6 168.1V178.2" stroke="#FFC000" stroke-width="1.5" fill="none"/><path d="M321.2 175.9L323.6 178.3L326.0 175.9" stroke="#FFC000" stroke-width="1.5" fill="none" stroke-linejoin="round"/>
<path d="M328.9 168.1V178.2" stroke="#EE959D" stroke-width="0.85" fill="none" stroke-dasharray="1.1 1.0"/><path d="M326.5 175.9L328.9 178.3L331.3 175.9" stroke="#EE959D" stroke-width="1.05" fill="none" stroke-linejoin="round"/>
<path d="M347.2 168.1V178.2" stroke="#EE959D" stroke-width="0.85" fill="none" stroke-dasharray="1.1 1.0"/><path d="M344.8 175.9L347.2 178.3L349.6 175.9" stroke="#EE959D" stroke-width="1.05" fill="none" stroke-linejoin="round"/>
<path d="M366.3 170.1V178.8" stroke="#EE959D" stroke-width="0.85" fill="none" stroke-dasharray="1.1 1.0"/><circle cx="366.3" cy="170.8" r="2.7" fill="#EE959D"/>
<path d="M380.0 168.7V178.8" stroke="#FFC000" stroke-width="1.5" fill="none"/><path d="M377.6 171.0L380.0 168.6L382.4 171.0" stroke="#FFC000" stroke-width="1.5" fill="none" stroke-linejoin="round"/>
<path d="M402.7 168.1V178.2" stroke="#0070C0" stroke-width="1.5" fill="none"/><path d="M400.3 175.9L402.7 178.3L405.1 175.9" stroke="#0070C0" stroke-width="1.5" fill="none" stroke-linejoin="round"/>
<path d="M404.5 170.1V178.8" stroke="#FFC000" stroke-width="1.3" fill="none"/><circle cx="404.5" cy="170.8" r="2.7" fill="#FFC000"/>
<path d="M407.9 168.1V178.2" stroke="#0070C0" stroke-width="1.5" fill="none"/><path d="M405.5 175.9L407.9 178.3L410.3 175.9" stroke="#0070C0" stroke-width="1.5" fill="none" stroke-linejoin="round"/>
<path d="M409.4 170.1V178.8" stroke="#EE959D" stroke-width="1.0" fill="none"/><circle cx="409.4" cy="170.8" r="2.7" fill="#EE959D"/>
<path d="M427.0 168.7V178.8" stroke="#FFC000" stroke-width="1.5" fill="none"/><path d="M424.6 171.0L427.0 168.6L429.4 171.0" stroke="#FFC000" stroke-width="1.5" fill="none" stroke-linejoin="round"/>
<path d="M463.4 168.7V178.8" stroke="#FFC000" stroke-width="1.5" fill="none"/><path d="M461.0 171.0L463.4 168.6L465.8 171.0" stroke="#FFC000" stroke-width="1.5" fill="none" stroke-linejoin="round"/>
<path d="M326.6 181.9V192.0" stroke="#FF0000" stroke-width="1.5" fill="none"/><path d="M324.2 184.2L326.6 181.8L329.0 184.2" stroke="#FF0000" stroke-width="1.5" fill="none" stroke-linejoin="round"/>
<path d="M335.1 181.3V191.4" stroke="#EE959D" stroke-width="0.85" fill="none" stroke-dasharray="1.1 1.0"/><path d="M332.7 189.1L335.1 191.5L337.5 189.1" stroke="#EE959D" stroke-width="1.05" fill="none" stroke-linejoin="round"/>
<path d="M348.1 181.3V191.4" stroke="#EE959D" stroke-width="1.0" fill="none"/><path d="M345.7 189.1L348.1 191.5L350.5 189.1" stroke="#EE959D" stroke-width="1.05" fill="none" stroke-linejoin="round"/>
<path d="M364.3 182.3V191.4" stroke="#EE959D" stroke-width="1.0" fill="none"/><path d="M361.4 183.7Q361.7 181.3 364.3 181.3Q366.9 181.3 367.2 183.7Z" fill="#EE959D"/><path d="M361.9 189.1L364.3 191.5L366.7 189.1" stroke="#EE959D" stroke-width="1.05" fill="none" stroke-linejoin="round"/>
<path d="M385.2 181.3V191.4" stroke="#FF0000" stroke-width="1.15" fill="none" stroke-dasharray="1.1 1.0"/><path d="M382.8 189.1L385.2 191.5L387.6 189.1" stroke="#FF0000" stroke-width="1.5" fill="none" stroke-linejoin="round"/>
<path d="M388.4 181.9V192.0" stroke="#00B050" stroke-width="1.15" fill="none" stroke-dasharray="1.1 1.0"/><path d="M386.0 184.2L388.4 181.8L390.8 184.2" stroke="#00B050" stroke-width="1.5" fill="none" stroke-linejoin="round"/>
<path d="M393.2 181.9V192.0" stroke="#00B050" stroke-width="1.15" fill="none" stroke-dasharray="1.1 1.0"/><path d="M390.8 184.2L393.2 181.8L395.6 184.2" stroke="#00B050" stroke-width="1.5" fill="none" stroke-linejoin="round"/>
<path d="M401.3 181.9V192.0" stroke="#FFC000" stroke-width="1.5" fill="none"/><path d="M398.9 184.2L401.3 181.8L403.7 184.2" stroke="#FFC000" stroke-width="1.5" fill="none" stroke-linejoin="round"/>
<path d="M409.4 181.3V191.4" stroke="#EE959D" stroke-width="0.85" fill="none" stroke-dasharray="1.1 1.0"/><path d="M407.0 189.1L409.4 191.5L411.8 189.1" stroke="#EE959D" stroke-width="1.05" fill="none" stroke-linejoin="round"/>
<path d="M416.7 181.3V191.4" stroke="#0070C0" stroke-width="1.5" fill="none"/><path d="M414.3 189.1L416.7 191.5L419.1 189.1" stroke="#0070C0" stroke-width="1.5" fill="none" stroke-linejoin="round"/>
<path d="M430.7 181.3V191.4" stroke="#EE959D" stroke-width="1.0" fill="none"/><path d="M428.3 189.1L430.7 191.5L433.1 189.1" stroke="#EE959D" stroke-width="1.05" fill="none" stroke-linejoin="round"/>
<path d="M437.8 183.3V192.0" stroke="#0070C0" stroke-width="1.1" fill="none" stroke-dasharray="1.1 1.0"/><circle cx="437.8" cy="184.0" r="2.7" fill="#0070C0"/>
<path d="M439.9 183.3V192.0" stroke="#FFC000" stroke-width="1.3" fill="none"/><circle cx="439.9" cy="184.0" r="2.7" fill="#FFC000"/>
<path d="M447.7 183.3V192.0" stroke="#FFC000" stroke-width="1.3" fill="none"/><circle cx="447.7" cy="184.0" r="2.7" fill="#FFC000"/>
<path d="M452.1 183.3V192.0" stroke="#FFC000" stroke-width="1.3" fill="none"/><circle cx="452.1" cy="184.0" r="2.7" fill="#FFC000"/>
<path d="M456.5 181.3V191.4" stroke="#EE959D" stroke-width="1.0" fill="none"/><path d="M454.1 189.1L456.5 191.5L458.9 189.1" stroke="#EE959D" stroke-width="1.05" fill="none" stroke-linejoin="round"/>
<path d="M460.5 181.3V191.4" stroke="#EE959D" stroke-width="1.0" fill="none"/><path d="M458.1 189.1L460.5 191.5L462.9 189.1" stroke="#EE959D" stroke-width="1.05" fill="none" stroke-linejoin="round"/>
<rect x="317.4" y="100.3" width="150.1" height="2.3" fill="#000"/>
<rect x="317.4" y="113.3" width="150.1" height="2.3" fill="#000"/>
<rect x="317.4" y="126.8" width="150.1" height="2.3" fill="#000"/>
<rect x="317.4" y="140.0" width="150.1" height="2.3" fill="#000"/>
<rect x="317.4" y="152.7" width="150.1" height="2.3" fill="#000"/>
<rect x="317.4" y="165.3" width="150.1" height="2.3" fill="#000"/>
<rect x="317.4" y="178.4" width="150.1" height="2.3" fill="#000"/>
<rect x="317.4" y="191.7" width="150.1" height="2.3" fill="#000"/>
<text class="g" x="487.8" y="163.3" textLength="25.9" lengthAdjust="spacingAndGlyphs">MDR</text>
<rect x="277.9" y="220" width="3.4" height="49.4" fill="#000"/>
<rect x="276.4" y="218.8" width="7.2" height="53.8" fill="none" stroke="#dcdcdc" stroke-width="0.6"/>
<text class="l" x="286.6" y="228.7" textLength="22.2" lengthAdjust="spacingAndGlyphs">ABC19</text>
<text class="l" x="286.6" y="241.1" textLength="22.2" lengthAdjust="spacingAndGlyphs">ABC30</text>
<text class="l" x="286.6" y="253.9" textLength="22.2" lengthAdjust="spacingAndGlyphs">ABC40</text>
<text class="l" x="286.6" y="266.7" textLength="22.2" lengthAdjust="spacingAndGlyphs">ABC41</text>
<path d="M338.8 214.5V223.2" stroke="#FFC000" stroke-width="1.1" fill="none" stroke-dasharray="1.1 1.0"/><circle cx="338.8" cy="215.2" r="2.7" fill="#FFC000"/>
<path d="M339.5 212.5V222.6" stroke="#EE959D" stroke-width="0.85" fill="none" stroke-dasharray="1.1 1.0"/><path d="M337.1 220.3L339.5 222.7L341.9 220.3" stroke="#EE959D" stroke-width="1.05" fill="none" stroke-linejoin="round"/>
<path d="M344.7 214.5V223.2" stroke="#FFC000" stroke-width="1.1" fill="none" stroke-dasharray="1.1 1.0"/><circle cx="344.7" cy="215.2" r="2.7" fill="#FFC000"/>
<path d="M349.1 212.5V222.6" stroke="#EE959D" stroke-width="0.85" fill="none" stroke-dasharray="1.1 1.0"/><path d="M346.7 220.3L349.1 222.7L351.5 220.3" stroke="#EE959D" stroke-width="1.05" fill="none" stroke-linejoin="round"/>
<path d="M358.7 212.5V222.6" stroke="#7030A0" stroke-width="1.5" fill="none"/><path d="M356.3 220.3L358.7 222.7L361.1 220.3" stroke="#7030A0" stroke-width="1.5" fill="none" stroke-linejoin="round"/>
<path d="M363.8 212.5V222.6" stroke="#EE959D" stroke-width="0.85" fill="none" stroke-dasharray="1.1 1.0"/><path d="M361.4 220.3L363.8 222.7L366.2 220.3" stroke="#EE959D" stroke-width="1.05" fill="none" stroke-linejoin="round"/>
<path d="M369.3 212.5V222.6" stroke="#FF0000" stroke-width="1.15" fill="none" stroke-dasharray="1.1 1.0"/><path d="M366.9 220.3L369.3 222.7L371.7 220.3" stroke="#FF0000" stroke-width="1.5" fill="none" stroke-linejoin="round"/>
<path d="M394.2 213.1V223.2" stroke="#FFC000" stroke-width="1.5" fill="none"/><path d="M391.8 215.4L394.2 213.0L396.6 215.4" stroke="#FFC000" stroke-width="1.5" fill="none" stroke-linejoin="round"/>
<path d="M402.7 212.5V222.6" stroke="#FF0000" stroke-width="1.15" fill="none" stroke-dasharray="1.1 1.0"/><path d="M400.3 220.3L402.7 222.7L405.1 220.3" stroke="#FF0000" stroke-width="1.5" fill="none" stroke-linejoin="round"/>
<path d="M407.2 214.5V223.2" stroke="#EE959D" stroke-width="1.0" fill="none"/><circle cx="407.2" cy="215.2" r="2.7" fill="#EE959D"/>
<path d="M409.4 213.1V223.2" stroke="#0070C0" stroke-width="1.15" fill="none" stroke-dasharray="1.1 1.0"/><path d="M407.0 215.4L409.4 213.0L411.8 215.4" stroke="#0070C0" stroke-width="1.5" fill="none" stroke-linejoin="round"/>
<path d="M426.0 214.5V223.2" stroke="#EE959D" stroke-width="1.0" fill="none"/><circle cx="426.0" cy="215.2" r="2.7" fill="#EE959D"/>
<path d="M427.8 212.5V222.6" stroke="#EE959D" stroke-width="0.85" fill="none" stroke-dasharray="1.1 1.0"/><path d="M425.4 220.3L427.8 222.7L430.2 220.3" stroke="#EE959D" stroke-width="1.05" fill="none" stroke-linejoin="round"/>
<path d="M431.5 213.1V223.2" stroke="#FFC000" stroke-width="1.5" fill="none"/><path d="M429.1 215.4L431.5 213.0L433.9 215.4" stroke="#FFC000" stroke-width="1.5" fill="none" stroke-linejoin="round"/>
<path d="M434.0 213.1V223.2" stroke="#FFC000" stroke-width="1.5" fill="none"/><path d="M431.6 215.4L434.0 213.0L436.4 215.4" stroke="#FFC000" stroke-width="1.5" fill="none" stroke-linejoin="round"/>
<path d="M442.5 212.5V222.6" stroke="#00B050" stroke-width="1.5" fill="none"/><path d="M440.1 220.3L442.5 222.7L444.9 220.3" stroke="#00B050" stroke-width="1.5" fill="none" stroke-linejoin="round"/>
<path d="M444.0 212.5V222.6" stroke="#0070C0" stroke-width="1.5" fill="none"/><path d="M441.6 220.3L444.0 222.7L446.4 220.3" stroke="#0070C0" stroke-width="1.5" fill="none" stroke-linejoin="round"/>
<path d="M446.9 213.1V223.2" stroke="#FF0000" stroke-width="1.15" fill="none" stroke-dasharray="1.1 1.0"/><path d="M444.5 215.4L446.9 213.0L449.3 215.4" stroke="#FF0000" stroke-width="1.5" fill="none" stroke-linejoin="round"/>
<path d="M451.6 213.1V223.2" stroke="#FFC000" stroke-width="1.5" fill="none"/><path d="M449.2 215.4L451.6 213.0L454.0 215.4" stroke="#FFC000" stroke-width="1.5" fill="none" stroke-linejoin="round"/>
<path d="M460.5 212.5V222.6" stroke="#EE959D" stroke-width="1.0" fill="none"/><path d="M458.1 220.3L460.5 222.7L462.9 220.3" stroke="#EE959D" stroke-width="1.05" fill="none" stroke-linejoin="round"/>
<path d="M323.0 227.6V236.3" stroke="#FFC000" stroke-width="1.1" fill="none" stroke-dasharray="1.1 1.0"/><circle cx="323.0" cy="228.3" r="2.7" fill="#FFC000"/>
<path d="M380.0 225.6V235.7" stroke="#FF0000" stroke-width="1.15" fill="none" stroke-dasharray="1.1 1.0"/><path d="M377.6 233.4L380.0 235.8L382.4 233.4" stroke="#FF0000" stroke-width="1.5" fill="none" stroke-linejoin="round"/>
<path d="M389.2 227.6V236.3" stroke="#FFC000" stroke-width="1.3" fill="none"/><circle cx="389.2" cy="228.3" r="2.7" fill="#FFC000"/>
<path d="M392.4 227.6V236.3" stroke="#FF0000" stroke-width="1.3" fill="none"/><circle cx="392.4" cy="228.3" r="2.7" fill="#FF0000"/>
<path d="M395.4 227.6V236.3" stroke="#EE959D" stroke-width="0.85" fill="none" stroke-dasharray="1.1 1.0"/><circle cx="395.4" cy="228.3" r="2.7" fill="#EE959D"/>
<path d="M397.6 225.6V235.7" stroke="#FF0000" stroke-width="1.15" fill="none" stroke-dasharray="1.1 1.0"/><path d="M395.2 233.4L397.6 235.8L400.0 233.4" stroke="#FF0000" stroke-width="1.5" fill="none" stroke-linejoin="round"/>
<path d="M399.5 227.6V236.3" stroke="#FFC000" stroke-width="1.3" fill="none"/><circle cx="399.5" cy="228.3" r="2.7" fill="#FFC000"/>
<path d="M411.3 225.6V235.7" stroke="#EE959D" stroke-width="0.85" fill="none" stroke-dasharray="1.1 1.0"/><path d="M408.9 233.4L411.3 235.8L413.7 233.4" stroke="#EE959D" stroke-width="1.05" fill="none" stroke-linejoin="round"/>
<path d="M413.8 225.6V235.7" stroke="#EE959D" stroke-width="0.85" fill="none" stroke-dasharray="1.1 1.0"/><path d="M411.4 233.4L413.8 235.8L416.2 233.4" stroke="#EE959D" stroke-width="1.05" fill="none" stroke-linejoin="round"/>
<path d="M421.6 226.2V236.3" stroke="#00B050" stroke-width="1.15" fill="none" stroke-dasharray="1.1 1.0"/><path d="M419.2 228.5L421.6 226.1L424.0 228.5" stroke="#00B050" stroke-width="1.5" fill="none" stroke-linejoin="round"/>
<path d="M426.6 226.2V236.3" stroke="#7030A0" stroke-width="1.15" fill="none" stroke-dasharray="1.1 1.0"/><path d="M424.2 228.5L426.6 226.1L429.0 228.5" stroke="#7030A0" stroke-width="1.5" fill="none" stroke-linejoin="round"/>
<path d="M434.9 226.2V236.3" stroke="#EE959D" stroke-width="0.85" fill="none" stroke-dasharray="1.1 1.0"/><path d="M432.5 228.5L434.9 226.1L437.3 228.5" stroke="#EE959D" stroke-width="1.05" fill="none" stroke-linejoin="round"/>
<path d="M438.8 226.2V236.3" stroke="#FF0000" stroke-width="1.5" fill="none"/><path d="M436.4 228.5L438.8 226.1L441.2 228.5" stroke="#FF0000" stroke-width="1.5" fill="none" stroke-linejoin="round"/>
<path d="M442.2 226.2V236.3" stroke="#FF0000" stroke-width="1.5" fill="none"/><path d="M439.8 228.5L442.2 226.1L444.6 228.5" stroke="#FF0000" stroke-width="1.5" fill="none" stroke-linejoin="round"/>
<path d="M325.5 239.0V249.1" stroke="#FF0000" stroke-width="1.15" fill="none" stroke-dasharray="1.1 1.0"/><path d="M323.1 246.8L325.5 249.2L327.9 246.8" stroke="#FF0000" stroke-width="1.5" fill="none" stroke-linejoin="round"/>
<path d="M330.4 239.0V249.1" stroke="#EE959D" stroke-width="0.85" fill="none" stroke-dasharray="1.1 1.0"/><path d="M328.0 246.8L330.4 249.2L332.8 246.8" stroke="#EE959D" stroke-width="1.05" fill="none" stroke-linejoin="round"/>
<path d="M336.6 239.0V249.1" stroke="#EE959D" stroke-width="0.85" fill="none" stroke-dasharray="1.1 1.0"/><path d="M334.2 246.8L336.6 249.2L339.0 246.8" stroke="#EE959D" stroke-width="1.05" fill="none" stroke-linejoin="round"/>
<path d="M363.1 239.6V249.7" stroke="#FFC000" stroke-width="1.5" fill="none"/><path d="M360.7 241.9L363.1 239.5L365.5 241.9" stroke="#FFC000" stroke-width="1.5" fill="none" stroke-linejoin="round"/>
<path d="M364.3 239.6V249.7" stroke="#FF0000" stroke-width="1.5" fill="none"/><path d="M361.9 241.9L364.3 239.5L366.7 241.9" stroke="#FF0000" stroke-width="1.5" fill="none" stroke-linejoin="round"/>
<path d="M380.0 239.0V249.1" stroke="#EE959D" stroke-width="0.85" fill="none" stroke-dasharray="1.1 1.0"/><path d="M377.6 246.8L380.0 249.2L382.4 246.8" stroke="#EE959D" stroke-width="1.05" fill="none" stroke-linejoin="round"/>
<path d="M388.3 239.6V249.7" stroke="#FF0000" stroke-width="1.5" fill="none"/><path d="M385.9 241.9L388.3 239.5L390.7 241.9" stroke="#FF0000" stroke-width="1.5" fill="none" stroke-linejoin="round"/>
<path d="M395.7 239.6V249.7" stroke="#FF0000" stroke-width="1.5" fill="none"/><path d="M393.3 241.9L395.7 239.5L398.1 241.9" stroke="#FF0000" stroke-width="1.5" fill="none" stroke-linejoin="round"/>
<path d="M415.3 239.0V249.1" stroke="#EE959D" stroke-width="0.85" fill="none" stroke-dasharray="1.1 1.0"/><path d="M412.9 246.8L415.3 249.2L417.7 246.8" stroke="#EE959D" stroke-width="1.05" fill="none" stroke-linejoin="round"/>
<path d="M437.4 239.0V249.1" stroke="#FF0000" stroke-width="1.15" fill="none" stroke-dasharray="1.1 1.0"/><path d="M435.0 246.8L437.4 249.2L439.8 246.8" stroke="#FF0000" stroke-width="1.5" fill="none" stroke-linejoin="round"/>
<path d="M444.0 239.0V249.1" stroke="#EE959D" stroke-width="0.85" fill="none" stroke-dasharray="1.1 1.0"/><path d="M441.6 246.8L444.0 249.2L446.4 246.8" stroke="#EE959D" stroke-width="1.05" fill="none" stroke-linejoin="round"/>
<path d="M448.1 239.0V249.1" stroke="#FFC000" stroke-width="1.5" fill="none"/><path d="M445.7 246.8L448.1 249.2L450.5 246.8" stroke="#FFC000" stroke-width="1.5" fill="none" stroke-linejoin="round"/>
<path d="M450.6 239.0V249.1" stroke="#FF0000" stroke-width="1.15" fill="none" stroke-dasharray="1.1 1.0"/><path d="M448.2 246.8L450.6 249.2L453.0 246.8" stroke="#FF0000" stroke-width="1.5" fill="none" stroke-linejoin="round"/>
<path d="M461.4 239.0V249.1" stroke="#EE959D" stroke-width="0.85" fill="none" stroke-dasharray="1.1 1.0"/><path d="M459.0 246.8L461.4 249.2L463.8 246.8" stroke="#EE959D" stroke-width="1.05" fill="none" stroke-linejoin="round"/>
<path d="M465.6 239.0V249.1" stroke="#FFC000" stroke-width="1.5" fill="none"/><path d="M463.2 246.8L465.6 249.2L468.0 246.8" stroke="#FFC000" stroke-width="1.5" fill="none" stroke-linejoin="round"/>
<path d="M320.7 252.5V262.6" stroke="#7030A0" stroke-width="1.5" fill="none"/><path d="M318.3 260.3L320.7 262.7L323.1 260.3" stroke="#7030A0" stroke-width="1.5" fill="none" stroke-linejoin="round"/>
<path d="M325.5 252.5V262.6" stroke="#7030A0" stroke-width="1.5" fill="none"/><path d="M323.1 260.3L325.5 262.7L327.9 260.3" stroke="#7030A0" stroke-width="1.5" fill="none" stroke-linejoin="round"/>
<path d="M331.4 252.5V262.6" stroke="#EE959D" stroke-width="0.85" fill="none" stroke-dasharray="1.1 1.0"/><path d="M329.0 260.3L331.4 262.7L333.8 260.3" stroke="#EE959D" stroke-width="1.05" fill="none" stroke-linejoin="round"/>
<path d="M333.3 252.5V262.6" stroke="#EE959D" stroke-width="0.85" fill="none" stroke-dasharray="1.1 1.0"/><path d="M330.9 260.3L333.3 262.7L335.7 260.3" stroke="#EE959D" stroke-width="1.05" fill="none" stroke-linejoin="round"/>
<path d="M337.3 253.1V263.2" stroke="#0070C0" stroke-width="1.5" fill="none"/><path d="M334.9 255.4L337.3 253.0L339.7 255.4" stroke="#0070C0" stroke-width="1.5" fill="none" stroke-linejoin="round"/>
<path d="M341.7 253.1V263.2" stroke="#FFC000" stroke-width="1.5" fill="none"/><path d="M339.3 255.4L341.7 253.0L344.1 255.4" stroke="#FFC000" stroke-width="1.5" fill="none" stroke-linejoin="round"/>
<path d="M343.5 253.1V263.2" stroke="#00B050" stroke-width="1.5" fill="none"/><path d="M341.1 255.4L343.5 253.0L345.9 255.4" stroke="#00B050" stroke-width="1.5" fill="none" stroke-linejoin="round"/>
<path d="M347.6 253.1V263.2" stroke="#FFC000" stroke-width="1.5" fill="none"/><path d="M345.2 255.4L347.6 253.0L350.0 255.4" stroke="#FFC000" stroke-width="1.5" fill="none" stroke-linejoin="round"/>
<path d="M353.1 252.5V262.6" stroke="#7030A0" stroke-width="1.15" fill="none" stroke-dasharray="1.1 1.0"/><path d="M350.7 260.3L353.1 262.7L355.5 260.3" stroke="#7030A0" stroke-width="1.5" fill="none" stroke-linejoin="round"/>
<path d="M353.6 252.5V262.6" stroke="#EE959D" stroke-width="0.85" fill="none" stroke-dasharray="1.1 1.0"/><path d="M351.2 260.3L353.6 262.7L356.0 260.3" stroke="#EE959D" stroke-width="1.05" fill="none" stroke-linejoin="round"/>
<path d="M355.0 253.1V263.2" stroke="#EE959D" stroke-width="0.85" fill="none" stroke-dasharray="1.1 1.0"/><path d="M352.6 255.4L355.0 253.0L357.4 255.4" stroke="#EE959D" stroke-width="1.05" fill="none" stroke-linejoin="round"/>
<path d="M360.9 253.1V263.2" stroke="#FF0000" stroke-width="1.5" fill="none"/><path d="M358.5 255.4L360.9 253.0L363.3 255.4" stroke="#FF0000" stroke-width="1.5" fill="none" stroke-linejoin="round"/>
<path d="M380.8 254.5V263.2" stroke="#EE959D" stroke-width="1.0" fill="none"/><circle cx="380.8" cy="255.2" r="2.7" fill="#EE959D"/>
<path d="M389.4 252.5V262.6" stroke="#00B050" stroke-width="1.5" fill="none"/><path d="M387.0 260.3L389.4 262.7L391.8 260.3" stroke="#00B050" stroke-width="1.5" fill="none" stroke-linejoin="round"/>
<path d="M393.9 252.5V262.6" stroke="#EE959D" stroke-width="0.85" fill="none" stroke-dasharray="1.1 1.0"/><path d="M391.5 260.3L393.9 262.7L396.3 260.3" stroke="#EE959D" stroke-width="1.05" fill="none" stroke-linejoin="round"/>
<path d="M399.8 252.5V262.6" stroke="#00B050" stroke-width="1.5" fill="none"/><path d="M397.4 260.3L399.8 262.7L402.2 260.3" stroke="#00B050" stroke-width="1.5" fill="none" stroke-linejoin="round"/>
<path d="M408.3 254.5V263.2" stroke="#FFC000" stroke-width="1.3" fill="none"/><circle cx="408.3" cy="255.2" r="2.7" fill="#FFC000"/>
<path d="M410.8 253.1V263.2" stroke="#0070C0" stroke-width="1.5" fill="none"/><path d="M408.4 255.4L410.8 253.0L413.2 255.4" stroke="#0070C0" stroke-width="1.5" fill="none" stroke-linejoin="round"/>
<path d="M415.7 252.5V262.6" stroke="#EE959D" stroke-width="0.85" fill="none" stroke-dasharray="1.1 1.0"/><path d="M413.3 260.3L415.7 262.7L418.1 260.3" stroke="#EE959D" stroke-width="1.05" fill="none" stroke-linejoin="round"/>
<path d="M441.8 252.5V262.6" stroke="#EE959D" stroke-width="0.85" fill="none" stroke-dasharray="1.1 1.0"/><path d="M439.4 260.3L441.8 262.7L444.2 260.3" stroke="#EE959D" stroke-width="1.05" fill="none" stroke-linejoin="round"/>
<path d="M451.6 253.1V263.2" stroke="#00B050" stroke-width="1.5" fill="none"/><path d="M449.2 255.4L451.6 253.0L454.0 255.4" stroke="#00B050" stroke-width="1.5" fill="none" stroke-linejoin="round"/>
<path d="M453.6 253.1V263.2" stroke="#FF0000" stroke-width="1.5" fill="none"/><path d="M451.2 255.4L453.6 253.0L456.0 255.4" stroke="#FF0000" stroke-width="1.5" fill="none" stroke-linejoin="round"/>
<rect x="317.5" y="222.8" width="150.3" height="2.3" fill="#000"/>
<rect x="317.5" y="235.9" width="150.3" height="2.3" fill="#000"/>
<rect x="317.5" y="249.3" width="150.3" height="2.3" fill="#000"/>
<rect x="317.5" y="262.9" width="150.3" height="2.3" fill="#000"/>
<text class="g" x="486.1" y="239.4" textLength="33.8" lengthAdjust="spacingAndGlyphs">Protein</text>
<text class="g" x="486.1" y="254.9" textLength="26" lengthAdjust="spacingAndGlyphs">white</text>
<rect x="277.9" y="288.2" width="3.4" height="24.6" fill="#000"/>
<rect x="276.4" y="287.0" width="7.2" height="29.0" fill="none" stroke="#dcdcdc" stroke-width="0.6"/>
<text class="l" x="286.6" y="299.7" textLength="22.2" lengthAdjust="spacingAndGlyphs">ABC02</text>
<text class="l" x="286.6" y="312.2" textLength="22.2" lengthAdjust="spacingAndGlyphs">ABC03</text>
<path d="M318.2 284.8V294.9" stroke="#FF0000" stroke-width="1.5" fill="none"/><path d="M315.8 287.1L318.2 284.7L320.6 287.1" stroke="#FF0000" stroke-width="1.5" fill="none" stroke-linejoin="round"/>
<path d="M327.0 284.2V294.3" stroke="#EE959D" stroke-width="0.85" fill="none" stroke-dasharray="1.1 1.0"/><path d="M324.6 292.0L327.0 294.4L329.4 292.0" stroke="#EE959D" stroke-width="1.05" fill="none" stroke-linejoin="round"/>
<path d="M335.8 284.2V294.3" stroke="#FF0000" stroke-width="1.15" fill="none" stroke-dasharray="1.1 1.0"/><path d="M333.4 292.0L335.8 294.4L338.2 292.0" stroke="#FF0000" stroke-width="1.5" fill="none" stroke-linejoin="round"/>
<path d="M339.5 284.8V294.9" stroke="#FF0000" stroke-width="1.5" fill="none"/><path d="M337.1 287.1L339.5 284.7L341.9 287.1" stroke="#FF0000" stroke-width="1.5" fill="none" stroke-linejoin="round"/>
<path d="M363.8 284.2V294.3" stroke="#EE959D" stroke-width="1.0" fill="none"/><path d="M361.4 292.0L363.8 294.4L366.2 292.0" stroke="#EE959D" stroke-width="1.05" fill="none" stroke-linejoin="round"/>
<path d="M405.4 284.2V294.3" stroke="#EE959D" stroke-width="0.85" fill="none" stroke-dasharray="1.1 1.0"/><path d="M403.0 292.0L405.4 294.4L407.8 292.0" stroke="#EE959D" stroke-width="1.05" fill="none" stroke-linejoin="round"/>
<path d="M410.1 284.2V294.3" stroke="#FF0000" stroke-width="1.15" fill="none" stroke-dasharray="1.1 1.0"/><path d="M407.7 292.0L410.1 294.4L412.5 292.0" stroke="#FF0000" stroke-width="1.5" fill="none" stroke-linejoin="round"/>
<path d="M413.8 284.2V294.3" stroke="#FFC000" stroke-width="1.15" fill="none" stroke-dasharray="1.1 1.0"/><path d="M411.4 292.0L413.8 294.4L416.2 292.0" stroke="#FFC000" stroke-width="1.5" fill="none" stroke-linejoin="round"/>
<path d="M414.6 284.2V294.3" stroke="#FFC000" stroke-width="1.15" fill="none" stroke-dasharray="1.1 1.0"/><path d="M412.2 292.0L414.6 294.4L417.0 292.0" stroke="#FFC000" stroke-width="1.5" fill="none" stroke-linejoin="round"/>
<path d="M442.8 286.2V294.9" stroke="#00B050" stroke-width="1.1" fill="none" stroke-dasharray="1.1 1.0"/><circle cx="442.8" cy="286.9" r="2.7" fill="#00B050"/>
<path d="M460.2 286.2V294.9" stroke="#EE959D" stroke-width="1.0" fill="none"/><circle cx="460.2" cy="286.9" r="2.7" fill="#EE959D"/>
<path d="M328.5 300.2V308.9" stroke="#FFC000" stroke-width="1.1" fill="none" stroke-dasharray="1.1 1.0"/><circle cx="328.5" cy="300.9" r="2.7" fill="#FFC000"/>
<path d="M338.3 298.2V308.3" stroke="#FF0000" stroke-width="1.5" fill="none"/><path d="M335.9 306.0L338.3 308.4L340.7 306.0" stroke="#FF0000" stroke-width="1.5" fill="none" stroke-linejoin="round"/>
<path d="M346.6 300.2V308.9" stroke="#EE959D" stroke-width="0.85" fill="none" stroke-dasharray="1.1 1.0"/><circle cx="346.6" cy="300.9" r="2.7" fill="#EE959D"/>
<path d="M365.3 300.2V308.9" stroke="#EE959D" stroke-width="0.85" fill="none" stroke-dasharray="1.1 1.0"/><circle cx="365.3" cy="300.9" r="2.7" fill="#EE959D"/>
<path d="M389.3 298.8V308.9" stroke="#FFC000" stroke-width="1.5" fill="none"/><path d="M386.9 301.1L389.3 298.7L391.7 301.1" stroke="#FFC000" stroke-width="1.5" fill="none" stroke-linejoin="round"/>
<path d="M392.2 298.8V308.9" stroke="#0070C0" stroke-width="1.5" fill="none"/><path d="M389.8 301.1L392.2 298.7L394.6 301.1" stroke="#0070C0" stroke-width="1.5" fill="none" stroke-linejoin="round"/>
<path d="M395.7 298.8V308.9" stroke="#FF0000" stroke-width="1.5" fill="none"/><path d="M393.3 301.1L395.7 298.7L398.1 301.1" stroke="#FF0000" stroke-width="1.5" fill="none" stroke-linejoin="round"/>
<path d="M399.8 300.2V308.9" stroke="#FFC000" stroke-width="1.3" fill="none"/><circle cx="399.8" cy="300.9" r="2.7" fill="#FFC000"/>
<path d="M406.4 300.2V308.9" stroke="#FFC000" stroke-width="1.1" fill="none" stroke-dasharray="1.1 1.0"/><circle cx="406.4" cy="300.9" r="2.7" fill="#FFC000"/>
<path d="M411.6 300.2V308.9" stroke="#EE959D" stroke-width="0.85" fill="none" stroke-dasharray="1.1 1.0"/><circle cx="411.6" cy="300.9" r="2.7" fill="#EE959D"/>
<path d="M432.2 300.2V308.9" stroke="#FFC000" stroke-width="1.1" fill="none" stroke-dasharray="1.1 1.0"/><circle cx="432.2" cy="300.9" r="2.7" fill="#FFC000"/>
<path d="M439.6 298.8V308.9" stroke="#FFC000" stroke-width="1.5" fill="none"/><path d="M437.2 301.1L439.6 298.7L442.0 301.1" stroke="#FFC000" stroke-width="1.5" fill="none" stroke-linejoin="round"/>
<path d="M446.9 298.2V308.3" stroke="#FF0000" stroke-width="1.15" fill="none" stroke-dasharray="1.1 1.0"/><path d="M444.5 306.0L446.9 308.4L449.3 306.0" stroke="#FF0000" stroke-width="1.5" fill="none" stroke-linejoin="round"/>
<path d="M459.0 300.2V308.9" stroke="#FFC000" stroke-width="1.1" fill="none" stroke-dasharray="1.1 1.0"/><circle cx="459.0" cy="300.9" r="2.7" fill="#FFC000"/>
<rect x="317.5" y="294.6" width="150.3" height="2.3" fill="#000"/>
<rect x="317.5" y="308.6" width="150.3" height="2.3" fill="#000"/>
<text class="g" x="485.9" y="301.6" textLength="52.7" lengthAdjust="spacingAndGlyphs">rim protein</text>
<rect x="278.5" y="345.2" width="3.4" height="11.4" fill="#000"/>
<rect x="277.0" y="344.0" width="7.2" height="15.8" fill="none" stroke="#dcdcdc" stroke-width="0.6"/>
<text class="l" x="286.7" y="354.3" textLength="22.2" lengthAdjust="spacingAndGlyphs">ABC37</text>
<path d="M318.3 339.5V349.6" stroke="#EE959D" stroke-width="0.85" fill="none" stroke-dasharray="1.1 1.0"/><path d="M315.9 347.3L318.3 349.7L320.7 347.3" stroke="#EE959D" stroke-width="1.05" fill="none" stroke-linejoin="round"/>
<path d="M327.7 340.1V350.2" stroke="#FFC000" stroke-width="1.5" fill="none"/><path d="M325.3 342.4L327.7 340.0L330.1 342.4" stroke="#FFC000" stroke-width="1.5" fill="none" stroke-linejoin="round"/>
<path d="M331.3 340.1V350.2" stroke="#EE959D" stroke-width="0.85" fill="none" stroke-dasharray="1.1 1.0"/><path d="M328.9 342.4L331.3 340.0L333.7 342.4" stroke="#EE959D" stroke-width="1.05" fill="none" stroke-linejoin="round"/>
<path d="M334.2 339.5V349.6" stroke="#EE959D" stroke-width="0.85" fill="none" stroke-dasharray="1.1 1.0"/><path d="M331.8 347.3L334.2 349.7L336.6 347.3" stroke="#EE959D" stroke-width="1.05" fill="none" stroke-linejoin="round"/>
<path d="M340.1 339.5V349.6" stroke="#EE959D" stroke-width="0.85" fill="none" stroke-dasharray="1.1 1.0"/><path d="M337.7 347.3L340.1 349.7L342.5 347.3" stroke="#EE959D" stroke-width="1.05" fill="none" stroke-linejoin="round"/>
<path d="M383.1 340.5V349.6" stroke="#0070C0" stroke-width="1.5" fill="none"/><path d="M380.2 341.9Q380.5 339.5 383.1 339.5Q385.7 339.5 386.0 341.9Z" fill="#0070C0"/><path d="M380.7 347.3L383.1 349.7L385.5 347.3" stroke="#0070C0" stroke-width="1.5" fill="none" stroke-linejoin="round"/>
<path d="M390.2 341.5V350.2" stroke="#FFC000" stroke-width="1.3" fill="none"/><circle cx="390.2" cy="342.2" r="2.7" fill="#FFC000"/>
<path d="M392.0 339.5V349.6" stroke="#FFC000" stroke-width="1.5" fill="none"/><path d="M389.6 347.3L392.0 349.7L394.4 347.3" stroke="#FFC000" stroke-width="1.5" fill="none" stroke-linejoin="round"/>
<path d="M394.0 341.5V350.2" stroke="#FFC000" stroke-width="1.3" fill="none"/><circle cx="394.0" cy="342.2" r="2.7" fill="#FFC000"/>
<path d="M398.4 339.5V349.6" stroke="#FF0000" stroke-width="1.5" fill="none"/><path d="M396.0 347.3L398.4 349.7L400.8 347.3" stroke="#FF0000" stroke-width="1.5" fill="none" stroke-linejoin="round"/>
<path d="M410.8 340.1V350.2" stroke="#7030A0" stroke-width="1.15" fill="none" stroke-dasharray="1.1 1.0"/><path d="M408.4 342.4L410.8 340.0L413.2 342.4" stroke="#7030A0" stroke-width="1.5" fill="none" stroke-linejoin="round"/>
<path d="M425.6 341.5V350.2" stroke="#FFC000" stroke-width="1.1" fill="none" stroke-dasharray="1.1 1.0"/><circle cx="425.6" cy="342.2" r="2.7" fill="#FFC000"/>
<path d="M446.2 341.5V350.2" stroke="#FFC000" stroke-width="1.1" fill="none" stroke-dasharray="1.1 1.0"/><circle cx="446.2" cy="342.2" r="2.7" fill="#FFC000"/>
<path d="M458.8 341.5V350.2" stroke="#FFC000" stroke-width="1.1" fill="none" stroke-dasharray="1.1 1.0"/><circle cx="458.8" cy="342.2" r="2.7" fill="#FFC000"/>
<path d="M465.3 340.1V350.2" stroke="#FF0000" stroke-width="1.5" fill="none"/><path d="M462.9 342.4L465.3 340.0L467.7 342.4" stroke="#FF0000" stroke-width="1.5" fill="none" stroke-linejoin="round"/>
<rect x="317.6" y="349.9" width="150.2" height="2.3" fill="#000"/>
<text class="g" x="486.9" y="348.8" textLength="33.6" lengthAdjust="spacingAndGlyphs">3a0123</text>
<path d="M53.6 403.5V419.9" stroke="#FFC000" stroke-width="1.5" fill="none"/><path d="M49.9 416.5L53.6 420.09999999999997L57.300000000000004 416.5" stroke="#FFC000" stroke-width="1.6" fill="none" stroke-linecap="round"/>
<text class="k" x="60.6" y="417.0" textLength="31.7" lengthAdjust="spacingAndGlyphs">:ABF1;</text>
<path d="M97.7 403.5V419.9" stroke="#FF0000" stroke-width="1.5" fill="none"/><path d="M94.0 416.5L97.7 420.09999999999997L101.4 416.5" stroke="#FF0000" stroke-width="1.6" fill="none" stroke-linecap="round"/>
<text class="k" x="103.8" y="417.0" textLength="31.9" lengthAdjust="spacingAndGlyphs">:ACE2;</text>
<path d="M142.5 403.5V419.9" stroke="#FF0000" stroke-width="1.5" fill="none" stroke-dasharray="1.6 1.3"/><path d="M138.8 416.5L142.5 420.09999999999997L146.2 416.5" stroke="#FF0000" stroke-width="1.6" fill="none" stroke-linecap="round"/>
<text class="k" x="148" y="417.0" textLength="33.5" lengthAdjust="spacingAndGlyphs">:ADR1;</text>
<path d="M187.3 403.5V419.9" stroke="#00B050" stroke-width="1.5" fill="none"/><path d="M183.60000000000002 416.5L187.3 420.09999999999997L191.0 416.5" stroke="#00B050" stroke-width="1.6" fill="none" stroke-linecap="round"/>
<text class="k" x="192.9" y="417.0" textLength="31.9" lengthAdjust="spacingAndGlyphs">: AP-1;</text>
<path d="M230.1 403.5V419.9" stroke="#0070C0" stroke-width="1.5" fill="none"/><path d="M226.4 416.5L230.1 420.09999999999997L233.79999999999998 416.5" stroke="#0070C0" stroke-width="1.6" fill="none" stroke-linecap="round"/>
<text class="k" x="235.2" y="417.0" textLength="29.1" lengthAdjust="spacingAndGlyphs">: ATF;</text>
<path d="M270.2 403.5V419.9" stroke="#7030A0" stroke-width="1.5" fill="none"/><path d="M266.5 416.5L270.2 420.09999999999997L273.9 416.5" stroke="#7030A0" stroke-width="1.6" fill="none" stroke-linecap="round"/>
<text class="k" x="275.7" y="417.0" textLength="34.4" lengthAdjust="spacingAndGlyphs">: BAS2;</text>
<path d="M315.6 403.5V419.9" stroke="#FFC000" stroke-width="1.5" fill="none" stroke-dasharray="1.6 1.3"/><path d="M311.90000000000003 416.5L315.6 420.09999999999997L319.3 416.5" stroke="#FFC000" stroke-width="1.6" fill="none" stroke-linecap="round"/>
<text class="k" x="321.2" y="417.0" textLength="36.6" lengthAdjust="spacingAndGlyphs">: CuRE;</text>
<path d="M364.2 403.5V419.9" stroke="#00B050" stroke-width="1.5" fill="none" stroke-dasharray="1.6 1.3"/><path d="M360.5 416.5L364.2 420.09999999999997L367.9 416.5" stroke="#00B050" stroke-width="1.6" fill="none" stroke-linecap="round"/>
<text class="k" x="369.9" y="417.0" textLength="28.4" lengthAdjust="spacingAndGlyphs">: DR1;</text>
<path d="M405.2 403.5V419.9" stroke="#0070C0" stroke-width="1.5" fill="none" stroke-dasharray="1.6 1.3"/><path d="M401.5 416.5L405.2 420.09999999999997L408.9 416.5" stroke="#0070C0" stroke-width="1.6" fill="none" stroke-linecap="round"/>
<text class="k" x="410.4" y="417.0" textLength="29.5" lengthAdjust="spacingAndGlyphs">: ECB;</text>
<path d="M53.6 435V451.4" stroke="#7030A0" stroke-width="1.5" fill="none" stroke-dasharray="1.6 1.3"/><path d="M49.9 448.0L53.6 451.59999999999997L57.300000000000004 448.0" stroke="#7030A0" stroke-width="1.6" fill="none" stroke-linecap="round"/>
<text class="k" x="60.6" y="448.4" textLength="32.4" lengthAdjust="spacingAndGlyphs">:GAL4;</text>
<path d="M98.8 435V451.4" stroke="#EE959D" stroke-width="1.5" fill="none"/><path d="M95.1 448.0L98.8 451.59999999999997L102.5 448.0" stroke="#EE959D" stroke-width="1.6" fill="none" stroke-linecap="round"/>
<text class="k" x="105.1" y="448.4" textLength="45.3" lengthAdjust="spacingAndGlyphs">:GC/FAR;</text>
<path d="M156.7 435V451.4" stroke="#EE959D" stroke-width="1.5" fill="none" stroke-dasharray="1.6 1.3"/><path d="M153.0 448.0L156.7 451.59999999999997L160.39999999999998 448.0" stroke="#EE959D" stroke-width="1.6" fill="none" stroke-linecap="round"/>
<text class="k" x="162.4" y="448.4" textLength="33.8" lengthAdjust="spacingAndGlyphs">:GCN4;</text>
<path d="M203.6 435.8V452.2" stroke="#FFC000" stroke-width="1.5" fill="none"/><path d="M199.9 439.2L203.6 435.6L207.29999999999998 439.2" stroke="#FFC000" stroke-width="1.6" fill="none" stroke-linecap="round"/>
<text class="k" x="208" y="448.4" textLength="32.8" lengthAdjust="spacingAndGlyphs">:GCR1;</text>
<path d="M247.8 435.8V452.2" stroke="#FFC000" stroke-width="1.5" fill="none" stroke-dasharray="1.6 1.3"/><path d="M244.10000000000002 439.2L247.8 435.6L251.5 439.2" stroke="#FFC000" stroke-width="1.6" fill="none" stroke-linecap="round"/>
<text class="k" x="254.6" y="448.4" textLength="32.0" lengthAdjust="spacingAndGlyphs">:HAP1;</text>
<path d="M292.5 435.8V452.2" stroke="#FF0000" stroke-width="1.5" fill="none"/><path d="M288.8 439.2L292.5 435.6L296.2 439.2" stroke="#FF0000" stroke-width="1.6" fill="none" stroke-linecap="round"/>
<text class="k" x="297.6" y="448.4" textLength="32.3" lengthAdjust="spacingAndGlyphs">:HSTF;</text>
<path d="M336.7 435.8V452.2" stroke="#FF0000" stroke-width="1.5" fill="none" stroke-dasharray="1.6 1.3"/><path d="M333.0 439.2L336.7 435.6L340.4 439.2" stroke="#FF0000" stroke-width="1.6" fill="none" stroke-linecap="round"/>
<text class="k" x="342.7" y="448.4" textLength="32.2" lengthAdjust="spacingAndGlyphs">:LEU3;</text>
<path d="M381.2 435.8V452.2" stroke="#00B050" stroke-width="1.5" fill="none"/><path d="M377.5 439.2L381.2 435.6L384.9 439.2" stroke="#00B050" stroke-width="1.6" fill="none" stroke-linecap="round"/>
<text class="k" x="386.7" y="448.4" textLength="60.4" lengthAdjust="spacingAndGlyphs">:MATalpha2;</text>
<path d="M53.6 464.40000000000003V480.7" stroke="#00B050" stroke-width="1.5" fill="none" stroke-dasharray="1.6 1.3"/><path d="M49.9 467.8L53.6 464.20000000000005L57.300000000000004 467.8" stroke="#00B050" stroke-width="1.6" fill="none" stroke-linecap="round"/>
<text class="k" x="60.6" y="479.1" textLength="32.0" lengthAdjust="spacingAndGlyphs">: MCB;</text>
<path d="M99.6 464.40000000000003V480.7" stroke="#0070C0" stroke-width="1.5" fill="none"/><path d="M95.89999999999999 467.8L99.6 464.20000000000005L103.3 467.8" stroke="#0070C0" stroke-width="1.6" fill="none" stroke-linecap="round"/>
<text class="k" x="105.7" y="479.1" textLength="39.5" lengthAdjust="spacingAndGlyphs">: MCM1;</text>
<path d="M152.1 464.40000000000003V480.7" stroke="#0070C0" stroke-width="1.5" fill="none" stroke-dasharray="1.6 1.3"/><path d="M148.4 467.8L152.1 464.20000000000005L155.79999999999998 467.8" stroke="#0070C0" stroke-width="1.6" fill="none" stroke-linecap="round"/>
<text class="k" x="157.8" y="479.1" textLength="29.6" lengthAdjust="spacingAndGlyphs">: MSE;</text>
<path d="M194.4 464.40000000000003V480.7" stroke="#7030A0" stroke-width="1.5" fill="none"/><path d="M190.70000000000002 467.8L194.4 464.20000000000005L198.1 467.8" stroke="#7030A0" stroke-width="1.6" fill="none" stroke-linecap="round"/>
<text class="k" x="199" y="479.1" textLength="29.3" lengthAdjust="spacingAndGlyphs">: NBF;</text>
<path d="M234.3 464.40000000000003V480.7" stroke="#7030A0" stroke-width="1.5" fill="none" stroke-dasharray="1.6 1.3"/><path d="M230.60000000000002 467.8L234.3 464.20000000000005L238.0 467.8" stroke="#7030A0" stroke-width="1.6" fill="none" stroke-linecap="round"/>
<text class="k" x="239.9" y="479.1" textLength="17.4" lengthAdjust="spacingAndGlyphs">: or;</text>
<path d="M265.5 464.40000000000003V480.7" stroke="#EE959D" stroke-width="1.5" fill="none"/><path d="M261.8 467.8L265.5 464.20000000000005L269.2 467.8" stroke="#EE959D" stroke-width="1.6" fill="none" stroke-linecap="round"/>
<text class="k" x="270.1" y="479.1" textLength="30.4" lengthAdjust="spacingAndGlyphs">: ORC;</text>
<path d="M307.9 464.40000000000003V480.7" stroke="#EE959D" stroke-width="1.5" fill="none" stroke-dasharray="1.6 1.3"/><path d="M304.2 467.8L307.9 464.20000000000005L311.59999999999997 467.8" stroke="#EE959D" stroke-width="1.6" fill="none" stroke-linecap="round"/>
<text class="k" x="313.4" y="479.1" textLength="35.6" lengthAdjust="spacingAndGlyphs">: PHO4;</text>
<path d="M356.9 467.6V480.7" stroke="#FF0000" stroke-width="1.5" fill="none"/><circle cx="356.9" cy="467.6" r="4.2" fill="#FF0000"/>
<text class="k" x="361.2" y="479.1" textLength="33.5" lengthAdjust="spacingAndGlyphs">: PUT3;</text>
<path d="M402.1 467.6V480.7" stroke="#EE959D" stroke-width="1.5" fill="none"/><circle cx="402.1" cy="467.6" r="4.2" fill="#EE959D"/>
<text class="k" x="407.2" y="479.1" textLength="34.5" lengthAdjust="spacingAndGlyphs">: RAP1;</text>
<path d="M53.4 498.3V511.4" stroke="#FFC000" stroke-width="1.5" fill="none"/><circle cx="53.4" cy="498.3" r="4.2" fill="#FFC000"/>
<text class="k" x="60.6" y="509.9" textLength="34.0" lengthAdjust="spacingAndGlyphs">: REB1;</text>
<path d="M100.1 498.3V511.4" stroke="#00B050" stroke-width="1.5" fill="none"/><circle cx="100.1" cy="498.3" r="4.2" fill="#00B050"/>
<text class="k" x="106.9" y="509.9" textLength="94.8" lengthAdjust="spacingAndGlyphs">: Repressor of CAR1;</text>
<path d="M208.5 498.3V511.4" stroke="#7030A0" stroke-width="1.5" fill="none"/><circle cx="208.5" cy="498.3" r="4.2" fill="#7030A0"/>
<text class="k" x="213.5" y="509.9" textLength="36.1" lengthAdjust="spacingAndGlyphs">: ROX1;</text>
<path d="M256 498.3V511.4" stroke="#FF0000" stroke-width="1.5" fill="none" stroke-dasharray="1.6 1.3"/><circle cx="256" cy="498.3" r="4.2" fill="#FF0000"/>
<text class="k" x="262" y="509.9" textLength="28.0" lengthAdjust="spacingAndGlyphs">: SCB;</text>
<path d="M295.9 498.3V511.4" stroke="#EE959D" stroke-width="1.5" fill="none" stroke-dasharray="1.6 1.3"/><circle cx="295.9" cy="498.3" r="4.2" fill="#EE959D"/>
<text class="k" x="302" y="509.9" textLength="35.9" lengthAdjust="spacingAndGlyphs">: STRE;</text>
<path d="M343.3 498.3V511.4" stroke="#FFC000" stroke-width="1.5" fill="none" stroke-dasharray="1.6 1.3"/><circle cx="343.3" cy="498.3" r="4.2" fill="#FFC000"/>
<text class="k" x="349.4" y="509.9" textLength="33.9" lengthAdjust="spacingAndGlyphs">: SWI5;</text>
<path d="M389.7 498.3V511.4" stroke="#00B050" stroke-width="1.5" fill="none" stroke-dasharray="1.6 1.3"/><circle cx="389.7" cy="498.3" r="4.2" fill="#00B050"/>
<text class="k" x="395.4" y="509.9" textLength="26.5" lengthAdjust="spacingAndGlyphs">: T4C;</text>
<path d="M53.4 529.8V542.4" stroke="#0070C0" stroke-width="1.5" fill="none" stroke-dasharray="1.6 1.3"/><circle cx="53.4" cy="529.8" r="4.2" fill="#0070C0"/>
<text class="k" x="60.6" y="541.1" textLength="27.3" lengthAdjust="spacingAndGlyphs">: TBP;</text>
<path d="M94.7 529.8V542.4" stroke="#7030A0" stroke-width="1.5" fill="none" stroke-dasharray="1.6 1.3"/><circle cx="94.7" cy="529.8" r="4.2" fill="#7030A0"/>
<text class="k" x="100.6" y="541.1" textLength="34.6" lengthAdjust="spacingAndGlyphs">: TEA1;</text>
<path d="M141.7 529.5V541.6" stroke="#FFC000" stroke-width="1.8" fill="none"/><path d="M137.7 531.3Q138.1 528.0 141.7 528.0Q145.29999999999998 528.0 145.7 531.3Z" fill="#FFC000"/><path d="M138.0 538.5L141.7 541.8L145.39999999999998 538.5" stroke="#FFC000" stroke-width="1.7" fill="none" stroke-linecap="round"/>
<text class="k" x="147.2" y="541.1" textLength="50.8" lengthAdjust="spacingAndGlyphs">: UASPHR;</text>
<path d="M204.1 529.5V541.6" stroke="#00B050" stroke-width="1.8" fill="none"/><path d="M200.1 531.3Q200.5 528.0 204.1 528.0Q207.7 528.0 208.1 531.3Z" fill="#00B050"/><path d="M200.4 538.5L204.1 541.8L207.79999999999998 538.5" stroke="#00B050" stroke-width="1.7" fill="none" stroke-linecap="round"/>
<text class="k" x="209.6" y="541.1" textLength="26.3" lengthAdjust="spacingAndGlyphs">: SFF;</text>
<path d="M242.2 529.5V541.6" stroke="#EE959D" stroke-width="1.8" fill="none"/><path d="M238.2 531.3Q238.6 528.0 242.2 528.0Q245.79999999999998 528.0 246.2 531.3Z" fill="#EE959D"/><path d="M238.5 538.5L242.2 541.8L245.89999999999998 538.5" stroke="#EE959D" stroke-width="1.7" fill="none" stroke-linecap="round"/>
<text class="k" x="248.0" y="541.1" textLength="39.7" lengthAdjust="spacingAndGlyphs">: STE12;</text>
<path d="M292.9 529.5V541.6" stroke="#0070C0" stroke-width="1.8" fill="none"/><path d="M288.9 531.3Q289.29999999999995 528.0 292.9 528.0Q296.5 528.0 296.9 531.3Z" fill="#0070C0"/><path d="M289.2 538.5L292.9 541.8L296.59999999999997 538.5" stroke="#0070C0" stroke-width="1.7" fill="none" stroke-linecap="round"/>
<text class="k" x="298.4" y="541.1" textLength="30.9" lengthAdjust="spacingAndGlyphs">: MIG1</text>
</svg>
</body></html>
